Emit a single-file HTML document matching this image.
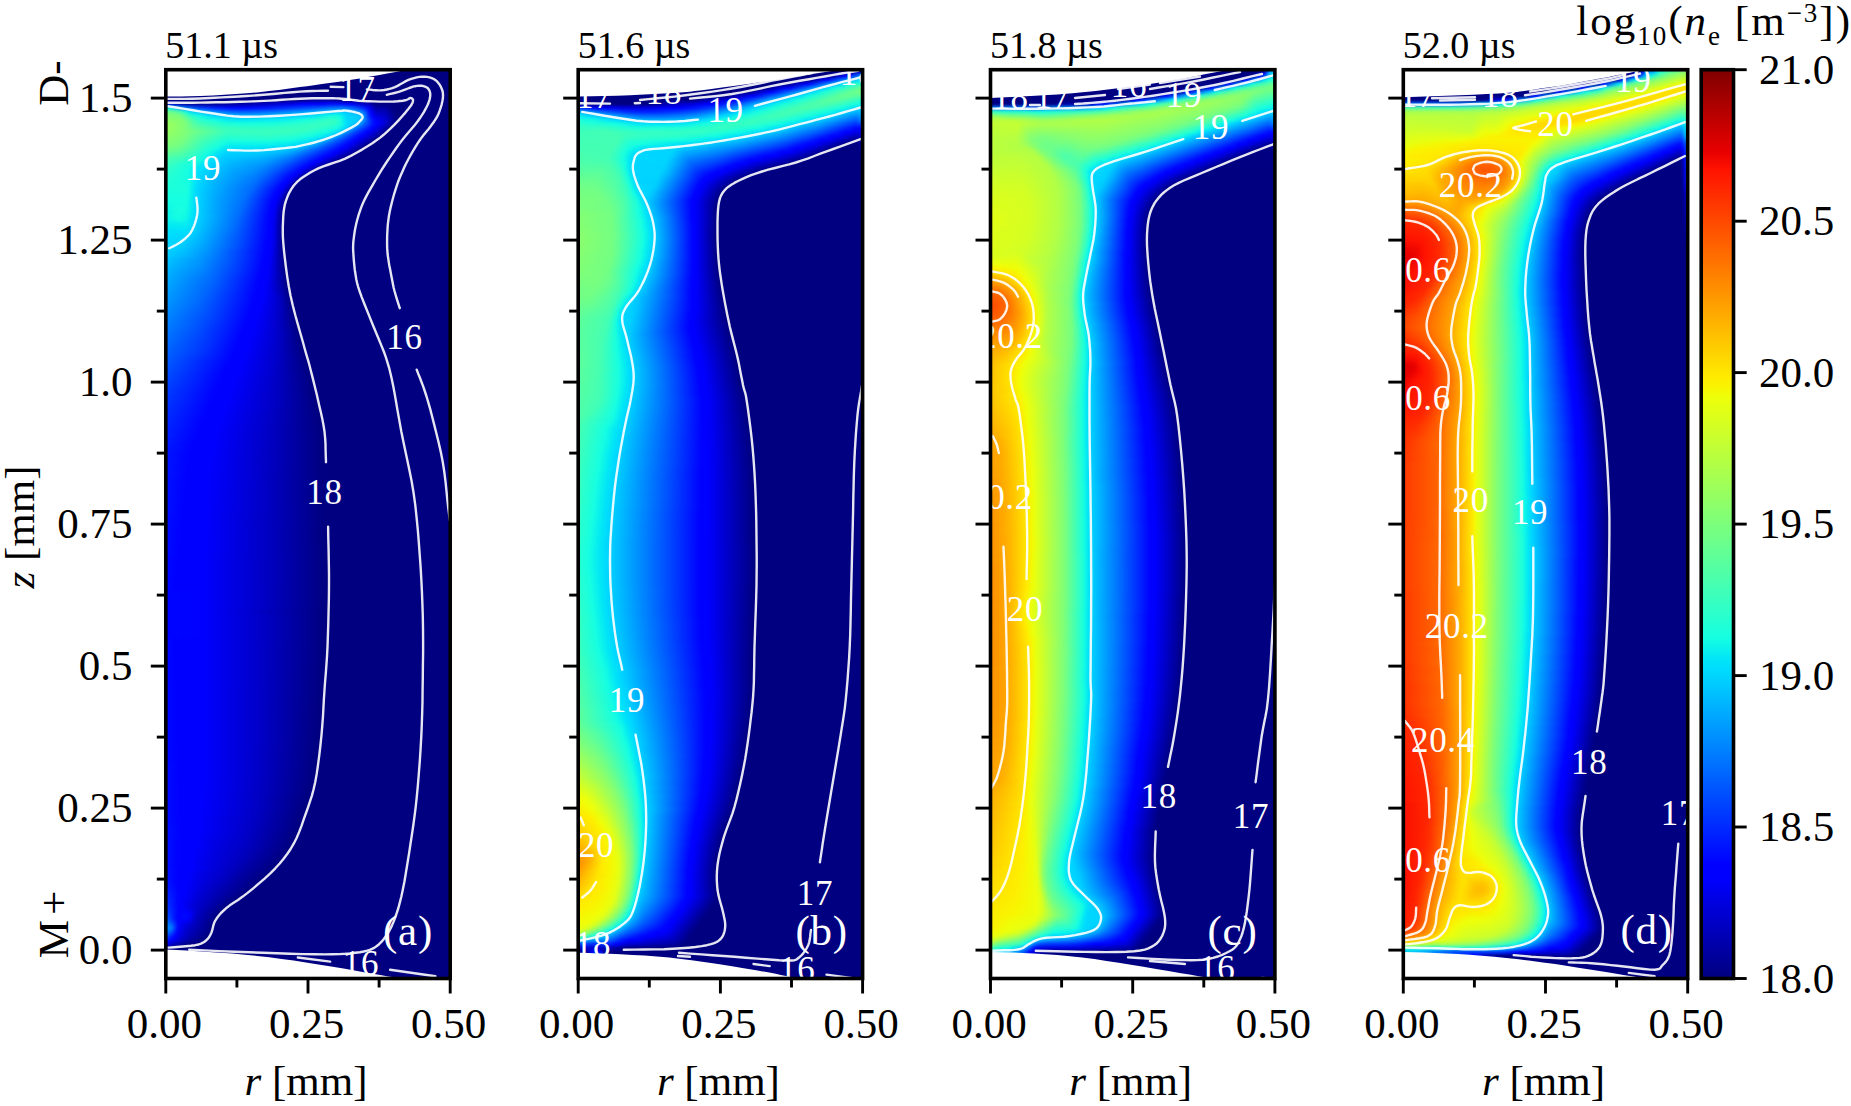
<!DOCTYPE html>
<html><head><meta charset="utf-8"><title>Electron density</title>
<style>
html,body{margin:0;padding:0;background:#fff}
body{width:1851px;height:1106px;position:relative;overflow:hidden;font-family:"Liberation Serif","DejaVu Serif",serif}
.p{position:absolute;top:69.7px;width:284.4px;height:908.8px;overflow:hidden;background:#000080}
.p i{display:block;height:4px;width:100%}
.f{filter:blur(1.5px);margin:0 0 0 -6px;width:296.4px}
svg{position:absolute;left:0;top:0}
text{font-family:"Liberation Serif","DejaVu Serif",serif}
.cb{position:absolute;left:1701.2px;top:69.7px;width:32.3px;height:908.8px;background:linear-gradient(180deg,#800000 0.0%,#e80000 9.0%,#ff1300 11.0%,#feed00 34.0%,#f8f500 35.0%,#eeff09 36.0%,#16ffe1 62.5%,#00e4f8 65.0%,#00dcfe 66.0%,#0000ff 87.5%,#0000ff 89.0%,#000080 100.0%)}
</style></head><body>

<div class="p" style="left:165.8px"><div class="f">
<i style="background:linear-gradient(90deg,#000080 6px,#000080 290px)"></i>
<i style="background:linear-gradient(90deg,#000080 6px,#000080 290px)"></i>
<i style="background:linear-gradient(90deg,#000080 6px,#000080 290px)"></i>
<i style="background:linear-gradient(90deg,#000080 6px,#000080 290px)"></i>
<i style="background:linear-gradient(90deg,#000080 6px,#000080 290px)"></i>
<i style="background:linear-gradient(90deg,#000080 6px,#000080 290px)"></i>
<i style="background:linear-gradient(90deg,#000080 6px,#000080 290px)"></i>
<i style="background:linear-gradient(90deg,#000080 6px,#000080 137px,#000092 147px,#00009f 162px,#00009b 174px,#000080 185px,#000080 290px)"></i>
<i style="background:linear-gradient(90deg,#0000e3 6px,#0000df 9px,#0000b2 20px,#00009f 29px,#000096 37px,#000096 59px,#0000a8 87px,#0000d1 117px,#00f 143px,#00f 162px,#000cff 172px,#000cff 182px,#00f 187px,#00f 191px,#0000d1 200px,#0000ad 210px,#000089 214px,#000080 216px,#000080 290px)"></i>
<i style="background:linear-gradient(90deg,#16ffe1 6px,#0ff8e7 9px,#00e4f8 12px,#00d4ff 14px,#008cff 23px,#0074ff 27px,#04f 39px,#001cff 55px,#0008ff 70px,#0004ff 81px,#0014ff 106px,#0058ff 157px,#0074ff 173px,#007cff 184px,#0058ff 194px,#0014ff 206px,#00f 208px,#00f 209px,#0000b6 214px,#0000a8 216px,#0000a4 225px,#000080 234px,#000080 290px)"></i>
<i style="background:linear-gradient(90deg,#70ff87 6px,#73ff83 9px,#66ff90 15px,#49ffad 20px,#19ffde 26px,#02e8f4 30px,#00dcfe 33px,#008cff 56px,#0068ff 71px,#0060ff 79px,#0060ff 89px,#0074ff 114px,#00d4ff 181px,#00b8ff 193px,#009cff 199px,#0084ff 202px,#0060ff 205px,#00f 210px,#00f 211px,#0000d6 214px,#0000bf 217px,#00b 225px,#000089 233px,#000080 236px,#000080 290px)"></i>
<i style="background:linear-gradient(90deg,#83ff73 6px,#7dff7a 19px,#77ff80 21px,#49ffad 27px,#2cffca 32px,#16ffe1 39px,#02e8f4 48px,#00dcfe 54px,#00b4ff 79px,#00b4ff 95px,#00dcfe 146px,#02e8f4 156px,#16ffe1 170px,#16ffe1 179px,#00e4f8 184px,#00d8ff 186px,#00c8ff 200px,#00b4ff 202px,#0094ff 204px,#0024ff 209px,#00f 212px,#00f 213px,#0000e3 216px,#0000d6 219px,#0000d6 222px,#0000c8 226px,#00008d 234px,#000080 237px,#000080 290px)"></i>
<i style="background:linear-gradient(90deg,#90ff66 6px,#83ff73 21px,#77ff80 25px,#40ffb7 34px,#26ffd1 42px,#16ffe1 54px,#09f0ee 65px,#02e8f4 76px,#09f0ee 124px,#16ffe1 143px,#33ffc4 169px,#33ffc4 175px,#19ffde 181px,#00e4f8 185px,#00d8ff 187px,#0cf 199px,#00b0ff 202px,#0048ff 208px,#0018ff 212px,#00f 215px,#0000da 225px,#000080 237px,#000080 290px)"></i>
<i style="background:linear-gradient(90deg,#9aff5d 6px,#83ff73 23px,#73ff83 28px,#5aff9d 32px,#43ffb4 39px,#1fffd7 65px,#19ffde 84px,#1cffdb 113px,#39ffbe 166px,#2cffca 176px,#19ffde 181px,#02e8f4 185px,#00dcfe 187px,#00c4ff 195px,#00acff 198px,#005cff 205px,#0014ff 213px,#00f 216px,#00f 218px,#0000d1 225px,#000080 234px,#000080 290px)"></i>
<i style="background:linear-gradient(90deg,#9aff5d 6px,#83ff73 23px,#60ff97 35px,#36ffc1 64px,#30ffc7 102px,#39ffbe 151px,#2cffca 164px,#16ffe1 177px,#00e0fb 185px,#00b0ff 191px,#0064ff 198px,#00f 212px,#00f 214px,#0000f1 216px,#0000a8 226px,#000080 230px,#000080 290px)"></i>
<i style="background:linear-gradient(90deg,#97ff60 6px,#83ff73 22px,#39ffbe 67px,#39ffbe 128px,#30ffc7 145px,#16ffe1 166px,#09f0ee 173px,#00d8ff 179px,#00b8ff 183px,#005cff 192px,#00f 206px,#0000fa 209px,#0000b2 220px,#000080 226px,#000080 290px)"></i>
<i style="background:linear-gradient(90deg,#90ff66 6px,#7dff7a 24px,#63ff94 34px,#2cffca 67px,#30ffc7 110px,#26ffd1 134px,#16ffe1 151px,#06ecf1 163px,#00d8ff 169px,#0cf 172px,#004cff 187px,#00f 200px,#0000f6 204px,#00009b 218px,#000080 221px,#000080 290px)"></i>
<i style="background:linear-gradient(90deg,#87ff70 6px,#7aff7d 23px,#49ffad 41px,#1cffdb 67px,#1fffd7 105px,#16ffe1 131px,#06ecf1 149px,#00d8ff 157px,#00c4ff 163px,#0064ff 176px,#00f 194px,#0000f6 198px,#000080 216px,#000080 290px)"></i>
<i style="background:linear-gradient(90deg,#80ff77 6px,#7aff7d 18px,#39ffbe 43px,#16ffe1 63px,#0cf4eb 68px,#0cf4eb 112px,#02e8f4 132px,#00d8ff 143px,#00d0ff 147px,#00acff 156px,#0060ff 168px,#00f 188px,#0000f6 192px,#000080 210px,#000080 290px)"></i>
<i style="background:linear-gradient(90deg,#77ff80 6px,#6dff8a 18px,#49ffad 34px,#29ffce 45px,#16ffe1 56px,#00e4f8 66px,#00e4f8 97px,#00d8ff 116px,#00d0ff 129px,#00c0ff 138px,#00f 181px,#00f 184px,#0000f6 186px,#000080 204px,#000080 290px)"></i>
<i style="background:linear-gradient(90deg,#6aff8d 6px,#5aff9d 20px,#16ffe1 49px,#00dcfe 63px,#00d0ff 72px,#0cf 105px,#00b8ff 124px,#00a0ff 134px,#00f 174px,#00f 177px,#000080 198px,#000080 290px)"></i>
<i style="background:linear-gradient(90deg,#53ffa4 6px,#49ffad 20px,#16ffe1 45px,#00e4f8 54px,#00dcfe 57px,#0cf 65px,#00c0ff 96px,#00acff 114px,#08f 130px,#00f 166px,#00f 170px,#0000b6 181px,#000080 191px,#000080 290px)"></i>
<i style="background:linear-gradient(90deg,#46ffb1 6px,#39ffbe 19px,#16ffe1 40px,#02e8f4 48px,#00dcfe 52px,#00c4ff 65px,#00a4ff 106px,#0070ff 128px,#00f 158px,#00f 161px,#0000f6 163px,#0000b6 172px,#000080 183px,#000080 290px)"></i>
<i style="background:linear-gradient(90deg,#3cffba 6px,#16ffe1 32px,#02e8f4 42px,#00dcfe 48px,#00b4ff 72px,#0098ff 103px,#006cff 121px,#00f 151px,#0000f6 155px,#0000a4 165px,#000080 172px,#000080 290px)"></i>
<i style="background:linear-gradient(90deg,#33ffc4 6px,#16ffe1 28px,#00e4f8 39px,#00dcfe 43px,#00b0ff 69px,#0090ff 99px,#005cff 119px,#00f 144px,#0000fa 147px,#000096 158px,#000080 162px,#000080 290px)"></i>
<i style="background:linear-gradient(90deg,#2cffca 6px,#16ffe1 28px,#00e4f8 37px,#00d8ff 42px,#00a0ff 75px,#0090ff 92px,#006cff 108px,#00f 138px,#0000fa 141px,#0000ad 148px,#000089 152px,#000080 154px,#000080 290px)"></i>
<i style="background:linear-gradient(90deg,#26ffd1 6px,#16ffe1 28px,#00e4f8 36px,#00d8ff 40px,#00a0ff 71px,#007cff 97px,#005cff 108px,#00f 132px,#0000fa 135px,#0000df 138px,#00009f 143px,#000080 147px,#000080 290px)"></i>
<i style="background:linear-gradient(90deg,#23ffd4 6px,#16ffe1 28px,#02e8f4 34px,#00d8ff 39px,#00b8ff 54px,#0074ff 96px,#0020ff 120px,#00f 127px,#00f 130px,#0000ed 132px,#0000a8 137px,#000080 141px,#000080 290px)"></i>
<i style="background:linear-gradient(90deg,#1fffd7 6px,#16ffe1 29px,#02e8f4 34px,#00d8ff 38px,#00b0ff 56px,#0070ff 94px,#002cff 113px,#00f 123px,#00f 126px,#0000ed 128px,#00008d 135px,#000080 137px,#000080 290px)"></i>
<i style="background:linear-gradient(90deg,#1cffdb 6px,#1cffdb 25px,#16ffe1 28px,#00e4f8 34px,#00d8ff 37px,#0098ff 67px,#006cff 92px,#00f 120px,#00f 123px,#0000f6 124px,#000080 133px,#000080 290px)"></i>
<i style="background:linear-gradient(90deg,#19ffde 6px,#1cffdb 24px,#16ffe1 28px,#02e8f4 33px,#00d8ff 36px,#00b4ff 51px,#0068ff 91px,#00f 117px,#0000fa 121px,#00b 126px,#00008d 129px,#000080 131px,#000080 290px)"></i>
<i style="background:linear-gradient(90deg,#16ffe1 6px,#16ffe1 28px,#02e8f4 33px,#00d8ff 36px,#00acff 54px,#0070ff 86px,#00f 115px,#00f 118px,#0000ed 120px,#00008d 127px,#000080 129px,#000080 290px)"></i>
<i style="background:linear-gradient(90deg,#16ffe1 6px,#16ffe1 27px,#02e8f4 32px,#00d8ff 36px,#00a4ff 57px,#0070ff 84px,#00f 113px,#00f 116px,#0000f1 118px,#000092 125px,#000080 127px,#000080 290px)"></i>
<i style="background:linear-gradient(90deg,#13fce4 6px,#16ffe1 27px,#02e8f4 32px,#00d8ff 36px,#00acff 53px,#0068ff 85px,#00f 112px,#00f 115px,#0000ed 117px,#00008d 124px,#000080 126px,#000080 290px)"></i>
<i style="background:linear-gradient(90deg,#0ff8e7 6px,#19ffde 19px,#16ffe1 26px,#02e8f4 32px,#00d8ff 36px,#00a4ff 56px,#006cff 82px,#00f 111px,#00f 114px,#0000ed 116px,#00009b 122px,#000080 125px,#000080 290px)"></i>
<i style="background:linear-gradient(90deg,#0cf4eb 6px,#19ffde 20px,#16ffe1 25px,#02e8f4 32px,#00d8ff 36px,#00acff 52px,#0070ff 79px,#00f 110px,#00f 113px,#0000f1 115px,#00009f 121px,#000080 124px,#000080 290px)"></i>
<i style="background:linear-gradient(90deg,#0cf4eb 6px,#16ffe1 17px,#0ff8e7 27px,#00e4f8 32px,#00d8ff 35px,#0068ff 80px,#00f 109px,#00f 113px,#0000ed 115px,#00008d 122px,#000080 124px,#000080 290px)"></i>
<i style="background:linear-gradient(90deg,#09f0ee 6px,#13fce4 20px,#0ff8e7 25px,#00e4f8 31px,#00d8ff 34px,#006cff 77px,#00f 109px,#0000fa 113px,#0000e8 115px,#000096 121px,#000080 124px,#000080 290px)"></i>
<i style="background:linear-gradient(90deg,#06ecf1 6px,#06ecf1 27px,#00d8ff 33px,#0068ff 77px,#00f 108px,#0000fa 113px,#000080 123px,#000080 290px)"></i>
<i style="background:linear-gradient(90deg,#00e4f8 6px,#02e8f4 25px,#00e0fb 29px,#006cff 74px,#00f 108px,#00f 112px,#0000e3 115px,#00009f 120px,#000080 123px,#000080 290px)"></i>
<i style="background:linear-gradient(90deg,#00e0fb 6px,#00dcfe 28px,#0068ff 74px,#00f 108px,#00f 112px,#0000d6 116px,#000092 121px,#000080 123px,#000080 290px)"></i>
<i style="background:linear-gradient(90deg,#00dcfe 6px,#00d8ff 25px,#00c8ff 34px,#0050ff 81px,#00f 107px,#00f 111px,#0000f6 113px,#000080 123px,#000080 290px)"></i>
<i style="background:linear-gradient(90deg,#00d8ff 6px,#00d4ff 23px,#00b0ff 42px,#04f 84px,#00f 107px,#0000fa 112px,#0000df 115px,#000080 123px,#000080 290px)"></i>
<i style="background:linear-gradient(90deg,#00d8ff 6px,#00d0ff 21px,#00a8ff 43px,#004cff 80px,#00f 106px,#0000fa 112px,#0000df 115px,#000096 121px,#000080 124px,#000080 290px)"></i>
<i style="background:linear-gradient(90deg,#00d4ff 6px,#00c8ff 22px,#00a0ff 44px,#0050ff 77px,#00f 106px,#00f 111px,#0000d1 116px,#00008d 122px,#000080 124px,#000080 290px)"></i>
<i style="background:linear-gradient(90deg,#00d0ff 6px,#00c4ff 20px,#0094ff 47px,#00f 105px,#00f 110px,#0000f6 112px,#000080 124px,#000080 290px)"></i>
<i style="background:linear-gradient(90deg,#0cf 6px,#00b0ff 29px,#08f 50px,#0030ff 87px,#00f 104px,#00f 110px,#000089 123px,#000080 125px,#000080 290px)"></i>
<i style="background:linear-gradient(90deg,#00c4ff 6px,#0094ff 41px,#0058ff 69px,#00f 104px,#00f 109px,#0000f6 111px,#000080 125px,#000080 290px)"></i>
<i style="background:linear-gradient(90deg,#00c0ff 6px,#0090ff 41px,#04f 76px,#00f 103px,#00f 109px,#000080 125px,#000080 290px)"></i>
<i style="background:linear-gradient(90deg,#00b8ff 6px,#008cff 40px,#004cff 71px,#00f 102px,#00f 108px,#0000f6 110px,#00009f 121px,#000080 126px,#000080 290px)"></i>
<i style="background:linear-gradient(90deg,#00b4ff 6px,#0080ff 44px,#0030ff 82px,#00f 101px,#00f 107px,#0000ed 111px,#000080 126px,#000080 290px)"></i>
<i style="background:linear-gradient(90deg,#00b0ff 6px,#0070ff 50px,#00f 100px,#00f 107px,#0000f6 109px,#000080 127px,#000080 290px)"></i>
<i style="background:linear-gradient(90deg,#00acff 6px,#0068ff 52px,#00f 99px,#00f 106px,#0000ed 110px,#000080 127px,#000080 290px)"></i>
<i style="background:linear-gradient(90deg,#00a8ff 6px,#0064ff 52px,#00f 98px,#0000fa 107px,#000080 128px,#000080 290px)"></i>
<i style="background:linear-gradient(90deg,#00a4ff 6px,#0060ff 52px,#00f 97px,#00f 105px,#0000da 113px,#000080 129px,#000080 290px)"></i>
<i style="background:linear-gradient(90deg,#00a0ff 6px,#006cff 43px,#00f 96px,#00f 104px,#0000ed 110px,#000080 130px,#000080 290px)"></i>
<i style="background:linear-gradient(90deg,#009cff 6px,#0068ff 43px,#00f 95px,#00f 103px,#0000e3 112px,#00b 121px,#000080 130px,#000080 290px)"></i>
<i style="background:linear-gradient(90deg,#0098ff 6px,#0064ff 43px,#00f 94px,#00f 102px,#0000d1 117px,#0000bf 121px,#000080 131px,#000080 290px)"></i>
<i style="background:linear-gradient(90deg,#0094ff 6px,#006cff 36px,#00f 93px,#00f 101px,#0000cd 118px,#000080 132px,#000080 290px)"></i>
<i style="background:linear-gradient(90deg,#0090ff 6px,#005cff 43px,#00f 91px,#00f 100px,#0000cd 118px,#000080 133px,#000080 290px)"></i>
<i style="background:linear-gradient(90deg,#008cff 6px,#0058ff 43px,#00f 90px,#00f 99px,#0000da 113px,#0000c4 120px,#000080 134px,#000080 290px)"></i>
<i style="background:linear-gradient(90deg,#08f 6px,#004cff 48px,#00f 89px,#00f 98px,#0000d1 116px,#000080 135px,#000080 290px)"></i>
<i style="background:linear-gradient(90deg,#0084ff 6px,#0048ff 48px,#00f 87px,#00f 96px,#0000c8 119px,#000080 136px,#000080 290px)"></i>
<i style="background:linear-gradient(90deg,#0080ff 6px,#0064ff 28px,#00f 86px,#00f 95px,#0000cd 117px,#000080 137px,#000080 290px)"></i>
<i style="background:linear-gradient(90deg,#007cff 6px,#004cff 41px,#00f 84px,#00f 94px,#0000cd 117px,#000080 138px,#000080 290px)"></i>
<i style="background:linear-gradient(90deg,#0078ff 6px,#0050ff 36px,#00f 82px,#00f 92px,#0000e8 104px,#0000c4 120px,#000080 139px,#000080 290px)"></i>
<i style="background:linear-gradient(90deg,#0074ff 6px,#0040ff 44px,#00f 81px,#00f 91px,#0000d6 112px,#00b 123px,#000080 140px,#000080 290px)"></i>
<i style="background:linear-gradient(90deg,#0070ff 6px,#0038ff 47px,#00f 79px,#00f 89px,#0000cd 116px,#000080 141px,#000080 290px)"></i>
<i style="background:linear-gradient(90deg,#006cff 6px,#0030ff 50px,#00f 77px,#00f 88px,#0000cd 116px,#000080 142px,#000080 290px)"></i>
<i style="background:linear-gradient(90deg,#0068ff 6px,#003cff 40px,#00f 76px,#00f 87px,#0000c8 118px,#000080 143px,#000080 290px)"></i>
<i style="background:linear-gradient(90deg,#0064ff 6px,#0034ff 43px,#00f 74px,#00f 85px,#0000cd 115px,#000080 144px,#000080 290px)"></i>
<i style="background:linear-gradient(90deg,#0060ff 6px,#002cff 46px,#00f 72px,#00f 84px,#0000df 104px,#00b 123px,#000080 145px,#000080 290px)"></i>
<i style="background:linear-gradient(90deg,#005cff 6px,#00f 71px,#00f 82px,#0000c8 117px,#000080 146px,#000080 290px)"></i>
<i style="background:linear-gradient(90deg,#0058ff 6px,#00f 69px,#00f 81px,#0000cd 114px,#000080 147px,#000080 290px)"></i>
<i style="background:linear-gradient(90deg,#0054ff 6px,#00f 67px,#00f 79px,#0000cd 113px,#000080 148px,#000080 290px)"></i>
<i style="background:linear-gradient(90deg,#0050ff 6px,#00f 64px,#00f 78px,#0000cd 113px,#000080 149px,#000080 290px)"></i>
<i style="background:linear-gradient(90deg,#004cff 6px,#00f 62px,#00f 76px,#0000c4 118px,#000080 150px,#000080 290px)"></i>
<i style="background:linear-gradient(90deg,#0048ff 6px,#00f 61px,#00f 74px,#0000c4 117px,#000080 151px,#000080 290px)"></i>
<i style="background:linear-gradient(90deg,#04f 6px,#00f 59px,#00f 73px,#0000c4 117px,#000080 152px,#000080 290px)"></i>
<i style="background:linear-gradient(90deg,#0040ff 6px,#00f 57px,#00f 71px,#0000c4 116px,#000080 153px,#000080 290px)"></i>
<i style="background:linear-gradient(90deg,#003cff 6px,#00f 55px,#00f 70px,#0000c4 116px,#000080 153px,#000080 290px)"></i>
<i style="background:linear-gradient(90deg,#0038ff 6px,#00f 53px,#00f 68px,#0000c4 116px,#000080 154px,#000080 290px)"></i>
<i style="background:linear-gradient(90deg,#0038ff 6px,#00f 52px,#00f 67px,#0000c4 115px,#000080 155px,#000080 290px)"></i>
<i style="background:linear-gradient(90deg,#0034ff 6px,#00f 50px,#00f 66px,#0000c4 115px,#000080 156px,#000080 290px)"></i>
<i style="background:linear-gradient(90deg,#0030ff 6px,#00f 48px,#00f 64px,#0000c4 114px,#000080 157px,#000080 290px)"></i>
<i style="background:linear-gradient(90deg,#0030ff 6px,#00f 47px,#00f 63px,#0000c4 113px,#000080 158px,#000080 290px)"></i>
<i style="background:linear-gradient(90deg,#002cff 6px,#00f 45px,#00f 61px,#0000bf 116px,#000080 158px,#000080 290px)"></i>
<i style="background:linear-gradient(90deg,#0028ff 6px,#00f 43px,#00f 60px,#0000c4 112px,#000080 159px,#000080 290px)"></i>
<i style="background:linear-gradient(90deg,#0028ff 6px,#00f 42px,#00f 59px,#0000c4 111px,#000080 160px,#000080 290px)"></i>
<i style="background:linear-gradient(90deg,#0024ff 6px,#00f 40px,#00f 58px,#0000cd 103px,#000080 160px,#000080 290px)"></i>
<i style="background:linear-gradient(90deg,#0020ff 6px,#00f 38px,#00f 56px,#0000c4 110px,#000080 161px,#000080 290px)"></i>
<i style="background:linear-gradient(90deg,#0020ff 6px,#00f 37px,#00f 55px,#0000c4 110px,#000080 161px,#000080 290px)"></i>
<i style="background:linear-gradient(90deg,#001cff 6px,#00f 35px,#00f 54px,#00b 117px,#000080 162px,#000080 290px)"></i>
<i style="background:linear-gradient(90deg,#0018ff 6px,#00f 33px,#00f 53px,#0000c4 109px,#000080 162px,#000080 290px)"></i>
<i style="background:linear-gradient(90deg,#0018ff 6px,#00f 32px,#00f 52px,#0000c4 109px,#000080 162px,#000080 290px)"></i>
<i style="background:linear-gradient(90deg,#0014ff 6px,#00f 30px,#00f 52px,#0000b2 124px,#000080 162px,#000080 290px)"></i>
<i style="background:linear-gradient(90deg,#0014ff 6px,#00f 29px,#00f 51px,#00b 116px,#000080 162px,#000080 290px)"></i>
<i style="background:linear-gradient(90deg,#0014ff 6px,#00f 28px,#00f 50px,#00b 116px,#000080 162px,#000080 290px)"></i>
<i style="background:linear-gradient(90deg,#0014ff 6px,#00f 28px,#00f 50px,#00b 116px,#000080 162px,#000080 290px)"></i>
<i style="background:linear-gradient(90deg,#0014ff 6px,#00f 27px,#00f 49px,#0000c4 108px,#000080 162px,#000080 290px)"></i>
<i style="background:linear-gradient(90deg,#0014ff 6px,#00f 27px,#00f 49px,#0000c4 108px,#000080 163px,#000080 290px)"></i>
<i style="background:linear-gradient(90deg,#0014ff 6px,#00f 26px,#00f 48px,#0000cd 99px,#000080 163px,#000080 290px)"></i>
<i style="background:linear-gradient(90deg,#0010ff 6px,#00f 26px,#00f 48px,#0000cd 99px,#000080 163px,#000080 290px)"></i>
<i style="background:linear-gradient(90deg,#0010ff 6px,#00f 26px,#00f 48px,#0000c4 107px,#000080 163px,#000080 290px)"></i>
<i style="background:linear-gradient(90deg,#0010ff 6px,#00f 25px,#00f 47px,#0000c4 107px,#000080 163px,#000080 290px)"></i>
<i style="background:linear-gradient(90deg,#0010ff 6px,#00f 25px,#00f 47px,#0000c4 107px,#000080 163px,#000080 290px)"></i>
<i style="background:linear-gradient(90deg,#0010ff 6px,#00f 24px,#00f 47px,#0000c4 107px,#000080 163px,#000080 290px)"></i>
<i style="background:linear-gradient(90deg,#0010ff 6px,#00f 24px,#00f 46px,#0000c4 107px,#000080 163px,#000080 290px)"></i>
<i style="background:linear-gradient(90deg,#0010ff 6px,#00f 23px,#00f 46px,#0000c4 107px,#000080 164px,#000080 290px)"></i>
<i style="background:linear-gradient(90deg,#0010ff 6px,#00f 23px,#00f 46px,#0000c4 107px,#000080 164px,#000080 290px)"></i>
<i style="background:linear-gradient(90deg,#0010ff 6px,#00f 23px,#00f 45px,#0000c4 107px,#000080 164px,#000080 290px)"></i>
<i style="background:linear-gradient(90deg,#000cff 6px,#00f 22px,#00f 45px,#00b 115px,#000080 164px,#000080 290px)"></i>
<i style="background:linear-gradient(90deg,#000cff 6px,#00f 22px,#00f 45px,#0000b2 123px,#000080 164px,#000080 290px)"></i>
<i style="background:linear-gradient(90deg,#000cff 6px,#00f 21px,#00f 45px,#0000b2 123px,#000080 164px,#000080 290px)"></i>
<i style="background:linear-gradient(90deg,#000cff 6px,#00f 21px,#00f 45px,#0000c4 106px,#000080 164px,#000080 290px)"></i>
<i style="background:linear-gradient(90deg,#000cff 6px,#00f 20px,#00f 44px,#0000c4 106px,#000080 164px,#000080 290px)"></i>
<i style="background:linear-gradient(90deg,#000cff 6px,#00f 20px,#00f 44px,#0000c4 106px,#000080 164px,#000080 290px)"></i>
<i style="background:linear-gradient(90deg,#000cff 6px,#00f 20px,#00f 44px,#0000c4 106px,#000080 164px,#000080 290px)"></i>
<i style="background:linear-gradient(90deg,#000cff 6px,#00f 19px,#00f 44px,#0000c4 106px,#000080 164px,#000080 290px)"></i>
<i style="background:linear-gradient(90deg,#000cff 6px,#00f 19px,#00f 44px,#0000c4 106px,#000080 165px,#000080 290px)"></i>
<i style="background:linear-gradient(90deg,#000cff 6px,#00f 18px,#00f 44px,#0000c4 106px,#000080 165px,#000080 290px)"></i>
<i style="background:linear-gradient(90deg,#0008ff 6px,#00f 18px,#00f 43px,#0000c4 106px,#000080 165px,#000080 290px)"></i>
<i style="background:linear-gradient(90deg,#0008ff 6px,#00f 17px,#00f 43px,#00b 114px,#000080 165px,#000080 290px)"></i>
<i style="background:linear-gradient(90deg,#0008ff 6px,#00f 17px,#00f 43px,#00b 114px,#000080 165px,#000080 290px)"></i>
<i style="background:linear-gradient(90deg,#0008ff 6px,#00f 16px,#00f 43px,#00b 114px,#000080 165px,#000080 290px)"></i>
<i style="background:linear-gradient(90deg,#0008ff 6px,#00f 16px,#00f 43px,#00b 114px,#000080 165px,#000080 290px)"></i>
<i style="background:linear-gradient(90deg,#0008ff 6px,#00f 16px,#00f 43px,#00b 114px,#000080 165px,#000080 290px)"></i>
<i style="background:linear-gradient(90deg,#0008ff 6px,#00f 15px,#00f 43px,#00b 114px,#000080 165px,#000080 290px)"></i>
<i style="background:linear-gradient(90deg,#0008ff 6px,#00f 15px,#00f 43px,#0000c4 105px,#000080 165px,#000080 290px)"></i>
<i style="background:linear-gradient(90deg,#0008ff 6px,#00f 14px,#00f 43px,#0000c4 105px,#000080 165px,#000080 290px)"></i>
<i style="background:linear-gradient(90deg,#0004ff 6px,#00f 43px,#0000c4 105px,#000080 165px,#000080 290px)"></i>
<i style="background:linear-gradient(90deg,#0004ff 6px,#00f 43px,#0000c4 105px,#000080 165px,#000080 290px)"></i>
<i style="background:linear-gradient(90deg,#0004ff 6px,#00f 43px,#0000c4 105px,#000080 165px,#000080 290px)"></i>
<i style="background:linear-gradient(90deg,#0004ff 6px,#00f 43px,#0000c4 105px,#000080 165px,#000080 290px)"></i>
<i style="background:linear-gradient(90deg,#0004ff 6px,#00f 43px,#0000c4 105px,#000080 165px,#000080 290px)"></i>
<i style="background:linear-gradient(90deg,#0004ff 6px,#00f 43px,#000080 165px,#000080 290px)"></i>
<i style="background:linear-gradient(90deg,#0004ff 6px,#00f 43px,#00b 113px,#000080 164px,#000080 290px)"></i>
<i style="background:linear-gradient(90deg,#0004ff 6px,#00f 43px,#00b 113px,#000080 164px,#000080 290px)"></i>
<i style="background:linear-gradient(90deg,#0004ff 6px,#00f 43px,#00b 113px,#000080 164px,#000080 290px)"></i>
<i style="background:linear-gradient(90deg,#0004ff 6px,#00f 43px,#00b 113px,#000080 164px,#000080 290px)"></i>
<i style="background:linear-gradient(90deg,#0004ff 6px,#00f 43px,#00b 113px,#000080 164px,#000080 290px)"></i>
<i style="background:linear-gradient(90deg,#0004ff 6px,#00f 43px,#00b 113px,#000080 164px,#000080 290px)"></i>
<i style="background:linear-gradient(90deg,#0008ff 6px,#00f 14px,#00f 43px,#00b 113px,#000080 164px,#000080 290px)"></i>
<i style="background:linear-gradient(90deg,#0008ff 6px,#00f 14px,#00f 43px,#0000c4 104px,#000080 164px,#000080 290px)"></i>
<i style="background:linear-gradient(90deg,#0008ff 6px,#00f 14px,#00f 43px,#0000c4 104px,#000080 163px,#000080 290px)"></i>
<i style="background:linear-gradient(90deg,#0008ff 6px,#00f 14px,#00f 43px,#0000c4 104px,#000080 163px,#000080 290px)"></i>
<i style="background:linear-gradient(90deg,#0008ff 6px,#00f 15px,#00f 43px,#0000c4 104px,#000080 163px,#000080 290px)"></i>
<i style="background:linear-gradient(90deg,#0008ff 6px,#00f 15px,#00f 43px,#0000c4 104px,#000080 163px,#000080 290px)"></i>
<i style="background:linear-gradient(90deg,#0008ff 6px,#00f 15px,#00f 43px,#0000c4 104px,#000080 163px,#000080 290px)"></i>
<i style="background:linear-gradient(90deg,#0008ff 6px,#00f 15px,#00f 43px,#0000c4 104px,#000080 162px,#000080 290px)"></i>
<i style="background:linear-gradient(90deg,#0008ff 6px,#00f 15px,#00f 43px,#0000c4 104px,#000080 162px,#000080 290px)"></i>
<i style="background:linear-gradient(90deg,#0008ff 6px,#00f 15px,#00f 43px,#0000c4 104px,#000080 162px,#000080 290px)"></i>
<i style="background:linear-gradient(90deg,#0008ff 6px,#00f 15px,#00f 43px,#0000c4 104px,#000080 161px,#000080 290px)"></i>
<i style="background:linear-gradient(90deg,#0008ff 6px,#00f 16px,#00f 43px,#0000c4 104px,#000080 161px,#000080 290px)"></i>
<i style="background:linear-gradient(90deg,#0008ff 6px,#00f 16px,#00f 43px,#0000c4 104px,#000080 161px,#000080 290px)"></i>
<i style="background:linear-gradient(90deg,#0008ff 6px,#00f 16px,#00f 43px,#00b 112px,#000080 161px,#000080 290px)"></i>
<i style="background:linear-gradient(90deg,#0008ff 6px,#00f 16px,#00f 43px,#0000c4 103px,#000080 160px,#000080 290px)"></i>
<i style="background:linear-gradient(90deg,#0008ff 6px,#00f 16px,#00f 43px,#0000c4 103px,#000080 160px,#000080 290px)"></i>
<i style="background:linear-gradient(90deg,#0008ff 6px,#00f 16px,#00f 43px,#0000c4 103px,#000080 160px,#000080 290px)"></i>
<i style="background:linear-gradient(90deg,#0008ff 6px,#00f 16px,#00f 43px,#0000c4 103px,#000080 160px,#000080 290px)"></i>
<i style="background:linear-gradient(90deg,#0008ff 6px,#00f 17px,#00f 43px,#0000c4 103px,#000080 159px,#000080 290px)"></i>
<i style="background:linear-gradient(90deg,#0008ff 6px,#00f 17px,#00f 43px,#0000c4 103px,#000080 159px,#000080 290px)"></i>
<i style="background:linear-gradient(90deg,#0008ff 6px,#00f 17px,#00f 43px,#0000c4 103px,#000080 159px,#000080 290px)"></i>
<i style="background:linear-gradient(90deg,#0008ff 6px,#00f 17px,#00f 43px,#0000c4 103px,#000080 159px,#000080 290px)"></i>
<i style="background:linear-gradient(90deg,#0008ff 6px,#00f 17px,#00f 43px,#0000c4 103px,#000080 158px,#000080 290px)"></i>
<i style="background:linear-gradient(90deg,#0008ff 6px,#00f 17px,#00f 43px,#0000c4 103px,#000080 158px,#000080 290px)"></i>
<i style="background:linear-gradient(90deg,#0008ff 6px,#00f 17px,#00f 43px,#0000c4 103px,#000080 158px,#000080 290px)"></i>
<i style="background:linear-gradient(90deg,#0008ff 6px,#00f 17px,#00f 43px,#0000c4 103px,#000080 157px,#000080 290px)"></i>
<i style="background:linear-gradient(90deg,#0008ff 6px,#00f 18px,#00f 43px,#0000c4 103px,#000080 157px,#000080 290px)"></i>
<i style="background:linear-gradient(90deg,#0008ff 6px,#00f 18px,#00f 43px,#0000c4 103px,#000080 157px,#000080 290px)"></i>
<i style="background:linear-gradient(90deg,#0008ff 6px,#00f 18px,#00f 43px,#0000cd 94px,#000080 156px,#000080 290px)"></i>
<i style="background:linear-gradient(90deg,#0008ff 6px,#00f 18px,#00f 43px,#0000c4 102px,#000080 156px,#000080 290px)"></i>
<i style="background:linear-gradient(90deg,#0008ff 6px,#00f 18px,#00f 43px,#00b 110px,#000080 155px,#000080 290px)"></i>
<i style="background:linear-gradient(90deg,#000cff 6px,#00f 18px,#00f 43px,#0000c4 102px,#000080 155px,#000080 290px)"></i>
<i style="background:linear-gradient(90deg,#000cff 6px,#00f 18px,#00f 43px,#0000c4 102px,#000080 154px,#000080 290px)"></i>
<i style="background:linear-gradient(90deg,#000cff 6px,#00f 18px,#00f 43px,#0000c4 102px,#000080 153px,#000080 290px)"></i>
<i style="background:linear-gradient(90deg,#000cff 6px,#00f 18px,#00f 43px,#00b 109px,#000080 153px,#000080 290px)"></i>
<i style="background:linear-gradient(90deg,#000cff 6px,#00f 19px,#00f 43px,#0000c4 101px,#000080 152px,#000080 290px)"></i>
<i style="background:linear-gradient(90deg,#000cff 6px,#00f 19px,#00f 43px,#0000c4 101px,#000080 151px,#000080 290px)"></i>
<i style="background:linear-gradient(90deg,#000cff 6px,#00f 19px,#00f 43px,#0000c4 100px,#000080 151px,#000080 290px)"></i>
<i style="background:linear-gradient(90deg,#000cff 6px,#00f 19px,#00f 42px,#0000c4 100px,#000080 150px,#000080 290px)"></i>
<i style="background:linear-gradient(90deg,#000cff 6px,#00f 19px,#00f 42px,#0000c4 99px,#000080 148px,#000080 290px)"></i>
<i style="background:linear-gradient(90deg,#000cff 6px,#00f 19px,#00f 42px,#0000c4 98px,#000080 147px,#000080 290px)"></i>
<i style="background:linear-gradient(90deg,#000cff 6px,#00f 19px,#00f 41px,#0000c4 98px,#000080 146px,#000080 290px)"></i>
<i style="background:linear-gradient(90deg,#000cff 6px,#00f 19px,#00f 41px,#0000c4 97px,#000080 145px,#000080 290px)"></i>
<i style="background:linear-gradient(90deg,#000cff 6px,#00f 19px,#00f 41px,#0000c4 96px,#000080 143px,#000080 290px)"></i>
<i style="background:linear-gradient(90deg,#000cff 6px,#00f 19px,#00f 40px,#0000c4 95px,#000080 142px,#000080 290px)"></i>
<i style="background:linear-gradient(90deg,#000cff 6px,#00f 20px,#00f 40px,#0000e3 61px,#0000c4 94px,#000080 140px,#000080 290px)"></i>
<i style="background:linear-gradient(90deg,#000cff 6px,#00f 20px,#00f 39px,#0000c4 93px,#000080 139px,#000080 290px)"></i>
<i style="background:linear-gradient(90deg,#0010ff 6px,#00f 20px,#00f 39px,#0000c4 92px,#000080 138px,#000080 290px)"></i>
<i style="background:linear-gradient(90deg,#0010ff 6px,#00f 20px,#00f 38px,#0000c8 87px,#000080 136px,#000080 290px)"></i>
<i style="background:linear-gradient(90deg,#0010ff 6px,#00f 20px,#00f 37px,#0000c4 89px,#000080 134px,#000080 290px)"></i>
<i style="background:linear-gradient(90deg,#0010ff 6px,#00f 20px,#00f 37px,#0000e3 56px,#0000c8 84px,#000080 133px,#000080 290px)"></i>
<i style="background:linear-gradient(90deg,#0010ff 6px,#00f 19px,#00f 36px,#0000e3 55px,#0000c4 86px,#000080 130px,#000080 290px)"></i>
<i style="background:linear-gradient(90deg,#0010ff 6px,#00f 19px,#00f 35px,#0000da 61px,#0000c4 84px,#000080 128px,#000080 290px)"></i>
<i style="background:linear-gradient(90deg,#0010ff 6px,#00f 19px,#00f 34px,#0000da 59px,#0000c4 81px,#000080 125px,#000080 290px)"></i>
<i style="background:linear-gradient(90deg,#0010ff 6px,#00f 19px,#00f 33px,#0000d6 61px,#0000c4 79px,#000080 123px,#000080 290px)"></i>
<i style="background:linear-gradient(90deg,#0010ff 6px,#00f 19px,#00f 33px,#0000f1 39px,#0000c4 76px,#000080 120px,#000080 290px)"></i>
<i style="background:linear-gradient(90deg,#0010ff 6px,#00f 18px,#00f 32px,#0000e3 47px,#0000c4 74px,#0000a8 88px,#000080 116px,#000080 290px)"></i>
<i style="background:linear-gradient(90deg,#0010ff 6px,#00f 18px,#00f 31px,#000080 113px,#000080 290px)"></i>
<i style="background:linear-gradient(90deg,#0014ff 6px,#00f 18px,#00f 30px,#0000e3 44px,#0000c4 68px,#00009f 87px,#000080 109px,#000080 290px)"></i>
<i style="background:linear-gradient(90deg,#0014ff 6px,#00f 17px,#00f 29px,#0000e8 39px,#0000c4 65px,#0000a8 78px,#000080 104px,#000080 290px)"></i>
<i style="background:linear-gradient(90deg,#0014ff 6px,#00f 17px,#00f 28px,#0000e3 40px,#0000c4 62px,#00009b 82px,#000080 100px,#000080 290px)"></i>
<i style="background:linear-gradient(90deg,#0018ff 6px,#00f 17px,#00f 27px,#0000e8 36px,#000080 95px,#000080 290px)"></i>
<i style="background:linear-gradient(90deg,#001cff 6px,#00f 18px,#00f 26px,#0000d1 46px,#000080 91px,#000080 290px)"></i>
<i style="background:linear-gradient(90deg,#0024ff 6px,#00f 19px,#00f 25px,#0000da 39px,#000080 86px,#000080 290px)"></i>
<i style="background:linear-gradient(90deg,#0028ff 6px,#00f 19px,#00f 24px,#0000da 37px,#000080 81px,#000080 290px)"></i>
<i style="background:linear-gradient(90deg,#002cff 6px,#0024ff 10px,#00f 18px,#00f 23px,#0000d1 39px,#000080 75px,#000080 290px)"></i>
<i style="background:linear-gradient(90deg,#0034ff 6px,#00f 18px,#00f 22px,#0000e3 30px,#000080 70px,#000080 290px)"></i>
<i style="background:linear-gradient(90deg,#0038ff 6px,#0030ff 9px,#00f 18px,#00f 24px,#0000df 31px,#000080 65px,#000080 290px)"></i>
<i style="background:linear-gradient(90deg,#0040ff 6px,#003cff 8px,#00f 18px,#00f 29px,#0000da 34px,#0000b6 42px,#000080 61px,#000080 290px)"></i>
<i style="background:linear-gradient(90deg,#0050ff 6px,#0048ff 8px,#0008ff 16px,#00f 18px,#00f 21px,#000cff 24px,#00f 30px,#0000d1 35px,#0000bf 38px,#000080 57px,#000080 290px)"></i>
<i style="background:linear-gradient(90deg,#0064ff 6px,#0048ff 10px,#000cff 16px,#00f 18px,#00f 27px,#0000f6 29px,#0000bf 36px,#000080 55px,#000080 290px)"></i>
<i style="background:linear-gradient(90deg,#0084ff 6px,#0064ff 11px,#0040ff 14px,#00f 18px,#0000d6 30px,#0000b6 36px,#000080 53px,#000080 290px)"></i>
<i style="background:linear-gradient(90deg,#0094ff 6px,#0090ff 9px,#0078ff 12px,#0068ff 13px,#0020ff 16px,#00f 18px,#0000c4 30px,#000092 47px,#000080 51px,#000080 290px)"></i>
<i style="background:linear-gradient(90deg,#0078ff 6px,#005cff 11px,#0040ff 13px,#0008ff 16px,#00f 17px,#0000e3 21px,#0000bf 29px,#000080 50px,#000080 290px)"></i>
<i style="background:linear-gradient(90deg,#004cff 6px,#04f 8px,#0004ff 14px,#00f 15px,#00f 16px,#0000ed 18px,#0000b2 30px,#000080 47px,#000080 290px)"></i>
<i style="background:linear-gradient(90deg,#0028ff 6px,#00f 11px,#00f 13px,#0000d6 19px,#00009f 31px,#000080 43px,#000080 290px)"></i>
<i style="background:linear-gradient(90deg,#0000f1 6px,#0000bf 13px,#000080 29px,#000080 290px)"></i>
<i style="background:linear-gradient(90deg,#00009b 6px,#000080 13px,#000080 290px)"></i>
<i style="background:linear-gradient(90deg,#000080 6px,#000080 290px)"></i>
<i style="background:linear-gradient(90deg,#000080 6px,#000080 290px)"></i>
<i style="background:linear-gradient(90deg,#000080 6px,#000080 290px)"></i>
<i style="background:linear-gradient(90deg,#000080 6px,#000080 290px)"></i>
<i style="background:linear-gradient(90deg,#000080 6px,#000080 290px)"></i>
<i style="background:linear-gradient(90deg,#000080 6px,#000080 290px)"></i>
<i style="background:linear-gradient(90deg,#000080 6px,#000080 290px)"></i>
<i style="background:linear-gradient(90deg,#000080 6px,#000080 290px)"></i>
</div></div>
<div class="p" style="left:578.2px"><div class="f">
<i style="background:linear-gradient(90deg,#000080 6px,#000080 271px,#00009f 279px,#0000b6 282px,#0000df 290px)"></i>
<i style="background:linear-gradient(90deg,#000080 6px,#000080 257px,#000089 259px,#0000fa 272px,#00f 274px,#0038ff 281px,#0098ff 289px,#009cff 290px)"></i>
<i style="background:linear-gradient(90deg,#000080 6px,#000080 237px,#0000f1 251px,#00f 253px,#00f 255px,#00c0ff 280px,#00e0fb 286px,#00dcfe 290px)"></i>
<i style="background:linear-gradient(90deg,#000080 6px,#000080 216px,#0000fa 233px,#00f 236px,#0024ff 242px,#00a8ff 260px,#00dcfe 269px,#02e8f4 272px,#16ffe1 277px,#36ffc1 290px)"></i>
<i style="background:linear-gradient(90deg,#000080 6px,#000080 196px,#0000c4 205px,#0000f6 213px,#00f 215px,#00f 218px,#0040ff 229px,#00acff 245px,#00d4ff 253px,#02e8f4 257px,#13fce4 262px,#49ffad 281px,#70ff87 290px)"></i>
<i style="background:linear-gradient(90deg,#000080 6px,#000080 177px,#0000f1 194px,#00f 197px,#00f 200px,#00acff 230px,#00d8ff 239px,#00e4f8 242px,#16ffe1 250px,#60ff97 276px,#77ff80 290px)"></i>
<i style="background:linear-gradient(90deg,#000080 6px,#000080 156px,#00f 179px,#00f 182px,#0020ff 189px,#00b4ff 216px,#00d8ff 225px,#00e4f8 229px,#13fce4 236px,#63ff94 268px,#66ff90 275px,#5aff9d 284px,#60ff97 290px)"></i>
<i style="background:linear-gradient(90deg,#000080 6px,#000080 122px,#0000a4 132px,#0000d1 149px,#00f 161px,#00f 165px,#0030ff 176px,#00acff 199px,#00dcfe 212px,#02e8f4 216px,#16ffe1 224px,#5dff9a 257px,#5aff9d 267px,#2cffca 290px)"></i>
<i style="background:linear-gradient(90deg,#000080 6px,#000080 79px,#00009b 87px,#0000c4 104px,#0000da 120px,#00f 135px,#00f 143px,#0024ff 155px,#0054ff 167px,#00a4ff 182px,#00d8ff 196px,#02e8f4 202px,#13fce4 209px,#49ffad 237px,#53ffa4 251px,#3cffba 267px,#16ffe1 286px,#09f0ee 290px)"></i>
<i style="background:linear-gradient(90deg,#0034ff 6px,#00f 25px,#00f 33px,#0000e3 53px,#0000e3 73px,#00f 93px,#00f 109px,#0014ff 123px,#003cff 140px,#0070ff 156px,#00b4ff 171px,#00d8ff 182px,#02e8f4 188px,#16ffe1 198px,#3cffba 218px,#4dffaa 232px,#40ffb7 247px,#16ffe1 271px,#00e4f8 281px,#00d8ff 285px,#00dcfe 290px)"></i>
<i style="background:linear-gradient(90deg,#00b8ff 6px,#00b4ff 9px,#0060ff 32px,#0030ff 54px,#0024ff 64px,#0024ff 81px,#0038ff 104px,#005cff 127px,#08f 143px,#00d8ff 167px,#00e4f8 172px,#16ffe1 185px,#40ffb7 209px,#46ffb1 221px,#16ffe1 255px,#02e8f4 265px,#00dcfe 270px,#00b0ff 285px,#00b4ff 287px,#00c8ff 290px)"></i>
<i style="background:linear-gradient(90deg,#0cf4eb 6px,#00e4f8 13px,#00d8ff 20px,#00c8ff 29px,#0084ff 54px,#006cff 69px,#006cff 90px,#0080ff 112px,#0098ff 126px,#00dcfe 152px,#16ffe1 169px,#3cffba 197px,#40ffb7 209px,#13fce4 241px,#00e4f8 251px,#00dcfe 255px,#08f 284px,#08f 286px,#00b0ff 290px)"></i>
<i style="background:linear-gradient(90deg,#1fffd7 6px,#13fce4 14px,#13fce4 20px,#00dcfe 44px,#00b8ff 65px,#00acff 79px,#00b4ff 105px,#00dcfe 132px,#16ffe1 151px,#39ffbe 182px,#36ffc1 200px,#16ffe1 223px,#02e8f4 234px,#00d8ff 241px,#00acff 259px,#005cff 284px,#0060ff 286px,#0098ff 290px)"></i>
<i style="background:linear-gradient(90deg,#2cffca 6px,#16ffe1 44px,#00e4f8 70px,#02e8f4 109px,#16ffe1 131px,#36ffc1 159px,#36ffc1 178px,#16ffe1 206px,#02e8f4 218px,#00d8ff 226px,#0098ff 252px,#0030ff 284px,#0048ff 290px)"></i>
<i style="background:linear-gradient(90deg,#36ffc1 6px,#36ffc1 31px,#1cffdb 65px,#1fffd7 105px,#36ffc1 151px,#16ffe1 188px,#02e8f4 202px,#00d8ff 210px,#0084ff 245px,#0008ff 283px,#00f 290px)"></i>
<i style="background:linear-gradient(90deg,#3cffba 6px,#43ffb4 34px,#33ffc4 66px,#33ffc4 131px,#16ffe1 166px,#02e8f4 182px,#00dcfe 190px,#00b4ff 212px,#0054ff 248px,#00f 273px,#00f 278px,#0000e8 284px,#0000e8 290px)"></i>
<i style="background:linear-gradient(90deg,#40ffb7 6px,#43ffb4 48px,#39ffbe 52px,#2cffca 107px,#13fce4 146px,#02e8f4 160px,#00d8ff 172px,#00a4ff 203px,#0050ff 236px,#00f 261px,#00f 266px,#0000f6 269px,#00b 283px,#00b 285px,#0000d6 290px)"></i>
<i style="background:linear-gradient(90deg,#40ffb7 6px,#43ffb4 46px,#29ffce 57px,#16ffe1 110px,#0cf4eb 127px,#02e8f4 136px,#00d8ff 150px,#00c8ff 164px,#0094ff 193px,#0064ff 215px,#00f 249px,#0000fa 256px,#00008d 283px,#000096 286px,#0000c4 290px)"></i>
<i style="background:linear-gradient(90deg,#43ffb4 6px,#43ffb4 44px,#1fffd7 56px,#16ffe1 69px,#02e8f4 102px,#00d0ff 135px,#00a4ff 166px,#0050ff 208px,#0004ff 235px,#00f 242px,#0000ad 264px,#000080 273px,#000080 286px,#0000ad 289px,#0000b2 290px)"></i>
<i style="background:linear-gradient(90deg,#43ffb4 6px,#43ffb4 42px,#16ffe1 57px,#00e4f8 71px,#00d8ff 102px,#00c8ff 111px,#00bcff 128px,#08f 163px,#0030ff 206px,#00f 224px,#00f 230px,#0000bf 248px,#000080 262px,#000080 287px,#0000a4 290px)"></i>
<i style="background:linear-gradient(90deg,#46ffb1 6px,#43ffb4 40px,#16ffe1 54px,#00e4f8 62px,#00d4ff 72px,#00d4ff 100px,#00b0ff 112px,#0084ff 148px,#00f 210px,#00f 217px,#0000cd 233px,#000080 253px,#000080 288px,#000092 290px)"></i>
<i style="background:linear-gradient(90deg,#49ffad 6px,#43ffb4 38px,#19ffde 52px,#02e8f4 58px,#00d8ff 62px,#00d4ff 97px,#0cf 101px,#009cff 112px,#0070ff 143px,#00f 193px,#00f 202px,#0000bf 225px,#000080 243px,#000084 290px)"></i>
<i style="background:linear-gradient(90deg,#49ffad 6px,#46ffb1 36px,#3cffba 41px,#16ffe1 52px,#02e8f4 57px,#00d8ff 61px,#00d4ff 95px,#007cff 117px,#004cff 147px,#00f 178px,#00f 185px,#0000c4 209px,#000080 232px,#000080 290px)"></i>
<i style="background:linear-gradient(90deg,#50ffa7 6px,#49ffad 37px,#40ffb7 42px,#16ffe1 53px,#02e8f4 57px,#00dcfe 60px,#00d4ff 62px,#00d4ff 93px,#00b4ff 102px,#0068ff 118px,#0030ff 147px,#00f 165px,#00f 172px,#0000bf 193px,#000080 219px,#000080 290px)"></i>
<i style="background:linear-gradient(90deg,#53ffa4 6px,#53ffa4 31px,#49ffad 40px,#36ffc1 47px,#19ffde 53px,#02e8f4 57px,#00d8ff 60px,#00d0ff 93px,#0048ff 123px,#0030ff 136px,#00f 154px,#0000fa 162px,#00009f 190px,#000080 203px,#000080 290px)"></i>
<i style="background:linear-gradient(90deg,#5aff9d 6px,#5aff9d 29px,#49ffad 43px,#36ffc1 49px,#19ffde 54px,#02e8f4 58px,#00dcfe 60px,#00d4ff 62px,#00d4ff 88px,#00c0ff 95px,#0054ff 117px,#0028ff 128px,#00f 144px,#00f 151px,#0000a8 175px,#000080 190px,#000080 290px)"></i>
<i style="background:linear-gradient(90deg,#60ff97 6px,#60ff97 26px,#49ffad 45px,#33ffc4 51px,#19ffde 55px,#02e8f4 59px,#00dcfe 61px,#00d4ff 63px,#00d4ff 86px,#00acff 97px,#0024ff 125px,#00f 136px,#0000fa 144px,#0000a8 165px,#000080 179px,#000080 290px)"></i>
<i style="background:linear-gradient(90deg,#66ff90 6px,#66ff90 23px,#4dffaa 45px,#43ffb4 49px,#16ffe1 57px,#02e8f4 60px,#00dcfe 62px,#00d4ff 65px,#00d0ff 86px,#00f 131px,#00f 136px,#0000a4 158px,#000080 169px,#000080 290px)"></i>
<i style="background:linear-gradient(90deg,#6dff8a 6px,#6aff8d 26px,#56ffa0 41px,#40ffb7 51px,#16ffe1 58px,#00e4f8 62px,#00d4ff 66px,#00d0ff 84px,#00f 128px,#00f 132px,#0000e8 136px,#000080 161px,#000080 290px)"></i>
<i style="background:linear-gradient(90deg,#70ff87 6px,#70ff87 23px,#56ffa0 43px,#3cffba 53px,#19ffde 59px,#02e8f4 63px,#00d8ff 66px,#00d4ff 79px,#0cf 83px,#00f 126px,#00f 129px,#00009f 148px,#000080 156px,#000080 290px)"></i>
<i style="background:linear-gradient(90deg,#73ff83 6px,#73ff83 25px,#5dff9a 41px,#3cffba 54px,#16ffe1 61px,#02e8f4 65px,#00d8ff 68px,#00d0ff 79px,#00f 124px,#00f 127px,#0000f6 129px,#00008d 148px,#000080 152px,#000080 290px)"></i>
<i style="background:linear-gradient(90deg,#77ff80 6px,#73ff83 29px,#6aff8d 36px,#49ffad 52px,#16ffe1 63px,#02e8f4 67px,#00d8ff 70px,#00d0ff 77px,#00b4ff 84px,#00f 122px,#00f 125px,#0000f6 127px,#00009b 143px,#000080 149px,#000080 290px)"></i>
<i style="background:linear-gradient(90deg,#7aff7d 6px,#77ff80 27px,#66ff90 40px,#4dffaa 52px,#16ffe1 65px,#02e8f4 69px,#00d8ff 72px,#00b4ff 82px,#00f 120px,#00f 123px,#0000ed 127px,#000080 147px,#000080 290px)"></i>
<i style="background:linear-gradient(90deg,#7aff7d 6px,#70ff87 37px,#56ffa0 49px,#19ffde 66px,#00e4f8 71px,#00d4ff 74px,#00f 120px,#00f 123px,#000080 146px,#000080 290px)"></i>
<i style="background:linear-gradient(90deg,#7dff7a 6px,#70ff87 39px,#56ffa0 50px,#16ffe1 67px,#02e8f4 72px,#00d8ff 75px,#00f 120px,#0000fa 124px,#000080 145px,#000080 290px)"></i>
<i style="background:linear-gradient(90deg,#80ff77 6px,#73ff83 38px,#5aff9d 49px,#16ffe1 67px,#02e8f4 73px,#00d8ff 76px,#00f 120px,#00f 123px,#0000f6 125px,#000080 145px,#000080 290px)"></i>
<i style="background:linear-gradient(90deg,#83ff73 6px,#77ff80 36px,#6dff8a 43px,#16ffe1 68px,#00e4f8 74px,#00d8ff 77px,#08f 94px,#00f 120px,#00f 123px,#0000f6 125px,#000080 145px,#000080 290px)"></i>
<i style="background:linear-gradient(90deg,#83ff73 6px,#73ff83 40px,#16ffe1 69px,#02e8f4 75px,#00d8ff 78px,#00c4ff 83px,#00f 120px,#00f 123px,#0000f1 126px,#000080 145px,#000080 290px)"></i>
<i style="background:linear-gradient(90deg,#83ff73 6px,#73ff83 41px,#16ffe1 70px,#02e8f4 75px,#00d8ff 79px,#00f 121px,#00f 123px,#0000f1 126px,#000080 145px,#000080 290px)"></i>
<i style="background:linear-gradient(90deg,#87ff70 6px,#73ff83 41px,#16ffe1 70px,#02e8f4 76px,#00d8ff 80px,#00f 121px,#00f 124px,#00009f 139px,#000080 145px,#000080 290px)"></i>
<i style="background:linear-gradient(90deg,#87ff70 6px,#73ff83 41px,#16ffe1 71px,#02e8f4 77px,#00d4ff 81px,#00f 121px,#00f 124px,#00009f 139px,#000080 145px,#000080 290px)"></i>
<i style="background:linear-gradient(90deg,#8aff6d 6px,#73ff83 42px,#16ffe1 71px,#02e8f4 77px,#00d8ff 81px,#00f 121px,#00f 124px,#00009f 139px,#000080 145px,#000080 290px)"></i>
<i style="background:linear-gradient(90deg,#8aff6d 6px,#73ff83 41px,#16ffe1 71px,#02e8f4 77px,#00d8ff 81px,#00f 121px,#00f 124px,#00009f 139px,#000080 145px,#000080 290px)"></i>
<i style="background:linear-gradient(90deg,#8aff6d 6px,#73ff83 41px,#16ffe1 71px,#02e8f4 76px,#00d8ff 80px,#00f 121px,#00f 124px,#000080 145px,#000080 290px)"></i>
<i style="background:linear-gradient(90deg,#87ff70 6px,#73ff83 41px,#16ffe1 70px,#02e8f4 76px,#00d8ff 80px,#00f 121px,#00f 124px,#000080 145px,#000080 290px)"></i>
<i style="background:linear-gradient(90deg,#87ff70 6px,#73ff83 41px,#16ffe1 69px,#02e8f4 75px,#00d8ff 79px,#00f 121px,#00f 124px,#000080 145px,#000080 290px)"></i>
<i style="background:linear-gradient(90deg,#83ff73 6px,#73ff83 40px,#16ffe1 69px,#02e8f4 75px,#00d8ff 78px,#00c4ff 83px,#00f 121px,#00f 124px,#000080 145px,#000080 290px)"></i>
<i style="background:linear-gradient(90deg,#83ff73 6px,#73ff83 39px,#16ffe1 68px,#02e8f4 74px,#00d4ff 78px,#00f 121px,#00f 124px,#000080 146px,#000080 290px)"></i>
<i style="background:linear-gradient(90deg,#83ff73 6px,#70ff87 40px,#16ffe1 67px,#02e8f4 73px,#00d8ff 76px,#00f 121px,#00f 124px,#000080 146px,#000080 290px)"></i>
<i style="background:linear-gradient(90deg,#80ff77 6px,#73ff83 37px,#16ffe1 65px,#02e8f4 71px,#00d8ff 75px,#00f 121px,#00f 124px,#000096 142px,#000080 147px,#000080 290px)"></i>
<i style="background:linear-gradient(90deg,#80ff77 6px,#73ff83 36px,#16ffe1 64px,#02e8f4 70px,#00d8ff 74px,#00f 121px,#00f 124px,#000080 147px,#000080 290px)"></i>
<i style="background:linear-gradient(90deg,#7dff7a 6px,#77ff80 30px,#6dff8a 38px,#16ffe1 63px,#02e8f4 68px,#00d8ff 72px,#0064ff 99px,#00f 120px,#00f 124px,#000080 147px,#000080 290px)"></i>
<i style="background:linear-gradient(90deg,#7aff7d 6px,#77ff80 27px,#6aff8d 38px,#56ffa0 45px,#16ffe1 62px,#02e8f4 67px,#00d8ff 71px,#00f 120px,#00f 124px,#000080 148px,#000080 290px)"></i>
<i style="background:linear-gradient(90deg,#77ff80 6px,#77ff80 23px,#6dff8a 34px,#56ffa0 44px,#19ffde 61px,#02e8f4 66px,#00d8ff 69px,#00f 120px,#00f 124px,#000080 149px,#000080 290px)"></i>
<i style="background:linear-gradient(90deg,#73ff83 6px,#73ff83 26px,#6aff8d 33px,#49ffad 48px,#16ffe1 60px,#02e8f4 64px,#00d8ff 67px,#00f 120px,#00f 124px,#000080 149px,#000080 290px)"></i>
<i style="background:linear-gradient(90deg,#73ff83 6px,#73ff83 22px,#63ff94 34px,#49ffad 46px,#16ffe1 58px,#02e8f4 62px,#00d8ff 65px,#00f 120px,#00f 124px,#000080 150px,#000080 290px)"></i>
<i style="background:linear-gradient(90deg,#70ff87 6px,#73ff83 16px,#5dff9a 35px,#3cffba 48px,#16ffe1 55px,#02e8f4 59px,#00d8ff 62px,#0060ff 96px,#00f 120px,#00f 124px,#000080 151px,#000080 290px)"></i>
<i style="background:linear-gradient(90deg,#70ff87 6px,#6dff8a 19px,#50ffa7 40px,#3cffba 46px,#19ffde 52px,#02e8f4 56px,#00d8ff 60px,#0084ff 85px,#00f 120px,#00f 124px,#000080 151px,#000080 290px)"></i>
<i style="background:linear-gradient(90deg,#6dff8a 6px,#66ff90 20px,#50ffa7 38px,#43ffb4 43px,#16ffe1 50px,#02e8f4 53px,#00d8ff 57px,#00c4ff 66px,#00f 120px,#00f 124px,#000080 152px,#000080 290px)"></i>
<i style="background:linear-gradient(90deg,#66ff90 6px,#63ff94 17px,#50ffa7 36px,#40ffb7 42px,#16ffe1 48px,#02e8f4 51px,#00d8ff 54px,#00c8ff 64px,#00f 120px,#00f 124px,#000080 153px,#000080 290px)"></i>
<i style="background:linear-gradient(90deg,#63ff94 6px,#4dffaa 36px,#3cffba 41px,#19ffde 46px,#02e8f4 49px,#00d8ff 52px,#0cf 62px,#00f 119px,#00f 124px,#000080 153px,#000080 290px)"></i>
<i style="background:linear-gradient(90deg,#60ff97 6px,#49ffad 35px,#40ffb7 39px,#19ffde 45px,#02e8f4 48px,#00d8ff 51px,#0cf 61px,#00f 118px,#00f 123px,#000080 154px,#000080 290px)"></i>
<i style="background:linear-gradient(90deg,#5dff9a 6px,#43ffb4 37px,#19ffde 44px,#00e4f8 48px,#00d8ff 50px,#00d0ff 59px,#00f 118px,#00f 122px,#000080 155px,#000080 290px)"></i>
<i style="background:linear-gradient(90deg,#5dff9a 6px,#49ffad 32px,#39ffbe 38px,#16ffe1 44px,#00e4f8 48px,#00d8ff 50px,#00d4ff 56px,#00c4ff 62px,#00f 117px,#00f 122px,#000080 156px,#000080 290px)"></i>
<i style="background:linear-gradient(90deg,#5aff9d 6px,#46ffb1 33px,#36ffc1 38px,#16ffe1 44px,#02e8f4 48px,#00d8ff 51px,#00c8ff 60px,#00f 117px,#00f 122px,#0000f6 125px,#000080 157px,#000080 290px)"></i>
<i style="background:linear-gradient(90deg,#5aff9d 6px,#46ffb1 32px,#40ffb7 35px,#16ffe1 44px,#00e4f8 49px,#00d8ff 52px,#0cf 58px,#0064ff 87px,#00f 118px,#00f 123px,#0000f6 126px,#000080 158px,#000080 290px)"></i>
<i style="background:linear-gradient(90deg,#5aff9d 6px,#43ffb4 33px,#19ffde 44px,#02e8f4 49px,#00d8ff 53px,#00f 119px,#00f 124px,#000080 159px,#000080 290px)"></i>
<i style="background:linear-gradient(90deg,#5aff9d 6px,#49ffad 28px,#40ffb7 33px,#16ffe1 45px,#02e8f4 50px,#00d8ff 54px,#00f 120px,#00f 125px,#000080 160px,#000080 290px)"></i>
<i style="background:linear-gradient(90deg,#5aff9d 6px,#46ffb1 30px,#16ffe1 45px,#02e8f4 50px,#00d8ff 54px,#00f 121px,#00f 126px,#000080 161px,#000080 290px)"></i>
<i style="background:linear-gradient(90deg,#5aff9d 6px,#49ffad 27px,#43ffb4 31px,#16ffe1 45px,#02e8f4 51px,#00d8ff 55px,#00f 122px,#00f 127px,#000080 162px,#000080 290px)"></i>
<i style="background:linear-gradient(90deg,#5dff9a 6px,#43ffb4 31px,#16ffe1 45px,#02e8f4 52px,#00d8ff 56px,#00f 123px,#00f 128px,#000080 163px,#000080 290px)"></i>
<i style="background:linear-gradient(90deg,#5dff9a 6px,#46ffb1 29px,#16ffe1 46px,#02e8f4 52px,#00d8ff 57px,#00f 123px,#00f 129px,#000080 164px,#000080 290px)"></i>
<i style="background:linear-gradient(90deg,#5dff9a 6px,#43ffb4 30px,#16ffe1 46px,#00e4f8 54px,#00d8ff 58px,#00f 124px,#00f 130px,#000080 165px,#000080 290px)"></i>
<i style="background:linear-gradient(90deg,#5dff9a 6px,#49ffad 26px,#16ffe1 47px,#02e8f4 53px,#00d8ff 58px,#00f 125px,#0000fa 132px,#000080 165px,#000080 290px)"></i>
<i style="background:linear-gradient(90deg,#5aff9d 6px,#43ffb4 30px,#16ffe1 47px,#00e4f8 55px,#00d8ff 59px,#00f 126px,#00f 131px,#0000f6 134px,#000080 166px,#000080 290px)"></i>
<i style="background:linear-gradient(90deg,#5aff9d 6px,#46ffb1 28px,#16ffe1 47px,#00e4f8 55px,#00d8ff 59px,#00f 126px,#00f 132px,#000080 167px,#000080 290px)"></i>
<i style="background:linear-gradient(90deg,#5aff9d 6px,#49ffad 25px,#16ffe1 47px,#02e8f4 54px,#00d8ff 59px,#00f 127px,#0000fa 134px,#000080 168px,#000080 290px)"></i>
<i style="background:linear-gradient(90deg,#5aff9d 6px,#43ffb4 29px,#16ffe1 47px,#00e4f8 55px,#00d8ff 59px,#00f 127px,#00f 133px,#000080 168px,#000080 290px)"></i>
<i style="background:linear-gradient(90deg,#56ffa0 6px,#43ffb4 29px,#16ffe1 47px,#00e4f8 55px,#00d8ff 59px,#00f 128px,#0000fa 135px,#000080 169px,#000080 290px)"></i>
<i style="background:linear-gradient(90deg,#56ffa0 6px,#46ffb1 27px,#16ffe1 46px,#02e8f4 53px,#00d8ff 58px,#00f 128px,#00f 134px,#000080 170px,#000080 290px)"></i>
<i style="background:linear-gradient(90deg,#56ffa0 6px,#40ffb7 30px,#16ffe1 46px,#00e4f8 54px,#00d8ff 58px,#00f 128px,#00f 134px,#000080 171px,#000080 290px)"></i>
<i style="background:linear-gradient(90deg,#53ffa4 6px,#43ffb4 28px,#16ffe1 45px,#00e4f8 53px,#00d8ff 57px,#00f 129px,#00f 135px,#000080 172px,#000080 290px)"></i>
<i style="background:linear-gradient(90deg,#53ffa4 6px,#40ffb7 29px,#16ffe1 45px,#06ecf1 50px,#00d8ff 56px,#00f 130px,#0000fa 137px,#000080 173px,#000080 290px)"></i>
<i style="background:linear-gradient(90deg,#53ffa4 6px,#3cffba 29px,#16ffe1 44px,#00e4f8 52px,#00d8ff 56px,#00f 130px,#00f 136px,#000080 174px,#000080 290px)"></i>
<i style="background:linear-gradient(90deg,#50ffa7 6px,#43ffb4 23px,#16ffe1 43px,#00e4f8 51px,#00d8ff 55px,#00f 130px,#00f 136px,#000080 174px,#000080 290px)"></i>
<i style="background:linear-gradient(90deg,#50ffa7 6px,#43ffb4 20px,#16ffe1 42px,#00e4f8 50px,#00d8ff 54px,#00f 130px,#00f 136px,#000080 175px,#000080 290px)"></i>
<i style="background:linear-gradient(90deg,#4dffaa 6px,#49ffad 13px,#16ffe1 41px,#00e4f8 49px,#00d8ff 53px,#00f 130px,#0000fa 138px,#000080 175px,#000080 290px)"></i>
<i style="background:linear-gradient(90deg,#4dffaa 6px,#13fce4 41px,#00e4f8 48px,#00d8ff 52px,#00f 130px,#0000fa 138px,#000080 176px,#000080 290px)"></i>
<i style="background:linear-gradient(90deg,#49ffad 6px,#16ffe1 36px,#0ff8e7 40px,#00e4f8 47px,#00d8ff 51px,#00f 130px,#0000fa 138px,#000080 176px,#000080 290px)"></i>
<i style="background:linear-gradient(90deg,#46ffb1 6px,#16ffe1 34px,#02e8f4 43px,#00d8ff 50px,#00f 130px,#0000fa 138px,#000080 177px,#000080 290px)"></i>
<i style="background:linear-gradient(90deg,#46ffb1 6px,#16ffe1 33px,#02e8f4 42px,#00d8ff 49px,#00f 130px,#0000fa 138px,#000080 177px,#000080 290px)"></i>
<i style="background:linear-gradient(90deg,#43ffb4 6px,#13fce4 34px,#02e8f4 41px,#00d8ff 48px,#00f 130px,#0000fa 138px,#000080 178px,#000080 290px)"></i>
<i style="background:linear-gradient(90deg,#43ffb4 6px,#16ffe1 31px,#0ff8e7 35px,#00e4f8 42px,#00d8ff 47px,#00f 130px,#0000fa 138px,#000080 178px,#000080 290px)"></i>
<i style="background:linear-gradient(90deg,#43ffb4 6px,#16ffe1 30px,#0ff8e7 34px,#02e8f4 40px,#00d8ff 47px,#00f 130px,#00f 136px,#0000ed 143px,#000080 178px,#000080 290px)"></i>
<i style="background:linear-gradient(90deg,#40ffb7 6px,#16ffe1 30px,#02e8f4 39px,#00d8ff 46px,#00f 130px,#00f 136px,#0000f6 140px,#000080 179px,#000080 290px)"></i>
<i style="background:linear-gradient(90deg,#40ffb7 6px,#16ffe1 29px,#02e8f4 38px,#00dcfe 43px,#00f 130px,#00f 136px,#0000f6 140px,#000080 179px,#000080 290px)"></i>
<i style="background:linear-gradient(90deg,#40ffb7 6px,#16ffe1 28px,#00e4f8 39px,#00d8ff 44px,#00f 130px,#00f 137px,#000080 179px,#000080 290px)"></i>
<i style="background:linear-gradient(90deg,#3cffba 6px,#16ffe1 28px,#02e8f4 37px,#00dcfe 42px,#00f 130px,#00f 136px,#0000f6 140px,#000080 180px,#000080 290px)"></i>
<i style="background:linear-gradient(90deg,#3cffba 6px,#16ffe1 27px,#02e8f4 36px,#00d8ff 43px,#00f 130px,#00f 136px,#0000f6 140px,#000080 180px,#000080 290px)"></i>
<i style="background:linear-gradient(90deg,#39ffbe 6px,#16ffe1 27px,#02e8f4 36px,#00dcfe 41px,#00f 129px,#00f 136px,#0000f6 140px,#000080 180px,#000080 290px)"></i>
<i style="background:linear-gradient(90deg,#39ffbe 6px,#16ffe1 26px,#02e8f4 35px,#00dcfe 40px,#00f 129px,#00f 136px,#0000f6 140px,#000080 181px,#000080 290px)"></i>
<i style="background:linear-gradient(90deg,#39ffbe 6px,#16ffe1 25px,#00e4f8 36px,#00d8ff 41px,#00f 129px,#00f 136px,#0000f6 140px,#000080 181px,#000080 290px)"></i>
<i style="background:linear-gradient(90deg,#36ffc1 6px,#16ffe1 25px,#02e8f4 34px,#00dcfe 39px,#00f 129px,#00f 136px,#0000f6 140px,#000080 181px,#000080 290px)"></i>
<i style="background:linear-gradient(90deg,#36ffc1 6px,#16ffe1 24px,#00e4f8 35px,#00d8ff 40px,#00f 129px,#00f 136px,#000080 181px,#000080 290px)"></i>
<i style="background:linear-gradient(90deg,#36ffc1 6px,#16ffe1 24px,#02e8f4 33px,#00dcfe 38px,#00f 129px,#00f 136px,#000080 181px,#000080 290px)"></i>
<i style="background:linear-gradient(90deg,#33ffc4 6px,#16ffe1 23px,#00e4f8 34px,#00d8ff 39px,#00f 129px,#00f 136px,#000080 182px,#000080 290px)"></i>
<i style="background:linear-gradient(90deg,#33ffc4 6px,#16ffe1 23px,#02e8f4 32px,#00d8ff 39px,#00f 129px,#00f 136px,#000080 182px,#000080 290px)"></i>
<i style="background:linear-gradient(90deg,#33ffc4 6px,#16ffe1 22px,#02e8f4 32px,#00d8ff 39px,#00f 129px,#00f 136px,#000080 182px,#000080 290px)"></i>
<i style="background:linear-gradient(90deg,#33ffc4 6px,#16ffe1 22px,#02e8f4 31px,#00d8ff 38px,#00f 129px,#00f 136px,#000080 182px,#000080 290px)"></i>
<i style="background:linear-gradient(90deg,#30ffc7 6px,#16ffe1 22px,#02e8f4 31px,#00d8ff 38px,#00f 129px,#00f 136px,#000080 182px,#000080 290px)"></i>
<i style="background:linear-gradient(90deg,#30ffc7 6px,#16ffe1 21px,#00e4f8 32px,#00d8ff 37px,#00f 128px,#00f 136px,#000080 182px,#000080 290px)"></i>
<i style="background:linear-gradient(90deg,#30ffc7 6px,#16ffe1 21px,#02e8f4 30px,#00d8ff 37px,#00f 128px,#00f 136px,#000080 182px,#000080 290px)"></i>
<i style="background:linear-gradient(90deg,#2cffca 6px,#16ffe1 20px,#02e8f4 30px,#00d8ff 37px,#00f 128px,#00f 136px,#000080 182px,#000080 290px)"></i>
<i style="background:linear-gradient(90deg,#2cffca 6px,#16ffe1 20px,#00e4f8 31px,#00d8ff 36px,#00f 128px,#00f 136px,#000080 182px,#000080 290px)"></i>
<i style="background:linear-gradient(90deg,#2cffca 6px,#16ffe1 19px,#02e8f4 29px,#00d8ff 36px,#00f 128px,#00f 136px,#000080 182px,#000080 290px)"></i>
<i style="background:linear-gradient(90deg,#2cffca 6px,#16ffe1 19px,#02e8f4 29px,#00d8ff 36px,#00f 128px,#00f 136px,#000080 182px,#000080 290px)"></i>
<i style="background:linear-gradient(90deg,#29ffce 6px,#16ffe1 19px,#02e8f4 28px,#00d8ff 36px,#00f 128px,#00f 135px,#0000f6 139px,#000080 182px,#000080 290px)"></i>
<i style="background:linear-gradient(90deg,#29ffce 6px,#16ffe1 18px,#02e8f4 28px,#00d8ff 35px,#00f 128px,#00f 135px,#0000f6 139px,#000080 182px,#000080 290px)"></i>
<i style="background:linear-gradient(90deg,#29ffce 6px,#16ffe1 18px,#02e8f4 28px,#00d8ff 35px,#00f 128px,#00f 135px,#0000f6 139px,#000080 183px,#000080 290px)"></i>
<i style="background:linear-gradient(90deg,#26ffd1 6px,#16ffe1 17px,#00e4f8 29px,#00d8ff 35px,#00f 128px,#00f 135px,#0000f6 139px,#000080 183px,#000080 290px)"></i>
<i style="background:linear-gradient(90deg,#26ffd1 6px,#16ffe1 17px,#02e8f4 27px,#00d8ff 35px,#00f 128px,#00f 135px,#0000f6 139px,#000080 183px,#000080 290px)"></i>
<i style="background:linear-gradient(90deg,#26ffd1 6px,#16ffe1 17px,#02e8f4 27px,#00d8ff 35px,#00f 128px,#00f 135px,#0000f6 139px,#000080 183px,#000080 290px)"></i>
<i style="background:linear-gradient(90deg,#26ffd1 6px,#16ffe1 16px,#02e8f4 27px,#00d8ff 35px,#00f 128px,#00f 135px,#0000f6 139px,#000080 183px,#000080 290px)"></i>
<i style="background:linear-gradient(90deg,#26ffd1 6px,#16ffe1 17px,#02e8f4 27px,#00d8ff 35px,#00f 128px,#00f 135px,#0000f6 139px,#000080 183px,#000080 290px)"></i>
<i style="background:linear-gradient(90deg,#26ffd1 6px,#16ffe1 17px,#02e8f4 27px,#00d8ff 35px,#00f 128px,#00f 135px,#0000f6 139px,#000080 183px,#000080 290px)"></i>
<i style="background:linear-gradient(90deg,#26ffd1 6px,#16ffe1 17px,#00e4f8 29px,#00d8ff 35px,#00f 128px,#00f 135px,#0000f6 139px,#000080 183px,#000080 290px)"></i>
<i style="background:linear-gradient(90deg,#29ffce 6px,#16ffe1 18px,#02e8f4 28px,#00d8ff 35px,#00f 128px,#00f 135px,#0000f6 139px,#000080 183px,#000080 290px)"></i>
<i style="background:linear-gradient(90deg,#29ffce 6px,#16ffe1 18px,#02e8f4 28px,#00d8ff 35px,#00f 128px,#00f 135px,#0000f6 139px,#000080 183px,#000080 290px)"></i>
<i style="background:linear-gradient(90deg,#29ffce 6px,#16ffe1 19px,#02e8f4 28px,#00d8ff 35px,#00f 128px,#00f 135px,#0000f6 139px,#000080 183px,#000080 290px)"></i>
<i style="background:linear-gradient(90deg,#29ffce 6px,#16ffe1 19px,#00e4f8 30px,#00d8ff 36px,#00f 128px,#00f 135px,#0000f6 139px,#000080 182px,#000080 290px)"></i>
<i style="background:linear-gradient(90deg,#2cffca 6px,#16ffe1 19px,#02e8f4 29px,#00d8ff 36px,#00f 128px,#00f 135px,#0000f6 139px,#000080 182px,#000080 290px)"></i>
<i style="background:linear-gradient(90deg,#2cffca 6px,#16ffe1 20px,#02e8f4 29px,#00d8ff 36px,#00f 128px,#00f 135px,#0000f6 139px,#000080 182px,#000080 290px)"></i>
<i style="background:linear-gradient(90deg,#2cffca 6px,#16ffe1 20px,#00e4f8 31px,#00d8ff 36px,#00f 128px,#00f 136px,#000080 182px,#000080 290px)"></i>
<i style="background:linear-gradient(90deg,#30ffc7 6px,#16ffe1 20px,#02e8f4 30px,#00d8ff 37px,#00f 128px,#00f 136px,#000080 182px,#000080 290px)"></i>
<i style="background:linear-gradient(90deg,#30ffc7 6px,#16ffe1 21px,#02e8f4 30px,#00d8ff 37px,#00f 128px,#00f 136px,#000080 182px,#000080 290px)"></i>
<i style="background:linear-gradient(90deg,#30ffc7 6px,#16ffe1 21px,#00e4f8 32px,#00d8ff 37px,#00f 128px,#00f 136px,#000080 182px,#000080 290px)"></i>
<i style="background:linear-gradient(90deg,#33ffc4 6px,#16ffe1 22px,#02e8f4 31px,#00d8ff 38px,#00f 128px,#00f 136px,#000080 182px,#000080 290px)"></i>
<i style="background:linear-gradient(90deg,#33ffc4 6px,#16ffe1 22px,#00e4f8 33px,#00d8ff 38px,#00f 129px,#00f 136px,#000080 181px,#000080 290px)"></i>
<i style="background:linear-gradient(90deg,#33ffc4 6px,#16ffe1 23px,#02e8f4 32px,#00d8ff 39px,#00f 129px,#00f 136px,#000080 181px,#000080 290px)"></i>
<i style="background:linear-gradient(90deg,#33ffc4 6px,#16ffe1 23px,#00e4f8 34px,#00d8ff 39px,#00f 129px,#00f 136px,#000080 181px,#000080 290px)"></i>
<i style="background:linear-gradient(90deg,#36ffc1 6px,#16ffe1 24px,#02e8f4 33px,#00dcfe 38px,#00f 129px,#00f 136px,#000080 181px,#000080 290px)"></i>
<i style="background:linear-gradient(90deg,#36ffc1 6px,#16ffe1 24px,#00e4f8 35px,#00d8ff 40px,#00f 129px,#00f 136px,#0000f6 140px,#000080 181px,#000080 290px)"></i>
<i style="background:linear-gradient(90deg,#36ffc1 6px,#16ffe1 25px,#02e8f4 34px,#00dcfe 39px,#00f 129px,#00f 136px,#0000f6 140px,#000080 181px,#000080 290px)"></i>
<i style="background:linear-gradient(90deg,#39ffbe 6px,#16ffe1 25px,#02e8f4 35px,#00dcfe 40px,#00f 130px,#00f 137px,#000080 181px,#000080 290px)"></i>
<i style="background:linear-gradient(90deg,#39ffbe 6px,#16ffe1 26px,#00e4f8 37px,#00d8ff 42px,#00f 130px,#00f 137px,#000080 181px,#000080 290px)"></i>
<i style="background:linear-gradient(90deg,#39ffbe 6px,#16ffe1 27px,#02e8f4 36px,#00dcfe 41px,#00f 130px,#00f 137px,#000080 181px,#000080 290px)"></i>
<i style="background:linear-gradient(90deg,#3cffba 6px,#16ffe1 28px,#02e8f4 37px,#00dcfe 42px,#00f 131px,#00f 137px,#0000f6 141px,#000080 180px,#000080 290px)"></i>
<i style="background:linear-gradient(90deg,#40ffb7 6px,#16ffe1 29px,#02e8f4 38px,#00dcfe 43px,#00f 131px,#00f 138px,#000080 180px,#000080 290px)"></i>
<i style="background:linear-gradient(90deg,#40ffb7 6px,#13fce4 32px,#02e8f4 39px,#00d8ff 46px,#00f 131px,#00f 138px,#000080 180px,#000080 290px)"></i>
<i style="background:linear-gradient(90deg,#43ffb4 6px,#13fce4 33px,#02e8f4 40px,#00d8ff 47px,#00f 131px,#0000fa 140px,#000080 180px,#000080 290px)"></i>
<i style="background:linear-gradient(90deg,#46ffb1 6px,#13fce4 34px,#02e8f4 41px,#00d8ff 48px,#00f 132px,#0000fa 140px,#000080 180px,#000080 290px)"></i>
<i style="background:linear-gradient(90deg,#46ffb1 6px,#16ffe1 33px,#02e8f4 42px,#00d8ff 48px,#00f 132px,#00f 138px,#0000ed 145px,#000080 180px,#000080 290px)"></i>
<i style="background:linear-gradient(90deg,#49ffad 6px,#16ffe1 34px,#00e4f8 44px,#00d8ff 49px,#00f 132px,#00f 139px,#000080 180px,#000080 290px)"></i>
<i style="background:linear-gradient(90deg,#4dffaa 6px,#16ffe1 35px,#00e4f8 45px,#00d8ff 50px,#00f 132px,#00f 139px,#000080 180px,#000080 290px)"></i>
<i style="background:linear-gradient(90deg,#50ffa7 6px,#16ffe1 35px,#0ff8e7 39px,#02e8f4 44px,#00d8ff 51px,#00f 132px,#00f 139px,#000080 180px,#000080 290px)"></i>
<i style="background:linear-gradient(90deg,#50ffa7 6px,#13fce4 38px,#02e8f4 45px,#00d8ff 52px,#00f 133px,#0000fa 141px,#000080 180px,#000080 290px)"></i>
<i style="background:linear-gradient(90deg,#53ffa4 6px,#13fce4 39px,#02e8f4 46px,#00d8ff 52px,#00f 133px,#0000fa 141px,#000080 179px,#000080 290px)"></i>
<i style="background:linear-gradient(90deg,#56ffa0 6px,#13fce4 40px,#00e4f8 48px,#00d8ff 53px,#00f 133px,#0000fa 141px,#000080 179px,#000080 290px)"></i>
<i style="background:linear-gradient(90deg,#56ffa0 6px,#13fce4 41px,#00e4f8 49px,#00d8ff 54px,#00f 133px,#0000fa 141px,#000080 179px,#000080 290px)"></i>
<i style="background:linear-gradient(90deg,#5aff9d 6px,#16ffe1 40px,#00e4f8 50px,#00d8ff 55px,#00f 133px,#0000fa 141px,#000080 178px,#000080 290px)"></i>
<i style="background:linear-gradient(90deg,#5dff9a 6px,#16ffe1 41px,#00e4f8 51px,#00d8ff 56px,#00f 133px,#0000fa 141px,#000080 178px,#000080 290px)"></i>
<i style="background:linear-gradient(90deg,#5dff9a 6px,#16ffe1 42px,#00e4f8 52px,#00d8ff 57px,#00f 133px,#00f 139px,#000080 178px,#000080 290px)"></i>
<i style="background:linear-gradient(90deg,#60ff97 6px,#13fce4 45px,#00e4f8 53px,#00d8ff 58px,#00f 133px,#00f 139px,#000080 177px,#000080 290px)"></i>
<i style="background:linear-gradient(90deg,#63ff94 6px,#16ffe1 46px,#00e4f8 55px,#00d8ff 59px,#00f 133px,#00f 139px,#000080 177px,#000080 290px)"></i>
<i style="background:linear-gradient(90deg,#6aff8d 6px,#13fce4 50px,#02e8f4 55px,#00d8ff 60px,#00f 133px,#00f 139px,#000080 176px,#000080 290px)"></i>
<i style="background:linear-gradient(90deg,#70ff87 6px,#4dffaa 26px,#16ffe1 50px,#02e8f4 56px,#00d8ff 61px,#00f 133px,#00f 139px,#000080 176px,#000080 290px)"></i>
<i style="background:linear-gradient(90deg,#77ff80 6px,#5aff9d 23px,#16ffe1 51px,#06ecf1 56px,#00d8ff 62px,#00f 133px,#00f 139px,#000080 175px,#000080 290px)"></i>
<i style="background:linear-gradient(90deg,#7dff7a 6px,#4dffaa 32px,#16ffe1 52px,#02e8f4 59px,#00d8ff 63px,#00f 133px,#00f 139px,#000080 175px,#000080 290px)"></i>
<i style="background:linear-gradient(90deg,#83ff73 6px,#5dff9a 28px,#16ffe1 54px,#02e8f4 60px,#00d8ff 64px,#00f 133px,#0000fa 140px,#000080 174px,#000080 290px)"></i>
<i style="background:linear-gradient(90deg,#8aff6d 6px,#6dff8a 24px,#16ffe1 55px,#02e8f4 61px,#00d8ff 64px,#00f 133px,#00f 138px,#0000f6 141px,#000080 173px,#000080 290px)"></i>
<i style="background:linear-gradient(90deg,#94ff63 6px,#63ff94 31px,#16ffe1 56px,#02e8f4 62px,#00d8ff 65px,#00f 133px,#00f 138px,#0000f6 141px,#000080 173px,#000080 290px)"></i>
<i style="background:linear-gradient(90deg,#9aff5d 6px,#7aff7d 25px,#49ffad 42px,#16ffe1 57px,#02e8f4 63px,#00d8ff 66px,#00f 133px,#00f 138px,#000080 172px,#000080 290px)"></i>
<i style="background:linear-gradient(90deg,#a4ff53 6px,#7aff7d 28px,#49ffad 44px,#16ffe1 58px,#00e4f8 64px,#00d8ff 67px,#00f 132px,#00f 138px,#000080 172px,#000080 290px)"></i>
<i style="background:linear-gradient(90deg,#aaff4d 6px,#73ff83 33px,#19ffde 59px,#02e8f4 64px,#00d8ff 68px,#00f 132px,#00f 137px,#0000f6 140px,#000080 171px,#000080 290px)"></i>
<i style="background:linear-gradient(90deg,#b4ff43 6px,#7dff7a 32px,#19ffde 60px,#02e8f4 65px,#00d4ff 69px,#00f 132px,#00f 137px,#000080 170px,#000080 290px)"></i>
<i style="background:linear-gradient(90deg,#baff3c 6px,#b1ff46 13px,#87ff70 31px,#5dff9a 44px,#19ffde 61px,#02e8f4 66px,#00d8ff 69px,#00f 132px,#0000fa 138px,#000080 169px,#000080 290px)"></i>
<i style="background:linear-gradient(90deg,#c4ff33 6px,#83ff73 35px,#19ffde 62px,#02e8f4 67px,#00d8ff 70px,#00f 131px,#00f 136px,#000080 169px,#000080 290px)"></i>
<i style="background:linear-gradient(90deg,#ceff29 6px,#90ff66 33px,#73ff83 42px,#19ffde 63px,#00e4f8 68px,#00d8ff 70px,#00f 131px,#00f 136px,#000080 168px,#000080 290px)"></i>
<i style="background:linear-gradient(90deg,#d7ff1f 6px,#b7ff40 22px,#77ff80 43px,#16ffe1 64px,#02e8f4 68px,#00d8ff 71px,#00c8ff 74px,#00f 130px,#00f 135px,#000080 167px,#000080 290px)"></i>
<i style="background:linear-gradient(90deg,#e1ff16 6px,#beff39 23px,#87ff70 41px,#16ffe1 65px,#00e4f8 69px,#00d8ff 71px,#00f 130px,#00f 135px,#000080 166px,#000080 290px)"></i>
<i style="background:linear-gradient(90deg,#e7ff0f 6px,#d1ff26 19px,#87ff70 43px,#5aff9d 53px,#19ffde 65px,#02e8f4 69px,#00d8ff 72px,#00b4ff 80px,#00f 130px,#00f 134px,#000080 165px,#000080 290px)"></i>
<i style="background:linear-gradient(90deg,#eeff09 6px,#ebff0c 11px,#d7ff1f 20px,#8aff6d 44px,#19ffde 66px,#00e4f8 70px,#00d8ff 72px,#00f 129px,#0000fa 135px,#000080 164px,#000080 290px)"></i>
<i style="background:linear-gradient(90deg,#f1fc06 6px,#eeff09 13px,#deff19 21px,#90ff66 44px,#6dff8a 52px,#16ffe1 67px,#02e8f4 70px,#00d4ff 73px,#00f 128px,#00f 133px,#000080 163px,#000080 290px)"></i>
<i style="background:linear-gradient(90deg,#f8f500 6px,#eeff09 17px,#e1ff16 23px,#94ff63 45px,#73ff83 52px,#19ffde 67px,#00e4f8 71px,#00d8ff 73px,#0058ff 104px,#00f 128px,#00f 132px,#000080 162px,#000080 290px)"></i>
<i style="background:linear-gradient(90deg,#fbf100 6px,#ebff0c 22px,#beff39 36px,#7aff7d 52px,#16ffe1 68px,#02e8f4 71px,#00d8ff 73px,#00f 127px,#00f 131px,#000080 161px,#000080 290px)"></i>
<i style="background:linear-gradient(90deg,#ffea00 6px,#f1fc06 22px,#baff3c 39px,#80ff77 52px,#16ffe1 68px,#02e8f4 71px,#00d8ff 73px,#00f 126px,#00f 130px,#000080 160px,#000080 290px)"></i>
<i style="background:linear-gradient(90deg,#ffe600 6px,#feed00 16px,#f4f802 23px,#dbff1c 33px,#87ff70 52px,#19ffde 68px,#02e8f4 71px,#00d4ff 74px,#0094ff 88px,#00f 125px,#00f 129px,#000080 158px,#000080 290px)"></i>
<i style="background:linear-gradient(90deg,#ffe200 6px,#feed00 20px,#f4f802 26px,#eeff09 28px,#d7ff1f 36px,#87ff70 53px,#1cffdb 68px,#00e4f8 72px,#00d4ff 74px,#00a4ff 84px,#00f 124px,#00f 128px,#000080 157px,#000080 290px)"></i>
<i style="background:linear-gradient(90deg,#ffdb00 6px,#feed00 23px,#f1fc06 29px,#e7ff0f 34px,#8dff6a 53px,#56ffa0 61px,#16ffe1 69px,#00e4f8 72px,#00d4ff 74px,#00a8ff 83px,#00f 123px,#00f 127px,#000080 155px,#000080 290px)"></i>
<i style="background:linear-gradient(90deg,#ffd300 6px,#feed00 25px,#eeff09 33px,#e1ff16 38px,#7aff7d 57px,#16ffe1 69px,#00e4f8 72px,#00d4ff 74px,#00b0ff 81px,#00f 122px,#00f 126px,#000080 154px,#000080 290px)"></i>
<i style="background:linear-gradient(90deg,#fc0 6px,#feed00 27px,#f8f500 31px,#e7ff0f 38px,#d1ff26 43px,#77ff80 58px,#19ffde 69px,#00e4f8 72px,#00d4ff 74px,#0090ff 88px,#00f 122px,#00f 125px,#000080 153px,#000080 290px)"></i>
<i style="background:linear-gradient(90deg,#ffc400 6px,#feed00 29px,#f4f802 34px,#deff19 42px,#7dff7a 58px,#19ffde 69px,#06ecf1 71px,#00d8ff 73px,#00c0ff 77px,#00f 121px,#00f 125px,#000080 151px,#000080 290px)"></i>
<i style="background:linear-gradient(90deg,#ffbd00 6px,#feed00 30px,#f8f500 34px,#e7ff0f 41px,#dbff1c 44px,#90ff66 56px,#7aff7d 59px,#19ffde 69px,#06ecf1 71px,#00d8ff 73px,#00a8ff 82px,#00f 120px,#00f 124px,#000080 150px,#000080 290px)"></i>
<i style="background:linear-gradient(90deg,#ffb600 6px,#feed00 31px,#f4f802 37px,#e1ff16 44px,#87ff70 58px,#19ffde 69px,#06ecf1 71px,#00d8ff 73px,#00b0ff 80px,#00f 120px,#00f 123px,#000080 149px,#000080 290px)"></i>
<i style="background:linear-gradient(90deg,#ffae00 6px,#ffb900 13px,#ffea00 29px,#feed00 32px,#f4f802 38px,#e1ff16 45px,#7aff7d 60px,#16ffe1 69px,#02e8f4 71px,#00d4ff 73px,#00bcff 77px,#00f 119px,#00f 122px,#000080 148px,#000080 290px)"></i>
<i style="background:linear-gradient(90deg,#ffa300 6px,#ffbd00 19px,#feed00 32px,#f4f802 39px,#e1ff16 46px,#8dff6a 58px,#5dff9a 63px,#16ffe1 69px,#00e4f8 71px,#00d4ff 73px,#00c4ff 75px,#00f 118px,#00f 122px,#000080 147px,#000080 290px)"></i>
<i style="background:linear-gradient(90deg,#ff9c00 6px,#ffae00 17px,#ffea00 30px,#f8f500 37px,#e7ff0f 45px,#c4ff33 51px,#87ff70 59px,#6aff8d 62px,#1fffd7 68px,#13fce4 69px,#06ecf1 70px,#00d8ff 72px,#00b4ff 78px,#00f 118px,#00f 121px,#0000ed 125px,#000080 146px,#000080 290px)"></i>
<i style="background:linear-gradient(90deg,#ff9400 6px,#ffa300 15px,#ffea00 30px,#f8f500 37px,#ebff0c 45px,#ceff29 50px,#90ff66 58px,#6aff8d 62px,#1cffdb 68px,#02e8f4 70px,#00d4ff 72px,#00c0ff 75px,#00f 117px,#00f 121px,#000080 145px,#000080 290px)"></i>
<i style="background:linear-gradient(90deg,#ff9100 6px,#ff9f00 12px,#ffea00 30px,#f4f802 40px,#e7ff0f 46px,#90ff66 58px,#73ff83 61px,#16ffe1 68px,#00e4f8 70px,#00d8ff 71px,#00b4ff 77px,#00f 117px,#00f 120px,#0000ed 124px,#000080 145px,#000080 290px)"></i>
<i style="background:linear-gradient(90deg,#ff9800 6px,#ff9f00 10px,#ffea00 29px,#f8f500 37px,#e7ff0f 46px,#deff19 48px,#87ff70 59px,#1fffd7 67px,#06ecf1 69px,#00d4ff 71px,#00c0ff 74px,#00f 116px,#00f 120px,#000080 144px,#000080 290px)"></i>
<i style="background:linear-gradient(90deg,#ff9f00 6px,#ffe600 27px,#f8f500 37px,#e7ff0f 46px,#ceff29 50px,#7aff7d 60px,#19ffde 67px,#00e4f8 69px,#00d8ff 70px,#00b4ff 76px,#00f 116px,#00f 119px,#0000ed 123px,#000080 144px,#000080 290px)"></i>
<i style="background:linear-gradient(90deg,#ffa700 6px,#ffe200 24px,#f4f802 39px,#e1ff16 47px,#80ff77 59px,#6aff8d 61px,#1fffd7 66px,#02e8f4 68px,#00d4ff 70px,#00c4ff 72px,#00f 116px,#00f 119px,#0000ed 123px,#000080 144px,#000080 290px)"></i>
<i style="background:linear-gradient(90deg,#ffb200 6px,#ffea00 26px,#f8f500 36px,#e4ff13 46px,#87ff70 58px,#70ff87 60px,#16ffe1 66px,#00e0fb 68px,#00d8ff 69px,#00bcff 73px,#00f 116px,#00f 119px,#0000f6 121px,#000080 144px,#000080 290px)"></i>
<i style="background:linear-gradient(90deg,#ffb900 6px,#ffea00 25px,#f8f500 35px,#ebff0c 44px,#d4ff23 48px,#80ff77 58px,#5aff9d 61px,#19ffde 65px,#00e4f8 67px,#00d8ff 68px,#00b0ff 75px,#00f 115px,#00f 119px,#000080 144px,#000080 290px)"></i>
<i style="background:linear-gradient(90deg,#ffc400 6px,#ffe600 20px,#feed00 28px,#f4f802 37px,#e4ff13 45px,#7aff7d 58px,#1fffd7 64px,#02e8f4 66px,#00d4ff 68px,#00c4ff 70px,#00f 115px,#00f 119px,#000080 144px,#000080 290px)"></i>
<i style="background:linear-gradient(90deg,#ffd000 6px,#ffe600 17px,#feed00 26px,#f4f802 35px,#e4ff13 44px,#87ff70 56px,#60ff97 59px,#1fffd7 63px,#13fce4 64px,#06ecf1 65px,#00dcfe 66px,#00d4ff 67px,#00c0ff 70px,#00f 115px,#00f 119px,#000080 145px,#000080 290px)"></i>
<i style="background:linear-gradient(90deg,#ffdb00 6px,#feed00 23px,#f4f802 34px,#e4ff13 43px,#87ff70 55px,#70ff87 57px,#23ffd4 62px,#13fce4 63px,#06ecf1 64px,#00d4ff 66px,#00c0ff 69px,#00f 115px,#00f 119px,#000080 145px,#000080 290px)"></i>
<i style="background:linear-gradient(90deg,#ffe600 6px,#f8f500 28px,#e7ff0f 41px,#c7ff30 46px,#83ff73 54px,#6dff8a 56px,#23ffd4 61px,#13fce4 62px,#06ecf1 63px,#00dcfe 64px,#00d4ff 65px,#00b8ff 69px,#00f 113px,#00f 117px,#0000a8 135px,#000080 145px,#000080 290px)"></i>
<i style="background:linear-gradient(90deg,#ffea00 6px,#f8f500 25px,#e7ff0f 39px,#d1ff26 43px,#87ff70 52px,#3cffba 58px,#1cffdb 60px,#02e8f4 62px,#00d0ff 64px,#00a8ff 70px,#00f 111px,#00f 114px,#000096 136px,#000080 142px,#000080 290px)"></i>
<i style="background:linear-gradient(90deg,#feed00 6px,#f4f802 26px,#ebff0c 35px,#e1ff16 38px,#97ff60 48px,#66ff90 53px,#16ffe1 59px,#00e4f8 61px,#00d8ff 62px,#00b4ff 66px,#0098ff 71px,#00f 108px,#00f 111px,#000080 139px,#000080 290px)"></i>
<i style="background:linear-gradient(90deg,#fbf100 6px,#f4f802 22px,#eeff09 30px,#e1ff16 35px,#90ff66 46px,#56ffa0 52px,#19ffde 57px,#02e8f4 59px,#00d0ff 61px,#00bcff 63px,#008cff 71px,#00f 105px,#00f 109px,#0000a8 127px,#000080 137px,#000080 290px)"></i>
<i style="background:linear-gradient(90deg,#f8f500 6px,#eeff09 26px,#dbff1c 33px,#7dff7a 45px,#16ffe1 55px,#02e8f4 57px,#00d0ff 59px,#00acff 63px,#0078ff 72px,#00f 102px,#00f 106px,#0000a8 124px,#000080 134px,#000080 290px)"></i>
<i style="background:linear-gradient(90deg,#f4f802 6px,#eeff09 21px,#deff19 28px,#7dff7a 41px,#1cffdb 51px,#13fce4 52px,#00e4f8 54px,#00d0ff 56px,#00a0ff 62px,#006cff 71px,#00f 99px,#00f 103px,#0000a8 121px,#000080 131px,#000080 290px)"></i>
<i style="background:linear-gradient(90deg,#f1fc06 6px,#ebff0c 18px,#d4ff23 24px,#73ff83 37px,#16ffe1 47px,#00e0fb 50px,#00d8ff 51px,#0098ff 59px,#005cff 70px,#00f 96px,#00f 100px,#0000a8 118px,#000080 128px,#000080 290px)"></i>
<i style="background:linear-gradient(90deg,#eeff09 6px,#e4ff13 13px,#ceff29 18px,#8dff6a 27px,#19ffde 41px,#00e4f8 44px,#00d4ff 46px,#00a0ff 52px,#006cff 61px,#0034ff 74px,#00f 92px,#00f 97px,#0000a8 115px,#000080 125px,#000080 290px)"></i>
<i style="background:linear-gradient(90deg,#d1ff26 6px,#b7ff40 12px,#16ffe1 34px,#00e4f8 37px,#00d4ff 39px,#008cff 48px,#0058ff 57px,#0014ff 76px,#00f 84px,#00f 92px,#0000f1 97px,#0000a8 112px,#000080 122px,#000080 290px)"></i>
<i style="background:linear-gradient(90deg,#7dff7a 6px,#77ff80 8px,#3cffba 16px,#16ffe1 23px,#00e4f8 27px,#00d8ff 29px,#004cff 50px,#001cff 62px,#00f 73px,#00f 81px,#0000da 98px,#000080 119px,#000080 290px)"></i>
<i style="background:linear-gradient(90deg,#0cf4eb 6px,#00dcfe 10px,#00a8ff 17px,#0080ff 32px,#0058ff 40px,#0020ff 48px,#00f 57px,#00f 64px,#0000da 81px,#00b 102px,#000080 116px,#000080 290px)"></i>
<i style="background:linear-gradient(90deg,#005cff 6px,#0030ff 14px,#0028ff 32px,#0018ff 39px,#00f 44px,#00f 47px,#0000e3 52px,#0000d6 57px,#0000b6 80px,#0000a4 100px,#000096 107px,#000080 112px,#000080 290px)"></i>
<i style="background:linear-gradient(90deg,#0000da 6px,#0000c4 13px,#0000cd 17px,#0000c8 25px,#0000b6 31px,#0000a4 45px,#000089 52px,#000080 59px,#000080 290px)"></i>
<i style="background:linear-gradient(90deg,#000096 6px,#00008d 13px,#00009b 15px,#0000f1 19px,#00f 20px,#0010ff 23px,#0010ff 25px,#00f 27px,#00f 28px,#000080 33px,#000080 290px)"></i>
<i style="background:linear-gradient(90deg,#000092 6px,#000092 14px,#00009b 16px,#0000c4 18px,#00f 20px,#007cff 23px,#00acff 25px,#00b4ff 26px,#00b4ff 27px,#0094ff 29px,#006cff 30px,#0004ff 32px,#0000d6 33px,#0000a8 34px,#000089 35px,#000080 36px,#000080 290px)"></i>
<i style="background:linear-gradient(90deg,#000092 6px,#000092 17px,#00009b 19px,#0000bf 21px,#00f 23px,#005cff 25px,#007cff 26px,#08f 27px,#007cff 28px,#0058ff 29px,#0024ff 30px,#00f 31px,#0000c8 32px,#0000a4 33px,#00008d 34px,#000080 36px,#000080 290px)"></i>
<i style="background:linear-gradient(90deg,#000092 6px,#000092 21px,#0000a8 23px,#0000e8 26px,#0000f6 27px,#0000ed 28px,#00009b 31px,#000080 34px,#000080 290px)"></i>
<i style="background:linear-gradient(90deg,#000092 6px,#000092 26px,#000080 31px,#000080 290px)"></i>
<i style="background:linear-gradient(90deg,#000092 6px,#000092 23px,#000080 29px,#000080 290px)"></i>
<i style="background:linear-gradient(90deg,#000092 6px,#000092 23px,#000080 29px,#000080 290px)"></i>
<i style="background:linear-gradient(90deg,#000092 6px,#000092 23px,#000080 29px,#000080 290px)"></i>
</div></div>
<div class="p" style="left:990.5px"><div class="f">
<i style="background:linear-gradient(90deg,#000080 6px,#000080 273px,#00009b 278px,#0000b6 279px,#0000df 280px,#0008ff 281px,#007cff 283px,#00a4ff 284px,#00c0ff 285px,#00d0ff 287px,#00d4ff 290px)"></i>
<i style="background:linear-gradient(90deg,#000080 6px,#000080 266px,#000084 267px,#0000e8 273px,#00f 275px,#0010ff 277px,#0038ff 279px,#00acff 283px,#00c0ff 284px,#00d4ff 286px,#00dcfe 288px,#00d8ff 290px)"></i>
<i style="background:linear-gradient(90deg,#000080 6px,#000080 251px,#000084 252px,#00009f 254px,#00f 260px,#00f 261px,#0084ff 270px,#00dcfe 278px,#19ffde 283px,#26ffd1 287px,#26ffd1 290px)"></i>
<i style="background:linear-gradient(90deg,#000080 6px,#000080 234px,#00f 243px,#00f 244px,#0060ff 251px,#00a8ff 257px,#00d8ff 262px,#02e8f4 264px,#16ffe1 267px,#43ffb4 277px,#6dff8a 290px)"></i>
<i style="background:linear-gradient(90deg,#000080 6px,#000080 214px,#0000e3 222px,#00f 225px,#0004ff 226px,#008cff 237px,#00dcfe 245px,#13fce4 249px,#43ffb4 259px,#6aff8d 271px,#7aff7d 290px)"></i>
<i style="background:linear-gradient(90deg,#000080 6px,#000080 191px,#000084 192px,#0000c4 198px,#0000f6 202px,#00f 204px,#0004ff 205px,#00a4ff 220px,#00d8ff 226px,#02e8f4 228px,#19ffde 232px,#50ffa7 243px,#77ff80 255px,#80ff77 260px,#7aff7d 273px,#66ff90 284px,#6dff8a 290px)"></i>
<i style="background:linear-gradient(90deg,#000080 6px,#000080 166px,#0000a8 171px,#00f 180px,#00f 181px,#0004ff 182px,#0094ff 197px,#00d4ff 205px,#00e4f8 207px,#16ffe1 211px,#5aff9d 225px,#7dff7a 236px,#8dff6a 245px,#87ff70 262px,#6aff8d 270px,#50ffa7 284px,#50ffa7 287px,#5dff9a 290px)"></i>
<i style="background:linear-gradient(90deg,#000080 6px,#000080 136px,#00f 151px,#00f 153px,#0068ff 169px,#00d4ff 183px,#02e8f4 186px,#19ffde 190px,#5aff9d 204px,#73ff83 211px,#8aff6d 219px,#97ff60 229px,#87ff70 257px,#53ffa4 270px,#33ffc4 290px)"></i>
<i style="background:linear-gradient(90deg,#000080 6px,#000080 68px,#0000a8 84px,#0000a8 87px,#000092 92px,#000092 94px,#0000c8 106px,#00f 115px,#00f 117px,#002cff 125px,#0090ff 140px,#00d8ff 155px,#00e4f8 158px,#16ffe1 166px,#63ff94 185px,#83ff73 195px,#94ff63 201px,#9dff5a 209px,#9aff5d 224px,#83ff73 252px,#77ff80 258px,#40ffb7 269px,#23ffd4 285px,#13fce4 290px)"></i>
<i style="background:linear-gradient(90deg,#0080ff 6px,#0080ff 36px,#007cff 40px,#005cff 47px,#005cff 53px,#0078ff 58px,#0080ff 61px,#08f 73px,#0098ff 83px,#0094ff 93px,#00d8ff 118px,#00e4f8 121px,#16ffe1 129px,#40ffb7 144px,#66ff90 163px,#8dff6a 176px,#a0ff56 187px,#a0ff56 203px,#80ff77 243px,#6aff8d 255px,#1fffd7 273px,#16ffe1 279px,#06ecf1 290px)"></i>
<i style="background:linear-gradient(90deg,#40ffb7 6px,#33ffc4 12px,#2cffca 22px,#26ffd1 43px,#1cffdb 51px,#1fffd7 62px,#46ffb1 108px,#9aff5d 154px,#a7ff50 179px,#8aff6d 221px,#73ff83 239px,#4dffaa 254px,#16ffe1 269px,#02e8f4 276px,#00d4ff 284px,#00dcfe 290px)"></i>
<i style="background:linear-gradient(90deg,#97ff60 6px,#80ff77 22px,#73ff83 42px,#63ff94 54px,#63ff94 62px,#a7ff50 130px,#a7ff50 167px,#83ff73 216px,#77ff80 225px,#16ffe1 261px,#02e8f4 267px,#00dcfe 270px,#00b0ff 284px,#00b0ff 286px,#00c8ff 290px)"></i>
<i style="background:linear-gradient(90deg,#beff39 6px,#b7ff40 31px,#9aff5d 59px,#adff49 95px,#b1ff46 119px,#90ff66 186px,#73ff83 214px,#16ffe1 248px,#00dcfe 258px,#08f 284px,#0090ff 287px,#00b4ff 290px)"></i>
<i style="background:linear-gradient(90deg,#c1ff36 6px,#c4ff33 33px,#b7ff40 39px,#aaff4d 58px,#aaff4d 119px,#90ff66 172px,#73ff83 201px,#5aff9d 212px,#16ffe1 235px,#00dcfe 245px,#0060ff 284px,#006cff 287px,#009cff 290px)"></i>
<i style="background:linear-gradient(90deg,#beff39 6px,#c1ff36 33px,#aaff4d 40px,#9dff5a 56px,#a4ff53 114px,#83ff73 176px,#66ff90 194px,#16ffe1 222px,#00e4f8 230px,#00d8ff 234px,#0078ff 265px,#0038ff 283px,#0034ff 285px,#004cff 290px)"></i>
<i style="background:linear-gradient(90deg,#beff39 6px,#beff39 32px,#97ff60 44px,#8dff6a 55px,#9aff5d 119px,#83ff73 162px,#66ff90 181px,#16ffe1 210px,#02e8f4 216px,#00d8ff 221px,#0054ff 264px,#000cff 284px,#000cff 287px,#00f 290px)"></i>
<i style="background:linear-gradient(90deg,#baff3c 6px,#baff3c 31px,#8aff6d 45px,#7dff7a 58px,#94ff63 106px,#83ff73 147px,#6aff8d 166px,#16ffe1 197px,#02e8f4 204px,#00d8ff 208px,#0074ff 242px,#00f 276px,#00f 281px,#0000f1 284px,#0000f1 290px)"></i>
<i style="background:linear-gradient(90deg,#baff3c 6px,#b4ff43 33px,#80ff77 47px,#73ff83 59px,#8aff6d 102px,#8aff6d 118px,#7dff7a 139px,#56ffa0 161px,#16ffe1 185px,#02e8f4 191px,#00d8ff 196px,#0058ff 239px,#00f 265px,#00f 270px,#0000c4 284px,#0000da 290px)"></i>
<i style="background:linear-gradient(90deg,#baff3c 6px,#b4ff43 32px,#a0ff56 40px,#80ff77 49px,#6dff8a 61px,#73ff83 72px,#70ff87 83px,#80ff77 100px,#7dff7a 123px,#66ff90 139px,#16ffe1 172px,#00e4f8 180px,#00d8ff 184px,#0060ff 225px,#00f 254px,#00f 259px,#00009b 283px,#00009f 286px,#0000c8 290px)"></i>
<i style="background:linear-gradient(90deg,#baff3c 6px,#b1ff46 40px,#9aff5d 48px,#83ff73 52px,#73ff83 57px,#63ff94 77px,#77ff80 100px,#73ff83 114px,#66ff90 124px,#16ffe1 160px,#00e4f8 168px,#00d8ff 172px,#005cff 215px,#00f 243px,#00f 248px,#00009b 272px,#000080 281px,#000084 286px,#0000b6 290px)"></i>
<i style="background:linear-gradient(90deg,#baff3c 6px,#b4ff43 45px,#adff49 49px,#80ff77 57px,#5aff9d 75px,#56ffa0 81px,#6aff8d 102px,#50ffa7 120px,#16ffe1 146px,#00e4f8 155px,#00d8ff 160px,#0064ff 201px,#00f 232px,#00f 237px,#0000a8 258px,#000080 270px,#000080 287px,#0000a8 290px)"></i>
<i style="background:linear-gradient(90deg,#beff39 6px,#beff39 29px,#b4ff43 51px,#adff49 54px,#80ff77 62px,#50ffa7 77px,#4dffaa 82px,#5dff9a 94px,#5dff9a 100px,#46ffb1 107px,#33ffc4 120px,#16ffe1 132px,#02e8f4 140px,#00d8ff 146px,#007cff 182px,#00f 221px,#0000fa 228px,#00009f 250px,#000080 260px,#000080 287px,#00009b 290px)"></i>
<i style="background:linear-gradient(90deg,#beff39 6px,#c1ff36 29px,#b4ff43 56px,#83ff73 66px,#50ffa7 80px,#50ffa7 97px,#26ffd1 111px,#16ffe1 120px,#00e4f8 129px,#00d8ff 133px,#0094ff 163px,#00f 211px,#00f 216px,#0000f6 219px,#00009f 240px,#000080 250px,#000080 288px,#000092 290px)"></i>
<i style="background:linear-gradient(90deg,#c1ff36 6px,#c1ff36 40px,#b1ff46 61px,#83ff73 70px,#66ff90 78px,#50ffa7 86px,#49ffad 93px,#16ffe1 109px,#02e8f4 116px,#00d8ff 124px,#00d4ff 128px,#00b4ff 137px,#08f 157px,#00f 201px,#00f 206px,#00008d 235px,#000080 240px,#000084 290px)"></i>
<i style="background:linear-gradient(90deg,#c4ff33 6px,#c4ff33 39px,#b1ff46 64px,#90ff66 71px,#49ffad 93px,#16ffe1 103px,#02e8f4 109px,#00d8ff 114px,#00d0ff 126px,#0098ff 139px,#0070ff 156px,#00f 190px,#00f 196px,#000080 230px,#000080 290px)"></i>
<i style="background:linear-gradient(90deg,#c7ff30 6px,#caff2c 28px,#b4ff43 65px,#5dff9a 91px,#19ffde 101px,#02e8f4 105px,#00d8ff 109px,#00d0ff 124px,#0098ff 135px,#0074ff 144px,#04f 162px,#00f 181px,#00f 186px,#000080 220px,#000080 290px)"></i>
<i style="background:linear-gradient(90deg,#caff2c 6px,#caff2c 38px,#b4ff43 67px,#66ff90 91px,#16ffe1 102px,#02e8f4 105px,#00d8ff 108px,#00d0ff 121px,#00b8ff 127px,#006cff 141px,#0024ff 164px,#00f 173px,#00f 178px,#0000b6 195px,#000080 211px,#000080 290px)"></i>
<i style="background:linear-gradient(90deg,#ceff29 6px,#ceff29 37px,#b1ff46 70px,#77ff80 90px,#1cffdb 102px,#02e8f4 105px,#00d8ff 108px,#00d0ff 119px,#00acff 127px,#0054ff 143px,#00f 167px,#00f 171px,#00009f 192px,#000080 201px,#000080 290px)"></i>
<i style="background:linear-gradient(90deg,#d1ff26 6px,#d1ff26 36px,#b4ff43 70px,#77ff80 92px,#5aff9d 96px,#19ffde 103px,#00e4f8 106px,#00d8ff 108px,#00c8ff 119px,#0038ff 146px,#00f 160px,#00f 165px,#0000a8 183px,#000080 193px,#000080 290px)"></i>
<i style="background:linear-gradient(90deg,#d4ff23 6px,#d1ff26 41px,#adff49 74px,#7dff7a 92px,#63ff94 96px,#16ffe1 104px,#00e0fb 107px,#00d8ff 109px,#00d0ff 114px,#00bcff 119px,#00f 155px,#00f 159px,#0000c4 172px,#00008d 182px,#000080 186px,#000080 290px)"></i>
<i style="background:linear-gradient(90deg,#d7ff1f 6px,#d4ff23 39px,#b1ff46 73px,#7dff7a 93px,#6aff8d 96px,#1cffdb 104px,#02e8f4 107px,#00d8ff 109px,#00c4ff 115px,#00f 152px,#00f 155px,#0000ed 159px,#000080 180px,#000080 290px)"></i>
<i style="background:linear-gradient(90deg,#d7ff1f 6px,#d4ff23 42px,#adff49 75px,#7aff7d 94px,#53ffa4 99px,#19ffde 105px,#06ecf1 107px,#00d8ff 109px,#00f 150px,#0000f6 154px,#000080 176px,#000080 290px)"></i>
<i style="background:linear-gradient(90deg,#dbff1c 6px,#d4ff23 44px,#b1ff46 74px,#77ff80 95px,#1cffdb 105px,#02e8f4 108px,#00d4ff 110px,#006cff 127px,#00f 147px,#00f 150px,#0000f6 152px,#000080 172px,#000080 290px)"></i>
<i style="background:linear-gradient(90deg,#dbff1c 6px,#d4ff23 45px,#b1ff46 74px,#7dff7a 94px,#5aff9d 99px,#19ffde 106px,#06ecf1 108px,#00d8ff 110px,#0048ff 133px,#00f 146px,#0000f6 150px,#000096 165px,#000080 170px,#000080 290px)"></i>
<i style="background:linear-gradient(90deg,#deff19 6px,#d4ff23 45px,#b1ff46 74px,#7aff7d 95px,#1cffdb 106px,#13fce4 107px,#00e4f8 109px,#00d4ff 111px,#0090ff 121px,#00f 145px,#0000f6 149px,#000080 167px,#000080 290px)"></i>
<i style="background:linear-gradient(90deg,#deff19 6px,#d4ff23 46px,#b1ff46 74px,#7aff7d 95px,#1cffdb 106px,#02e8f4 109px,#00d4ff 111px,#00f 144px,#00f 147px,#00008d 163px,#000080 166px,#000080 290px)"></i>
<i style="background:linear-gradient(90deg,#e1ff16 6px,#d4ff23 46px,#b1ff46 74px,#7aff7d 95px,#1cffdb 106px,#02e8f4 109px,#00d4ff 111px,#00f 144px,#0000fa 147px,#0000a8 158px,#000080 165px,#000080 290px)"></i>
<i style="background:linear-gradient(90deg,#e1ff16 6px,#d4ff23 46px,#adff49 75px,#8aff6d 90px,#73ff83 96px,#1cffdb 106px,#13fce4 107px,#00e4f8 109px,#00d4ff 111px,#00f 143px,#0000f6 147px,#000096 160px,#000080 164px,#000080 290px)"></i>
<i style="background:linear-gradient(90deg,#e1ff16 6px,#d4ff23 45px,#adff49 75px,#7dff7a 94px,#63ff94 98px,#19ffde 106px,#06ecf1 108px,#00d8ff 110px,#00f 143px,#0000fa 146px,#000080 163px,#000080 290px)"></i>
<i style="background:linear-gradient(90deg,#deff19 6px,#d4ff23 45px,#b1ff46 73px,#7dff7a 94px,#6aff8d 97px,#16ffe1 106px,#00e0fb 109px,#00d8ff 110px,#0090ff 120px,#00f 143px,#00f 145px,#0000a4 157px,#000080 163px,#000080 290px)"></i>
<i style="background:linear-gradient(90deg,#deff19 6px,#d4ff23 44px,#adff49 74px,#7aff7d 94px,#66ff90 97px,#1cffdb 105px,#02e8f4 108px,#00d4ff 110px,#00f 142px,#0000f6 146px,#000080 162px,#000080 290px)"></i>
<i style="background:linear-gradient(90deg,#deff19 6px,#d4ff23 43px,#b1ff46 72px,#7aff7d 94px,#19ffde 105px,#06ecf1 107px,#00d8ff 109px,#00b8ff 113px,#00f 142px,#0000fa 145px,#000080 162px,#000080 290px)"></i>
<i style="background:linear-gradient(90deg,#deff19 6px,#d4ff23 42px,#beff39 62px,#a4ff53 77px,#83ff73 91px,#77ff80 94px,#1cffdb 104px,#13fce4 105px,#00e4f8 107px,#00d4ff 109px,#00a8ff 115px,#00f 142px,#0000fa 145px,#000080 162px,#000080 290px)"></i>
<i style="background:linear-gradient(90deg,#deff19 6px,#d4ff23 40px,#adff49 72px,#87ff70 89px,#73ff83 94px,#16ffe1 104px,#02e8f4 106px,#00d4ff 108px,#00f 142px,#00f 144px,#000080 162px,#000080 290px)"></i>
<i style="background:linear-gradient(90deg,#deff19 6px,#d1ff26 41px,#b1ff46 69px,#90ff66 84px,#7aff7d 92px,#5dff9a 96px,#16ffe1 103px,#00e0fb 106px,#00d8ff 107px,#00acff 113px,#00f 142px,#00f 144px,#000080 162px,#000080 290px)"></i>
<i style="background:linear-gradient(90deg,#dbff1c 6px,#d4ff23 35px,#c1ff36 55px,#b4ff43 66px,#83ff73 89px,#70ff87 93px,#19ffde 102px,#06ecf1 104px,#00d8ff 106px,#00c0ff 109px,#00f 141px,#00f 144px,#00008d 160px,#000080 163px,#000080 290px)"></i>
<i style="background:linear-gradient(90deg,#dbff1c 6px,#dbff1c 33px,#c7ff30 44px,#b1ff46 66px,#83ff73 88px,#6aff8d 93px,#1cffdb 101px,#13fce4 102px,#00e4f8 104px,#00d8ff 105px,#00f 141px,#00f 143px,#0000f1 146px,#000080 163px,#000080 290px)"></i>
<i style="background:linear-gradient(90deg,#e1ff16 6px,#e1ff16 33px,#c7ff30 45px,#adff49 67px,#87ff70 86px,#6dff8a 92px,#1cffdb 100px,#02e8f4 103px,#00d4ff 105px,#00f 141px,#0000f6 145px,#000080 163px,#000080 290px)"></i>
<i style="background:linear-gradient(90deg,#eeff09 6px,#e7ff0f 33px,#c4ff33 49px,#adff49 66px,#80ff77 88px,#70ff87 91px,#16ffe1 100px,#02e8f4 102px,#00d4ff 104px,#00f 141px,#00f 143px,#0000f1 146px,#000080 163px,#000080 290px)"></i>
<i style="background:linear-gradient(90deg,#fbf100 6px,#eeff09 33px,#83ff73 86px,#73ff83 90px,#19ffde 99px,#06ecf1 101px,#00d8ff 103px,#00c0ff 106px,#00f 141px,#00f 143px,#0000f1 146px,#00008d 161px,#000080 164px,#000080 290px)"></i>
<i style="background:linear-gradient(90deg,#ffe200 6px,#feed00 23px,#f4f802 33px,#eeff09 36px,#aaff4d 65px,#87ff70 84px,#7aff7d 88px,#66ff90 91px,#1cffdb 98px,#06ecf1 100px,#00d8ff 102px,#00a0ff 111px,#00f 141px,#00f 143px,#0000f1 146px,#000080 164px,#000080 290px)"></i>
<i style="background:linear-gradient(90deg,#ffc400 6px,#fc0 14px,#ffea00 29px,#f8f500 35px,#eeff09 39px,#d7ff1f 49px,#b4ff43 60px,#83ff73 85px,#6aff8d 90px,#1fffd7 97px,#13fce4 98px,#00e4f8 100px,#00d4ff 102px,#00b8ff 106px,#00f 141px,#00f 143px,#0000f1 146px,#000092 161px,#000080 165px,#000080 290px)"></i>
<i style="background:linear-gradient(90deg,#ffa700 6px,#ffbd00 20px,#ffea00 34px,#f8f500 38px,#eeff09 41px,#d7ff1f 50px,#b1ff46 61px,#87ff70 83px,#6dff8a 89px,#16ffe1 97px,#02e8f4 99px,#00d4ff 101px,#00a4ff 109px,#00f 141px,#00f 143px,#0000f1 146px,#000080 165px,#000080 290px)"></i>
<i style="background:linear-gradient(90deg,#ff9100 6px,#ff9f00 18px,#ffea00 37px,#f8f500 41px,#eeff09 44px,#adff49 62px,#83ff73 84px,#70ff87 88px,#19ffde 96px,#06ecf1 98px,#00d8ff 100px,#009cff 110px,#00f 141px,#00f 144px,#000096 161px,#000080 166px,#000080 290px)"></i>
<i style="background:linear-gradient(90deg,#ff7e00 6px,#ff7e00 11px,#ff9400 21px,#ffb200 29px,#ffea00 40px,#f4f802 44px,#eeff09 46px,#adff49 62px,#7aff7d 86px,#63ff94 89px,#1fffd7 95px,#13fce4 96px,#00e4f8 98px,#00d8ff 99px,#00b8ff 104px,#00f 141px,#00f 144px,#000080 166px,#000080 290px)"></i>
<i style="background:linear-gradient(90deg,#ff6800 6px,#ff7a00 18px,#ffab00 31px,#ffea00 43px,#f4f802 46px,#ebff0c 48px,#aaff4d 64px,#7dff7a 85px,#66ff90 88px,#19ffde 95px,#02e8f4 97px,#00d4ff 99px,#00b0ff 105px,#00f 141px,#00f 144px,#000096 162px,#000080 167px,#000080 290px)"></i>
<i style="background:linear-gradient(90deg,#ff5d00 6px,#ff6000 13px,#ff7a00 22px,#ff9f00 31px,#ffea00 45px,#f8f500 47px,#eeff09 49px,#adff49 63px,#83ff73 83px,#77ff80 86px,#66ff90 88px,#16ffe1 95px,#02e8f4 97px,#00d4ff 99px,#00c4ff 101px,#00f 141px,#00f 144px,#0000f6 146px,#000080 167px,#000080 290px)"></i>
<i style="background:linear-gradient(90deg,#f50 6px,#ff6000 17px,#ff6f00 22px,#ffa700 34px,#ffea00 46px,#f4f802 49px,#eeff09 50px,#b1ff46 62px,#7aff7d 85px,#5aff9d 89px,#16ffe1 95px,#02e8f4 97px,#00d4ff 99px,#00b0ff 105px,#00f 141px,#00f 144px,#0000ed 148px,#000080 168px,#000080 290px)"></i>
<i style="background:linear-gradient(90deg,#ff4a00 6px,#ff6000 19px,#ff7a00 26px,#ffe600 47px,#f4f802 50px,#eeff09 51px,#b7ff40 61px,#7aff7d 85px,#5aff9d 89px,#19ffde 95px,#02e8f4 97px,#00d4ff 99px,#00f 142px,#00f 145px,#0000f6 147px,#000080 169px,#000080 290px)"></i>
<i style="background:linear-gradient(90deg,#ff4a00 6px,#ff6f00 24px,#ffe600 48px,#f4f802 51px,#eeff09 52px,#b4ff43 62px,#80ff77 84px,#6dff8a 87px,#1cffdb 95px,#06ecf1 97px,#00d8ff 99px,#00a0ff 109px,#00f 143px,#00f 146px,#00009f 163px,#000080 170px,#000080 290px)"></i>
<i style="background:linear-gradient(90deg,#ff5200 6px,#ff6000 17px,#ff7a00 26px,#ff9f00 35px,#ffea00 49px,#f4f802 51px,#eeff09 52px,#b4ff43 62px,#83ff73 83px,#77ff80 86px,#16ffe1 96px,#02e8f4 98px,#00d4ff 100px,#00c0ff 103px,#00f 143px,#00f 147px,#000080 170px,#000080 290px)"></i>
<i style="background:linear-gradient(90deg,#ff5900 6px,#ff6400 17px,#ff7a00 25px,#ff9f00 35px,#ffea00 49px,#f8f500 51px,#ebff0c 53px,#b4ff43 62px,#7dff7a 85px,#6aff8d 88px,#19ffde 96px,#06ecf1 98px,#00d8ff 100px,#00b0ff 107px,#00f 144px,#00f 147px,#0000ed 151px,#000080 171px,#000080 290px)"></i>
<i style="background:linear-gradient(90deg,#ff6400 6px,#ff6800 15px,#ff8900 28px,#ffb900 40px,#ffea00 49px,#f8f500 51px,#ebff0c 53px,#b4ff43 62px,#7aff7d 86px,#16ffe1 97px,#02e8f4 99px,#00d8ff 101px,#00b8ff 106px,#00f 145px,#00f 148px,#0000ed 152px,#000080 172px,#000080 290px)"></i>
<i style="background:linear-gradient(90deg,#ff6f00 6px,#ff7300 16px,#ff9400 30px,#ffae00 37px,#ffea00 49px,#f4f802 51px,#eeff09 52px,#b4ff43 62px,#7aff7d 86px,#66ff90 89px,#1cffdb 97px,#02e8f4 100px,#00d4ff 102px,#00f 146px,#00f 149px,#0000f6 151px,#000080 173px,#000080 290px)"></i>
<i style="background:linear-gradient(90deg,#ff7a00 6px,#ff8200 20px,#ff9f00 32px,#ffea00 48px,#f8f500 50px,#ebff0c 52px,#b7ff40 61px,#77ff80 87px,#19ffde 98px,#00e4f8 101px,#00d4ff 103px,#00a8ff 111px,#00f 147px,#00f 150px,#000080 174px,#000080 290px)"></i>
<i style="background:linear-gradient(90deg,#ff8600 6px,#ff8900 19px,#ff9f00 30px,#ffea00 47px,#f8f500 49px,#eeff09 51px,#baff3c 60px,#77ff80 87px,#16ffe1 99px,#00e0fb 102px,#00d8ff 103px,#00c4ff 106px,#00f 147px,#00f 151px,#000080 174px,#000080 290px)"></i>
<i style="background:linear-gradient(90deg,#ff8d00 6px,#ff9400 20px,#ffa300 28px,#ffc100 37px,#ffea00 46px,#f8f500 48px,#eeff09 50px,#b1ff46 62px,#7dff7a 86px,#19ffde 99px,#02e8f4 102px,#00d4ff 104px,#00f 148px,#00f 151px,#0000ed 155px,#000080 175px,#000080 290px)"></i>
<i style="background:linear-gradient(90deg,#ff9800 6px,#ff9f00 21px,#ffb200 30px,#ffea00 44px,#f4f802 47px,#ebff0c 49px,#b7ff40 60px,#77ff80 87px,#1cffdb 99px,#02e8f4 102px,#00d8ff 104px,#00acff 112px,#00f 149px,#00f 152px,#0000f6 154px,#000080 176px,#000080 290px)"></i>
<i style="background:linear-gradient(90deg,#ff9f00 6px,#ffa300 16px,#ffb900 29px,#ffe600 42px,#f8f500 45px,#eeff09 47px,#ceff29 54px,#adff49 64px,#77ff80 87px,#16ffe1 100px,#00e4f8 103px,#00d4ff 105px,#00f 149px,#00f 153px,#000080 177px,#000080 290px)"></i>
<i style="background:linear-gradient(90deg,#ffa700 6px,#ffa700 11px,#ffbd00 26px,#ffea00 41px,#f4f802 44px,#eeff09 46px,#a4ff53 67px,#7aff7d 86px,#16ffe1 100px,#00e4f8 103px,#00d8ff 105px,#00c8ff 107px,#00f 150px,#00f 153px,#0000ed 157px,#00009f 171px,#000080 178px,#000080 290px)"></i>
<i style="background:linear-gradient(90deg,#ffae00 6px,#ffbd00 21px,#ffea00 39px,#f4f802 44px,#eeff09 46px,#9dff5a 70px,#77ff80 86px,#16ffe1 100px,#02e8f4 103px,#00d8ff 105px,#00c4ff 108px,#00f 150px,#00f 154px,#0000a8 170px,#000080 179px,#000080 290px)"></i>
<i style="background:linear-gradient(90deg,#ffb200 6px,#ffc400 20px,#ffea00 36px,#eeff09 45px,#90ff66 75px,#7aff7d 85px,#16ffe1 100px,#02e8f4 103px,#00d8ff 105px,#00c0ff 109px,#00f 151px,#00f 154px,#0000ed 158px,#000080 179px,#000080 290px)"></i>
<i style="background:linear-gradient(90deg,#ffb900 6px,#ffd300 24px,#feed00 35px,#eeff09 42px,#ceff29 56px,#73ff83 86px,#16ffe1 100px,#02e8f4 103px,#00d8ff 105px,#0080ff 123px,#00f 152px,#00f 155px,#0000f6 157px,#000080 180px,#000080 290px)"></i>
<i style="background:linear-gradient(90deg,#ffbd00 6px,#ffea00 31px,#f4f802 37px,#eeff09 39px,#baff3c 62px,#7aff7d 84px,#16ffe1 100px,#02e8f4 103px,#00d8ff 105px,#00f 152px,#00f 155px,#000080 181px,#000080 290px)"></i>
<i style="background:linear-gradient(90deg,#ffc100 6px,#ffea00 30px,#f8f500 34px,#eeff09 38px,#aaff4d 67px,#77ff80 84px,#19ffde 99px,#00e4f8 103px,#00d8ff 105px,#00bcff 110px,#00f 152px,#00f 156px,#000080 182px,#000080 290px)"></i>
<i style="background:linear-gradient(90deg,#ffc100 6px,#ffea00 29px,#f8f500 33px,#eeff09 37px,#9aff5d 72px,#7aff7d 83px,#19ffde 99px,#00e4f8 103px,#00d8ff 105px,#00c0ff 109px,#00f 153px,#00f 156px,#000080 182px,#000080 290px)"></i>
<i style="background:linear-gradient(90deg,#ffc100 6px,#ffea00 28px,#f4f802 34px,#eeff09 36px,#90ff66 75px,#6dff8a 85px,#16ffe1 99px,#02e8f4 102px,#00d4ff 105px,#00f 153px,#00f 157px,#000080 183px,#000080 290px)"></i>
<i style="background:linear-gradient(90deg,#ffc100 6px,#ffea00 28px,#f8f500 32px,#eeff09 35px,#87ff70 78px,#70ff87 84px,#16ffe1 99px,#02e8f4 102px,#00d4ff 105px,#00f 154px,#00f 157px,#000080 184px,#000080 290px)"></i>
<i style="background:linear-gradient(90deg,#ffc400 6px,#ffde00 23px,#f8f500 32px,#eeff09 36px,#80ff77 80px,#73ff83 83px,#19ffde 98px,#02e8f4 102px,#00d8ff 104px,#00f 154px,#00f 158px,#000080 185px,#000080 290px)"></i>
<i style="background:linear-gradient(90deg,#ffc400 6px,#ffde00 24px,#f8f500 33px,#eeff09 36px,#8dff6a 75px,#77ff80 82px,#19ffde 98px,#06ecf1 101px,#00d8ff 104px,#00f 155px,#00f 158px,#000080 186px,#000080 290px)"></i>
<i style="background:linear-gradient(90deg,#ffc400 6px,#ffde00 25px,#f8f500 34px,#eeff09 37px,#b7ff40 59px,#7dff7a 80px,#19ffde 98px,#00e4f8 102px,#00d8ff 104px,#00f 155px,#00f 159px,#000080 187px,#000080 290px)"></i>
<i style="background:linear-gradient(90deg,#ffc400 6px,#ffea00 31px,#f8f500 35px,#ebff0c 40px,#77ff80 81px,#16ffe1 98px,#00e4f8 102px,#00d8ff 104px,#00f 156px,#00f 160px,#000080 188px,#000080 290px)"></i>
<i style="background:linear-gradient(90deg,#ffc100 6px,#ffea00 32px,#eeff09 40px,#7aff7d 80px,#16ffe1 98px,#00e4f8 102px,#00d8ff 104px,#00f 156px,#00f 160px,#000080 189px,#000080 290px)"></i>
<i style="background:linear-gradient(90deg,#ffc100 6px,#ffea00 34px,#eeff09 41px,#7dff7a 79px,#16ffe1 98px,#00e4f8 102px,#00d8ff 104px,#00f 157px,#00f 161px,#000080 190px,#000080 290px)"></i>
<i style="background:linear-gradient(90deg,#ffbd00 6px,#ffea00 35px,#eeff09 41px,#e7ff0f 44px,#80ff77 78px,#16ffe1 98px,#00e4f8 102px,#00d8ff 104px,#00f 158px,#00f 162px,#000080 190px,#000080 290px)"></i>
<i style="background:linear-gradient(90deg,#ffb900 6px,#ffea00 35px,#f4f802 40px,#eeff09 42px,#83ff73 77px,#16ffe1 98px,#00e4f8 102px,#00d8ff 104px,#00f 158px,#00f 162px,#000080 191px,#000080 290px)"></i>
<i style="background:linear-gradient(90deg,#ffb900 6px,#ffd300 25px,#ffea00 36px,#f4f802 40px,#eeff09 42px,#77ff80 80px,#16ffe1 98px,#00e4f8 102px,#00d8ff 104px,#00f 158px,#00f 163px,#000080 192px,#000080 290px)"></i>
<i style="background:linear-gradient(90deg,#ffb600 6px,#ffd700 28px,#ffea00 36px,#f4f802 41px,#eeff09 43px,#77ff80 80px,#16ffe1 98px,#00e4f8 102px,#00d8ff 104px,#00f 159px,#00f 163px,#000080 192px,#000080 290px)"></i>
<i style="background:linear-gradient(90deg,#ffb200 6px,#ffde00 33px,#feed00 38px,#f4f802 41px,#eeff09 43px,#77ff80 80px,#16ffe1 98px,#00e4f8 102px,#00d8ff 104px,#00f 159px,#00f 163px,#0000f6 166px,#000080 193px,#000080 290px)"></i>
<i style="background:linear-gradient(90deg,#ffae00 6px,#ffd300 28px,#ffea00 37px,#f4f802 42px,#eeff09 44px,#77ff80 80px,#16ffe1 98px,#00e4f8 102px,#00d8ff 104px,#00f 160px,#00f 164px,#000080 193px,#000080 290px)"></i>
<i style="background:linear-gradient(90deg,#ffab00 6px,#fc0 26px,#ffea00 38px,#f4f802 42px,#eeff09 44px,#77ff80 80px,#16ffe1 98px,#00e4f8 102px,#00d8ff 104px,#00f 160px,#00f 164px,#000080 194px,#000080 290px)"></i>
<i style="background:linear-gradient(90deg,#ffa700 6px,#ffde00 35px,#feed00 39px,#f4f802 42px,#eeff09 44px,#87ff70 76px,#16ffe1 98px,#00e4f8 102px,#00d8ff 104px,#00f 160px,#00f 164px,#0000f6 167px,#000080 194px,#000080 290px)"></i>
<i style="background:linear-gradient(90deg,#ffa700 6px,#ffb200 16px,#ffea00 39px,#f4f802 43px,#eeff09 45px,#83ff73 77px,#16ffe1 98px,#00e4f8 102px,#00d8ff 104px,#00f 160px,#00f 165px,#000080 194px,#000080 290px)"></i>
<i style="background:linear-gradient(90deg,#ffa300 6px,#ffb600 19px,#ffea00 39px,#f4f802 43px,#eeff09 45px,#83ff73 77px,#16ffe1 98px,#00e4f8 102px,#00d8ff 104px,#00f 161px,#00f 165px,#000080 195px,#000080 290px)"></i>
<i style="background:linear-gradient(90deg,#ffa300 6px,#ffab00 15px,#ffea00 40px,#f8f500 43px,#eeff09 45px,#80ff77 78px,#16ffe1 98px,#02e8f4 102px,#00d8ff 104px,#00f 161px,#00f 165px,#0000f1 169px,#000080 195px,#000080 290px)"></i>
<i style="background:linear-gradient(90deg,#ffa300 6px,#ffab00 16px,#ffea00 40px,#f4f802 44px,#eeff09 46px,#80ff77 78px,#16ffe1 98px,#02e8f4 102px,#00d4ff 105px,#00f 161px,#00f 166px,#000080 195px,#000080 290px)"></i>
<i style="background:linear-gradient(90deg,#ff9f00 6px,#ffae00 18px,#ffea00 40px,#f4f802 44px,#eeff09 46px,#73ff83 81px,#16ffe1 98px,#02e8f4 102px,#00d4ff 105px,#00f 161px,#00f 166px,#000080 196px,#000080 290px)"></i>
<i style="background:linear-gradient(90deg,#ff9f00 6px,#ffae00 18px,#ffea00 40px,#f4f802 44px,#eeff09 46px,#7dff7a 79px,#16ffe1 98px,#02e8f4 102px,#00d4ff 105px,#00f 162px,#00f 166px,#000080 196px,#000080 290px)"></i>
<i style="background:linear-gradient(90deg,#ff9f00 6px,#ffab00 17px,#ffea00 41px,#f8f500 44px,#eeff09 46px,#7dff7a 79px,#19ffde 98px,#02e8f4 102px,#00d4ff 105px,#00f 162px,#00f 166px,#0000f6 169px,#000080 197px,#000080 290px)"></i>
<i style="background:linear-gradient(90deg,#ff9f00 6px,#ffab00 17px,#ffea00 41px,#f4f802 45px,#eeff09 47px,#7dff7a 79px,#19ffde 98px,#02e8f4 102px,#00d8ff 105px,#00b8ff 112px,#00f 162px,#00f 167px,#000080 197px,#000080 290px)"></i>
<i style="background:linear-gradient(90deg,#ff9c00 6px,#ffae00 19px,#ffea00 41px,#f4f802 45px,#eeff09 47px,#7aff7d 80px,#19ffde 98px,#02e8f4 102px,#00d8ff 105px,#00bcff 111px,#00f 162px,#00f 167px,#000080 197px,#000080 290px)"></i>
<i style="background:linear-gradient(90deg,#ff9c00 6px,#ffae00 19px,#ffea00 41px,#f4f802 45px,#eeff09 47px,#7aff7d 80px,#19ffde 98px,#02e8f4 102px,#00d8ff 105px,#00c0ff 110px,#00f 163px,#00f 167px,#000080 197px,#000080 290px)"></i>
<i style="background:linear-gradient(90deg,#ff9c00 6px,#ff9f00 12px,#ffb900 24px,#ffea00 41px,#f4f802 45px,#eeff09 47px,#7aff7d 80px,#19ffde 98px,#02e8f4 102px,#00d8ff 105px,#00c4ff 109px,#00f 163px,#00f 167px,#0000f6 170px,#000080 198px,#000080 290px)"></i>
<i style="background:linear-gradient(90deg,#ff9800 6px,#ffa300 15px,#ffb900 24px,#ffea00 42px,#f4f802 45px,#eeff09 47px,#87ff70 77px,#19ffde 98px,#02e8f4 102px,#00d8ff 105px,#00f 163px,#00f 168px,#000080 198px,#000080 290px)"></i>
<i style="background:linear-gradient(90deg,#ff9800 6px,#ffae00 20px,#ffea00 42px,#f8f500 45px,#eeff09 47px,#87ff70 77px,#16ffe1 99px,#00e4f8 103px,#00d8ff 105px,#00f 163px,#00f 168px,#000080 198px,#000080 290px)"></i>
<i style="background:linear-gradient(90deg,#ff9800 6px,#ffae00 20px,#ffea00 42px,#f4f802 46px,#ebff0c 48px,#83ff73 78px,#16ffe1 99px,#00e4f8 103px,#00d8ff 105px,#00f 163px,#00f 168px,#000080 199px,#000080 290px)"></i>
<i style="background:linear-gradient(90deg,#ff9400 6px,#ffb200 22px,#ffea00 42px,#f4f802 46px,#eeff09 48px,#83ff73 78px,#16ffe1 99px,#00e4f8 103px,#00d8ff 105px,#00f 164px,#00f 168px,#0000ed 173px,#000080 199px,#000080 290px)"></i>
<i style="background:linear-gradient(90deg,#ff9400 6px,#ffb900 25px,#ffea00 42px,#f4f802 46px,#eeff09 48px,#83ff73 78px,#16ffe1 99px,#00e4f8 103px,#00d8ff 105px,#00f 164px,#00f 168px,#0000f6 171px,#000080 199px,#000080 290px)"></i>
<i style="background:linear-gradient(90deg,#ff9400 6px,#ffae00 21px,#ffea00 42px,#f4f802 46px,#eeff09 48px,#83ff73 78px,#16ffe1 99px,#00e4f8 103px,#00d8ff 105px,#00f 164px,#0000fa 170px,#000080 199px,#000080 290px)"></i>
<i style="background:linear-gradient(90deg,#ff9400 6px,#ffae00 21px,#ffea00 42px,#f4f802 46px,#eeff09 48px,#83ff73 78px,#16ffe1 99px,#00e4f8 103px,#00d8ff 105px,#00f 164px,#00f 169px,#000080 199px,#000080 290px)"></i>
<i style="background:linear-gradient(90deg,#ff9400 6px,#ffae00 21px,#ffea00 43px,#f4f802 46px,#eeff09 48px,#83ff73 78px,#16ffe1 99px,#00e4f8 103px,#00d8ff 105px,#00f 164px,#00f 169px,#000080 200px,#000080 290px)"></i>
<i style="background:linear-gradient(90deg,#ff9400 6px,#ffab00 20px,#ffea00 43px,#f4f802 46px,#eeff09 48px,#83ff73 78px,#16ffe1 99px,#00e4f8 103px,#00d8ff 105px,#00f 164px,#00f 169px,#000080 200px,#000080 290px)"></i>
<i style="background:linear-gradient(90deg,#ff9400 6px,#ffb200 23px,#ffea00 43px,#f8f500 46px,#eeff09 48px,#80ff77 79px,#16ffe1 99px,#02e8f4 103px,#00d4ff 106px,#00f 164px,#00f 169px,#000080 200px,#000080 290px)"></i>
<i style="background:linear-gradient(90deg,#ff9100 6px,#ffa300 17px,#ffea00 43px,#f4f802 47px,#eeff09 48px,#80ff77 79px,#16ffe1 99px,#02e8f4 103px,#00d4ff 106px,#00f 165px,#00f 169px,#0000f1 173px,#000080 200px,#000080 290px)"></i>
<i style="background:linear-gradient(90deg,#ff9100 6px,#ffb900 26px,#ffea00 43px,#f4f802 47px,#eeff09 48px,#80ff77 79px,#16ffe1 99px,#02e8f4 103px,#00d4ff 106px,#00f 165px,#00f 169px,#0000f6 172px,#000080 200px,#000080 290px)"></i>
<i style="background:linear-gradient(90deg,#ff9100 6px,#ffb900 26px,#ffea00 43px,#f4f802 47px,#ebff0c 49px,#80ff77 79px,#16ffe1 99px,#02e8f4 103px,#00d4ff 106px,#00f 165px,#0000fa 171px,#000080 201px,#000080 290px)"></i>
<i style="background:linear-gradient(90deg,#ff9100 6px,#ffae00 22px,#ffea00 43px,#f4f802 47px,#ebff0c 49px,#80ff77 79px,#16ffe1 99px,#02e8f4 103px,#00d4ff 106px,#00f 165px,#00f 170px,#000080 201px,#000080 290px)"></i>
<i style="background:linear-gradient(90deg,#ff9100 6px,#ffae00 22px,#ffea00 43px,#f4f802 47px,#eeff09 49px,#80ff77 79px,#16ffe1 99px,#02e8f4 103px,#00d4ff 106px,#00f 165px,#00f 170px,#000080 201px,#000080 290px)"></i>
<i style="background:linear-gradient(90deg,#ff9100 6px,#ffae00 22px,#ffea00 43px,#f4f802 47px,#eeff09 49px,#80ff77 79px,#16ffe1 99px,#02e8f4 103px,#00d4ff 106px,#00f 165px,#00f 170px,#000080 201px,#000080 290px)"></i>
<i style="background:linear-gradient(90deg,#ff9100 6px,#ffae00 22px,#ffea00 43px,#f4f802 47px,#eeff09 49px,#80ff77 79px,#16ffe1 99px,#02e8f4 103px,#00d8ff 106px,#00c0ff 111px,#00f 165px,#00f 170px,#000080 201px,#000080 290px)"></i>
<i style="background:linear-gradient(90deg,#ff9100 6px,#ffab00 21px,#ffea00 43px,#f4f802 47px,#ebff0c 49px,#80ff77 79px,#16ffe1 99px,#02e8f4 103px,#00d8ff 106px,#00c0ff 111px,#00f 165px,#00f 170px,#000080 201px,#000080 290px)"></i>
<i style="background:linear-gradient(90deg,#ff9100 6px,#ffa300 18px,#ffea00 43px,#f4f802 47px,#ebff0c 49px,#80ff77 79px,#19ffde 99px,#02e8f4 103px,#00d8ff 106px,#00c0ff 111px,#00f 165px,#00f 170px,#000080 201px,#000080 290px)"></i>
<i style="background:linear-gradient(90deg,#ff9100 6px,#ffb200 24px,#ffea00 43px,#f4f802 47px,#eeff09 48px,#80ff77 79px,#19ffde 99px,#02e8f4 103px,#00d8ff 106px,#00c0ff 111px,#00f 165px,#00f 170px,#000080 201px,#000080 290px)"></i>
<i style="background:linear-gradient(90deg,#ff9100 6px,#ffa700 20px,#ffea00 43px,#f8f500 46px,#eeff09 48px,#80ff77 79px,#19ffde 99px,#02e8f4 103px,#00d8ff 106px,#00c0ff 111px,#00f 165px,#00f 170px,#000080 201px,#000080 290px)"></i>
<i style="background:linear-gradient(90deg,#ff8d00 6px,#ffa700 20px,#ffea00 43px,#f8f500 46px,#eeff09 48px,#80ff77 79px,#19ffde 99px,#02e8f4 103px,#00d8ff 106px,#00c4ff 110px,#00f 165px,#00f 170px,#000080 201px,#000080 290px)"></i>
<i style="background:linear-gradient(90deg,#ff8d00 6px,#ffae00 23px,#ffea00 43px,#f4f802 46px,#eeff09 48px,#80ff77 79px,#19ffde 99px,#02e8f4 103px,#00d8ff 106px,#00c4ff 110px,#00f 165px,#00f 170px,#000080 201px,#000080 290px)"></i>
<i style="background:linear-gradient(90deg,#ff8d00 6px,#ffae00 23px,#ffea00 43px,#f4f802 46px,#eeff09 48px,#80ff77 79px,#19ffde 99px,#02e8f4 103px,#00d8ff 106px,#00c4ff 110px,#00f 165px,#00f 170px,#000080 201px,#000080 290px)"></i>
<i style="background:linear-gradient(90deg,#ff8d00 6px,#ffa300 19px,#ffea00 42px,#f4f802 46px,#eeff09 48px,#80ff77 79px,#19ffde 99px,#02e8f4 103px,#00d8ff 106px,#00c4ff 110px,#00f 165px,#00f 170px,#000080 201px,#000080 290px)"></i>
<i style="background:linear-gradient(90deg,#ff8d00 6px,#ffab00 22px,#ffea00 42px,#f4f802 46px,#eeff09 48px,#80ff77 79px,#19ffde 99px,#02e8f4 103px,#00d8ff 106px,#00c4ff 110px,#00f 165px,#00f 170px,#000080 201px,#000080 290px)"></i>
<i style="background:linear-gradient(90deg,#ff8d00 6px,#ffab00 22px,#ffea00 42px,#f4f802 46px,#eeff09 48px,#80ff77 79px,#19ffde 99px,#02e8f4 103px,#00d8ff 106px,#00c4ff 110px,#00f 165px,#00f 170px,#000080 201px,#000080 290px)"></i>
<i style="background:linear-gradient(90deg,#ff8d00 6px,#ffab00 22px,#ffea00 41px,#f4f802 45px,#eeff09 47px,#80ff77 79px,#19ffde 99px,#02e8f4 103px,#00d8ff 106px,#00c4ff 110px,#00f 165px,#00f 170px,#000080 201px,#000080 290px)"></i>
<i style="background:linear-gradient(90deg,#ff8d00 6px,#ffb200 25px,#ffea00 40px,#f4f802 44px,#eeff09 46px,#80ff77 79px,#19ffde 99px,#02e8f4 103px,#00d8ff 106px,#00c0ff 111px,#00f 165px,#0000fa 171px,#000080 200px,#000080 290px)"></i>
<i style="background:linear-gradient(90deg,#ff8d00 6px,#ff9f00 18px,#ffb200 25px,#ffea00 40px,#f4f802 44px,#eeff09 46px,#80ff77 79px,#19ffde 99px,#02e8f4 103px,#00d8ff 106px,#00c0ff 111px,#00f 165px,#00f 169px,#0000f6 172px,#000080 200px,#000080 290px)"></i>
<i style="background:linear-gradient(90deg,#ff8d00 6px,#ffa700 21px,#ffea00 39px,#f4f802 43px,#eeff09 45px,#80ff77 79px,#19ffde 99px,#02e8f4 103px,#00d8ff 106px,#00c0ff 111px,#00f 165px,#00f 169px,#0000f6 172px,#000080 200px,#000080 290px)"></i>
<i style="background:linear-gradient(90deg,#ff8d00 6px,#ffa700 21px,#ffea00 39px,#f4f802 43px,#eeff09 45px,#83ff73 78px,#19ffde 99px,#02e8f4 103px,#00d8ff 106px,#00c0ff 111px,#00f 165px,#00f 169px,#0000f1 173px,#000080 200px,#000080 290px)"></i>
<i style="background:linear-gradient(90deg,#ff8d00 6px,#ffa700 21px,#ffea00 39px,#f4f802 43px,#eeff09 45px,#87ff70 77px,#16ffe1 99px,#02e8f4 103px,#00d8ff 106px,#00c0ff 111px,#00f 165px,#00f 169px,#0000ed 174px,#000080 200px,#000080 290px)"></i>
<i style="background:linear-gradient(90deg,#ff8d00 6px,#ffa700 21px,#ffea00 39px,#f4f802 43px,#eeff09 45px,#87ff70 77px,#16ffe1 99px,#02e8f4 103px,#00d8ff 106px,#00bcff 112px,#00f 164px,#00f 169px,#000080 200px,#000080 290px)"></i>
<i style="background:linear-gradient(90deg,#ff8d00 6px,#ffa300 20px,#ffea00 39px,#f4f802 43px,#eeff09 45px,#83ff73 78px,#16ffe1 99px,#02e8f4 103px,#00d8ff 106px,#00bcff 112px,#00f 164px,#00f 169px,#000080 200px,#000080 290px)"></i>
<i style="background:linear-gradient(90deg,#ff8d00 6px,#ffab00 23px,#ffea00 40px,#f4f802 44px,#eeff09 46px,#83ff73 78px,#16ffe1 99px,#02e8f4 103px,#00d4ff 106px,#00f 164px,#00f 169px,#000080 199px,#000080 290px)"></i>
<i style="background:linear-gradient(90deg,#ff8d00 6px,#ffab00 23px,#ffea00 41px,#f4f802 45px,#eeff09 47px,#83ff73 78px,#16ffe1 99px,#02e8f4 103px,#00d4ff 106px,#00f 164px,#00f 169px,#000080 199px,#000080 290px)"></i>
<i style="background:linear-gradient(90deg,#ff8d00 6px,#ffab00 23px,#ffea00 42px,#f4f802 45px,#eeff09 47px,#83ff73 78px,#16ffe1 99px,#02e8f4 103px,#00d4ff 106px,#00f 164px,#0000fa 170px,#000080 199px,#000080 290px)"></i>
<i style="background:linear-gradient(90deg,#ff8d00 6px,#ffa700 22px,#ffea00 42px,#f4f802 46px,#eeff09 48px,#83ff73 78px,#16ffe1 99px,#02e8f4 103px,#00d4ff 106px,#00f 164px,#00f 168px,#0000f6 171px,#000080 199px,#000080 290px)"></i>
<i style="background:linear-gradient(90deg,#ff8d00 6px,#ffa700 22px,#ffea00 43px,#f4f802 47px,#eeff09 49px,#87ff70 77px,#16ffe1 99px,#02e8f4 103px,#00d4ff 106px,#00f 164px,#00f 168px,#0000ed 173px,#000080 199px,#000080 290px)"></i>
<i style="background:linear-gradient(90deg,#ff8d00 6px,#ffa700 22px,#ffea00 44px,#f4f802 47px,#eeff09 49px,#87ff70 77px,#16ffe1 99px,#02e8f4 103px,#00d4ff 106px,#00f 164px,#00f 168px,#000080 199px,#000080 290px)"></i>
<i style="background:linear-gradient(90deg,#ff8d00 6px,#ffae00 25px,#ffea00 44px,#f4f802 48px,#eeff09 49px,#7aff7d 80px,#16ffe1 99px,#00e4f8 103px,#00d8ff 105px,#00f 163px,#00f 168px,#000080 198px,#000080 290px)"></i>
<i style="background:linear-gradient(90deg,#ff8d00 6px,#ffae00 25px,#ffea00 44px,#f4f802 48px,#eeff09 49px,#7aff7d 80px,#16ffe1 99px,#00e4f8 103px,#00d8ff 105px,#00f 163px,#00f 168px,#000080 198px,#000080 290px)"></i>
<i style="background:linear-gradient(90deg,#ff8d00 6px,#ffae00 25px,#ffea00 44px,#f4f802 48px,#ebff0c 50px,#7aff7d 80px,#16ffe1 99px,#00e4f8 103px,#00d8ff 105px,#00f 163px,#0000fa 169px,#000080 198px,#000080 290px)"></i>
<i style="background:linear-gradient(90deg,#ff8d00 6px,#ffae00 25px,#ffea00 44px,#f4f802 48px,#ebff0c 50px,#7dff7a 79px,#16ffe1 99px,#00e4f8 103px,#00d8ff 105px,#00f 163px,#00f 167px,#0000f1 171px,#000080 198px,#000080 290px)"></i>
<i style="background:linear-gradient(90deg,#ff8d00 6px,#ffab00 24px,#ffe600 44px,#f4f802 48px,#eeff09 50px,#7dff7a 79px,#16ffe1 99px,#00e4f8 103px,#00d8ff 105px,#00f 163px,#00f 167px,#000080 197px,#000080 290px)"></i>
<i style="background:linear-gradient(90deg,#ff9100 6px,#ffab00 24px,#ffea00 45px,#f4f802 48px,#eeff09 50px,#7dff7a 79px,#16ffe1 99px,#00e4f8 103px,#00d8ff 105px,#00f 162px,#00f 167px,#000080 197px,#000080 290px)"></i>
<i style="background:linear-gradient(90deg,#ff9100 6px,#ffa300 21px,#ffea00 45px,#f4f802 48px,#eeff09 50px,#7dff7a 79px,#19ffde 98px,#00e4f8 103px,#00d8ff 105px,#00f 162px,#00f 167px,#000080 197px,#000080 290px)"></i>
<i style="background:linear-gradient(90deg,#ff9100 6px,#ffa300 21px,#ffea00 45px,#f4f802 48px,#eeff09 50px,#7dff7a 79px,#19ffde 98px,#00e4f8 103px,#00d8ff 105px,#00f 162px,#00f 166px,#0000f1 170px,#000080 196px,#000080 290px)"></i>
<i style="background:linear-gradient(90deg,#ff9100 6px,#ffa300 21px,#ffea00 45px,#f4f802 48px,#eeff09 50px,#80ff77 78px,#19ffde 98px,#00e4f8 103px,#00d8ff 105px,#00f 162px,#00f 166px,#000080 196px,#000080 290px)"></i>
<i style="background:linear-gradient(90deg,#ff9100 6px,#ffa300 21px,#ffea00 45px,#f4f802 48px,#eeff09 50px,#80ff77 78px,#19ffde 98px,#00e4f8 103px,#00d8ff 105px,#00f 162px,#00f 166px,#000080 196px,#000080 290px)"></i>
<i style="background:linear-gradient(90deg,#ff9100 6px,#ffa300 21px,#ffea00 45px,#f4f802 48px,#eeff09 50px,#80ff77 78px,#16ffe1 99px,#00e4f8 103px,#00d8ff 105px,#00f 161px,#00f 166px,#000080 195px,#000080 290px)"></i>
<i style="background:linear-gradient(90deg,#ff9100 6px,#ffa300 21px,#ffea00 45px,#f4f802 48px,#eeff09 50px,#77ff80 80px,#16ffe1 99px,#02e8f4 103px,#00d4ff 106px,#00f 161px,#0000fa 167px,#000080 195px,#000080 290px)"></i>
<i style="background:linear-gradient(90deg,#ff9100 6px,#ffa300 21px,#ffea00 45px,#f4f802 48px,#eeff09 50px,#77ff80 80px,#16ffe1 99px,#02e8f4 103px,#00d8ff 106px,#0098ff 121px,#00f 161px,#00f 165px,#000080 194px,#000080 290px)"></i>
<i style="background:linear-gradient(90deg,#ff9100 6px,#ffa300 21px,#ffea00 45px,#f4f802 48px,#eeff09 50px,#83ff73 77px,#16ffe1 99px,#02e8f4 103px,#00d4ff 106px,#00f 161px,#00f 165px,#000080 194px,#000080 290px)"></i>
<i style="background:linear-gradient(90deg,#ff9100 6px,#ffa300 21px,#ffea00 45px,#f4f802 48px,#eeff09 50px,#7aff7d 79px,#16ffe1 99px,#00e4f8 103px,#00d4ff 106px,#00f 160px,#00f 164px,#0000f6 167px,#000080 193px,#000080 290px)"></i>
<i style="background:linear-gradient(90deg,#ff9100 6px,#ffab00 24px,#ffea00 45px,#f4f802 48px,#eeff09 50px,#7dff7a 78px,#19ffde 98px,#00e4f8 103px,#00d8ff 105px,#00f 160px,#00f 164px,#000080 193px,#000080 290px)"></i>
<i style="background:linear-gradient(90deg,#ff9400 6px,#ff9f00 18px,#ffae00 25px,#ffea00 45px,#f4f802 48px,#eeff09 50px,#7dff7a 78px,#19ffde 98px,#02e8f4 102px,#00d8ff 105px,#00f 159px,#00f 164px,#000080 192px,#000080 290px)"></i>
<i style="background:linear-gradient(90deg,#ff9400 6px,#ffae00 25px,#ffea00 45px,#f4f802 48px,#eeff09 50px,#73ff83 80px,#16ffe1 98px,#02e8f4 102px,#00d8ff 105px,#00f 159px,#00f 163px,#000080 192px,#000080 290px)"></i>
<i style="background:linear-gradient(90deg,#ff9400 6px,#ff9f00 17px,#ffb200 26px,#ffea00 45px,#f4f802 48px,#ebff0c 50px,#80ff77 77px,#16ffe1 98px,#02e8f4 102px,#00d4ff 105px,#00f 159px,#00f 163px,#000080 191px,#000080 290px)"></i>
<i style="background:linear-gradient(90deg,#ff9800 6px,#ffab00 23px,#ffea00 44px,#f4f802 48px,#ebff0c 50px,#77ff80 79px,#16ffe1 98px,#00e4f8 102px,#00d4ff 105px,#00f 158px,#00f 162px,#000080 191px,#000080 290px)"></i>
<i style="background:linear-gradient(90deg,#ff9800 6px,#ffa700 21px,#ffea00 44px,#f4f802 48px,#eeff09 49px,#7aff7d 78px,#19ffde 97px,#00e4f8 102px,#00d8ff 104px,#00f 158px,#00f 162px,#000080 190px,#000080 290px)"></i>
<i style="background:linear-gradient(90deg,#ff9800 6px,#ffab00 22px,#ffea00 44px,#f8f500 47px,#eeff09 49px,#87ff70 75px,#19ffde 97px,#02e8f4 101px,#00d8ff 104px,#00f 157px,#00f 161px,#000080 189px,#000080 290px)"></i>
<i style="background:linear-gradient(90deg,#ff9800 6px,#ffa300 18px,#ffb200 25px,#ffea00 44px,#f4f802 47px,#eeff09 49px,#7dff7a 77px,#16ffe1 97px,#02e8f4 101px,#00d4ff 104px,#00f 157px,#00f 161px,#000080 189px,#000080 290px)"></i>
<i style="background:linear-gradient(90deg,#ff9c00 6px,#ffab00 22px,#ffea00 44px,#f4f802 47px,#eeff09 49px,#80ff77 76px,#16ffe1 97px,#00e4f8 101px,#00d8ff 103px,#00f 156px,#00f 160px,#000080 188px,#000080 290px)"></i>
<i style="background:linear-gradient(90deg,#ff9c00 6px,#ffa700 20px,#ffea00 43px,#f4f802 47px,#ebff0c 49px,#77ff80 78px,#19ffde 96px,#00e4f8 101px,#00d8ff 103px,#00f 155px,#00f 159px,#000080 187px,#000080 290px)"></i>
<i style="background:linear-gradient(90deg,#ff9c00 6px,#ffab00 21px,#ffea00 43px,#f8f500 46px,#eeff09 48px,#7aff7d 77px,#16ffe1 96px,#02e8f4 100px,#00d8ff 103px,#08f 121px,#00f 155px,#00f 159px,#000080 186px,#000080 290px)"></i>
<i style="background:linear-gradient(90deg,#ff9c00 6px,#ffa700 19px,#ffea00 43px,#f4f802 46px,#eeff09 48px,#7dff7a 76px,#16ffe1 96px,#02e8f4 100px,#00d4ff 103px,#00f 154px,#00f 158px,#000080 186px,#000080 290px)"></i>
<i style="background:linear-gradient(90deg,#ff9f00 6px,#ffab00 20px,#ffea00 43px,#f4f802 46px,#eeff09 48px,#80ff77 75px,#16ffe1 96px,#00e4f8 100px,#00d8ff 102px,#00f 153px,#00f 157px,#000080 185px,#000080 290px)"></i>
<i style="background:linear-gradient(90deg,#ff9f00 6px,#ffab00 19px,#ffea00 42px,#f4f802 46px,#ebff0c 48px,#77ff80 77px,#19ffde 95px,#02e8f4 99px,#00d8ff 102px,#00f 153px,#00f 157px,#000080 184px,#000080 290px)"></i>
<i style="background:linear-gradient(90deg,#ff9f00 6px,#ffae00 20px,#ffea00 42px,#f8f500 45px,#eeff09 47px,#7aff7d 76px,#16ffe1 95px,#02e8f4 99px,#00d4ff 102px,#00f 152px,#00f 156px,#000080 183px,#000080 290px)"></i>
<i style="background:linear-gradient(90deg,#ffa300 6px,#ffa300 12px,#ffae00 19px,#ffea00 42px,#f4f802 45px,#eeff09 47px,#7dff7a 75px,#16ffe1 95px,#00e4f8 99px,#00d8ff 101px,#00f 152px,#00f 156px,#000080 182px,#000080 290px)"></i>
<i style="background:linear-gradient(90deg,#ffa300 6px,#ffae00 18px,#ffea00 42px,#f4f802 45px,#ebff0c 47px,#77ff80 76px,#19ffde 94px,#02e8f4 98px,#00d8ff 101px,#00f 152px,#00f 155px,#000080 182px,#000080 290px)"></i>
<i style="background:linear-gradient(90deg,#ffa300 6px,#ffae00 17px,#ffea00 41px,#f4f802 45px,#eeff09 46px,#7aff7d 75px,#16ffe1 94px,#02e8f4 98px,#00d4ff 101px,#00f 151px,#00f 155px,#000080 181px,#000080 290px)"></i>
<i style="background:linear-gradient(90deg,#ffa300 6px,#ffab00 14px,#ffd300 33px,#ffea00 41px,#f4f802 44px,#eeff09 46px,#80ff77 73px,#16ffe1 94px,#00e4f8 98px,#00d8ff 100px,#00f 150px,#00f 154px,#000080 180px,#000080 290px)"></i>
<i style="background:linear-gradient(90deg,#ffa700 6px,#ffae00 14px,#fc0 29px,#ffea00 41px,#f4f802 44px,#ebff0c 46px,#83ff73 72px,#16ffe1 93px,#02e8f4 97px,#00d8ff 100px,#00f 150px,#00f 153px,#000080 179px,#000080 290px)"></i>
<i style="background:linear-gradient(90deg,#ffa700 6px,#ffde00 37px,#feed00 41px,#f4f802 44px,#eeff09 45px,#7dff7a 73px,#16ffe1 93px,#00e4f8 97px,#00d8ff 99px,#00f 149px,#00f 153px,#000080 179px,#000080 290px)"></i>
<i style="background:linear-gradient(90deg,#ffab00 6px,#ffd300 31px,#ffea00 40px,#f8f500 43px,#eeff09 45px,#83ff73 71px,#16ffe1 92px,#02e8f4 96px,#00d8ff 99px,#00b8ff 105px,#00f 148px,#00f 152px,#000080 178px,#000080 290px)"></i>
<i style="background:linear-gradient(90deg,#ffae00 6px,#ffdb00 34px,#feed00 40px,#f4f802 43px,#eeff09 45px,#7dff7a 72px,#16ffe1 92px,#00e4f8 96px,#00d8ff 98px,#00f 147px,#00f 151px,#000080 177px,#000080 290px)"></i>
<i style="background:linear-gradient(90deg,#ffb200 6px,#ffde00 35px,#feed00 40px,#f4f802 43px,#eeff09 45px,#7aff7d 72px,#16ffe1 91px,#02e8f4 95px,#00d4ff 98px,#00f 147px,#00f 150px,#000080 176px,#000080 290px)"></i>
<i style="background:linear-gradient(90deg,#ffb200 6px,#ffea00 39px,#f4f802 43px,#eeff09 45px,#97ff60 65px,#19ffde 90px,#02e8f4 94px,#00d8ff 97px,#00f 146px,#00f 149px,#000080 176px,#000080 290px)"></i>
<i style="background:linear-gradient(90deg,#ffb600 6px,#ffde00 34px,#feed00 40px,#f4f802 43px,#eeff09 45px,#b1ff46 59px,#19ffde 89px,#02e8f4 93px,#00d8ff 96px,#00f 145px,#00f 149px,#000080 175px,#000080 290px)"></i>
<i style="background:linear-gradient(90deg,#ffb600 6px,#ffea00 38px,#f4f802 43px,#e1ff16 49px,#19ffde 88px,#00e4f8 93px,#00d8ff 95px,#00f 144px,#00f 148px,#000080 174px,#000080 290px)"></i>
<i style="background:linear-gradient(90deg,#ffb900 6px,#ffea00 38px,#eeff09 46px,#16ffe1 88px,#00e4f8 92px,#00d8ff 94px,#00f 144px,#00f 147px,#000080 173px,#000080 290px)"></i>
<i style="background:linear-gradient(90deg,#ffb900 6px,#ffea00 37px,#f1fc06 45px,#deff19 50px,#8dff6a 64px,#16ffe1 87px,#00e4f8 91px,#00d8ff 93px,#00f 143px,#00f 147px,#000080 173px,#000080 290px)"></i>
<i style="background:linear-gradient(90deg,#ffbd00 6px,#ffea00 37px,#f1fc06 45px,#d4ff23 52px,#83ff73 65px,#16ffe1 86px,#00e4f8 90px,#00d8ff 92px,#00f 142px,#00f 146px,#000080 172px,#000080 290px)"></i>
<i style="background:linear-gradient(90deg,#ffbd00 6px,#ffea00 36px,#f1fc06 45px,#e1ff16 50px,#73ff83 67px,#16ffe1 85px,#00e4f8 89px,#00d8ff 91px,#00f 141px,#00f 145px,#000080 171px,#000080 290px)"></i>
<i style="background:linear-gradient(90deg,#ffc100 6px,#feed00 38px,#f1fc06 44px,#e7ff0f 49px,#73ff83 66px,#16ffe1 84px,#00e4f8 88px,#00d8ff 90px,#00f 141px,#00f 144px,#000080 170px,#000080 290px)"></i>
<i style="background:linear-gradient(90deg,#ffc100 6px,#feed00 37px,#f4f802 43px,#e7ff0f 49px,#d7ff1f 52px,#70ff87 66px,#16ffe1 83px,#00e4f8 87px,#00d8ff 89px,#00f 140px,#00f 144px,#000080 170px,#000080 290px)"></i>
<i style="background:linear-gradient(90deg,#ffc400 6px,#feed00 37px,#f4f802 43px,#e7ff0f 49px,#d7ff1f 52px,#70ff87 65px,#16ffe1 82px,#00e4f8 86px,#00d8ff 88px,#00f 140px,#00f 144px,#000080 170px,#000080 290px)"></i>
<i style="background:linear-gradient(90deg,#ffc400 6px,#feed00 36px,#f4f802 43px,#e7ff0f 49px,#e1ff16 51px,#80ff77 62px,#16ffe1 81px,#00e4f8 85px,#00d8ff 87px,#00f 139px,#00f 143px,#000080 170px,#000080 290px)"></i>
<i style="background:linear-gradient(90deg,#ffc800 6px,#feed00 36px,#f4f802 43px,#e7ff0f 50px,#dbff1c 52px,#73ff83 63px,#16ffe1 80px,#02e8f4 84px,#00d8ff 86px,#00f 139px,#00f 143px,#000080 170px,#000080 290px)"></i>
<i style="background:linear-gradient(90deg,#ffc800 6px,#feed00 35px,#f8f500 41px,#e7ff0f 50px,#d4ff23 53px,#7dff7a 61px,#63ff94 65px,#16ffe1 79px,#02e8f4 83px,#00d4ff 86px,#00f 138px,#00f 142px,#000080 170px,#000080 290px)"></i>
<i style="background:linear-gradient(90deg,#fc0 6px,#feed00 35px,#f8f500 41px,#e7ff0f 50px,#deff19 52px,#97ff60 58px,#73ff83 62px,#19ffde 78px,#02e8f4 82px,#00d8ff 85px,#00f 138px,#00f 142px,#000080 169px,#000080 290px)"></i>
<i style="background:linear-gradient(90deg,#ffd000 6px,#feed00 35px,#ebff0c 50px,#caff2c 54px,#87ff70 59px,#73ff83 61px,#16ffe1 78px,#00e4f8 82px,#00d8ff 84px,#00d0ff 88px,#00f 138px,#00f 142px,#000080 170px,#000080 290px)"></i>
<i style="background:linear-gradient(90deg,#ffd000 6px,#feed00 34px,#f4f802 43px,#e7ff0f 51px,#d7ff1f 53px,#8dff6a 58px,#70ff87 61px,#19ffde 77px,#02e8f4 81px,#00d8ff 84px,#00d0ff 89px,#00f 139px,#00f 143px,#000080 170px,#000080 290px)"></i>
<i style="background:linear-gradient(90deg,#ffd300 6px,#feed00 33px,#f4f802 43px,#e7ff0f 51px,#dbff1c 53px,#80ff77 59px,#66ff90 62px,#16ffe1 77px,#02e8f4 81px,#00d8ff 84px,#00d0ff 90px,#00f 141px,#00f 144px,#00b 159px,#000080 170px,#000080 290px)"></i>
<i style="background:linear-gradient(90deg,#ffd700 6px,#feed00 33px,#f4f802 43px,#e7ff0f 51px,#dbff1c 53px,#8aff6d 58px,#73ff83 60px,#16ffe1 77px,#02e8f4 81px,#00d8ff 84px,#0cf 93px,#00f 142px,#00f 146px,#000080 171px,#000080 290px)"></i>
<i style="background:linear-gradient(90deg,#ffd700 6px,#feed00 32px,#ebff0c 51px,#d4ff23 54px,#8dff6a 58px,#66ff90 62px,#19ffde 77px,#00e4f8 82px,#00d8ff 85px,#00d0ff 93px,#00f 143px,#00f 147px,#0000ed 151px,#000080 171px,#000080 290px)"></i>
<i style="background:linear-gradient(90deg,#ffdb00 6px,#feed00 31px,#f4f802 43px,#e7ff0f 52px,#caff2c 55px,#83ff73 59px,#70ff87 61px,#19ffde 78px,#00e4f8 83px,#00d8ff 86px,#00d0ff 94px,#00f 145px,#00f 149px,#0000f6 151px,#000080 172px,#000080 290px)"></i>
<i style="background:linear-gradient(90deg,#ffdb00 6px,#feed00 31px,#ebff0c 52px,#deff19 54px,#8dff6a 59px,#70ff87 62px,#16ffe1 80px,#02e8f4 84px,#00d8ff 88px,#00d0ff 95px,#00f 147px,#00f 150px,#0000f6 152px,#000080 173px,#000080 290px)"></i>
<i style="background:linear-gradient(90deg,#ffde00 6px,#feed00 30px,#f4f802 43px,#ebff0c 52px,#d7ff1f 55px,#8aff6d 60px,#63ff94 65px,#16ffe1 82px,#02e8f4 87px,#00d8ff 91px,#00d4ff 95px,#0060ff 126px,#00f 148px,#00f 151px,#0000ed 155px,#000080 173px,#000080 290px)"></i>
<i style="background:linear-gradient(90deg,#ffe200 6px,#feed00 28px,#eeff09 51px,#deff19 55px,#80ff77 62px,#66ff90 66px,#16ffe1 85px,#02e8f4 90px,#00d8ff 95px,#0080ff 120px,#0034ff 139px,#00f 149px,#00f 152px,#0000ed 156px,#000080 174px,#000080 290px)"></i>
<i style="background:linear-gradient(90deg,#ffe200 6px,#feed00 27px,#ebff0c 53px,#dbff1c 56px,#83ff73 63px,#6aff8d 67px,#16ffe1 88px,#02e8f4 94px,#00d8ff 99px,#005cff 132px,#00f 151px,#00f 153px,#0000f1 156px,#000080 175px,#000080 290px)"></i>
<i style="background:linear-gradient(90deg,#ffe600 6px,#f8f500 37px,#ebff0c 53px,#deff19 56px,#80ff77 65px,#6dff8a 68px,#16ffe1 92px,#02e8f4 98px,#00d8ff 102px,#00c0ff 110px,#007cff 127px,#00f 152px,#00f 154px,#0000f1 157px,#000080 176px,#000080 290px)"></i>
<i style="background:linear-gradient(90deg,#ffe600 6px,#f8f500 35px,#ebff0c 53px,#dbff1c 57px,#8dff6a 65px,#73ff83 69px,#16ffe1 96px,#02e8f4 101px,#00d8ff 105px,#0cf 110px,#0098ff 123px,#00f 153px,#00f 155px,#0000f1 158px,#000080 177px,#000080 290px)"></i>
<i style="background:linear-gradient(90deg,#ffea00 6px,#f8f500 32px,#ebff0c 53px,#dbff1c 57px,#80ff77 69px,#16ffe1 97px,#02e8f4 101px,#00d8ff 104px,#00d0ff 112px,#00b0ff 120px,#00f 154px,#00f 156px,#0000f1 159px,#000080 178px,#000080 290px)"></i>
<i style="background:linear-gradient(90deg,#ffea00 6px,#f8f500 29px,#ebff0c 53px,#dbff1c 57px,#aaff4d 64px,#83ff73 71px,#43ffb4 87px,#16ffe1 96px,#02e8f4 100px,#00d8ff 103px,#00d4ff 112px,#00b8ff 120px,#00f 155px,#00f 157px,#0000f1 160px,#000092 175px,#000080 179px,#000080 290px)"></i>
<i style="background:linear-gradient(90deg,#feed00 6px,#f4f802 32px,#e7ff0f 53px,#83ff73 71px,#5dff9a 81px,#16ffe1 95px,#02e8f4 99px,#00d8ff 102px,#00d4ff 113px,#00bcff 120px,#00f 154px,#0000fa 158px,#00009f 172px,#000080 178px,#000080 290px)"></i>
<i style="background:linear-gradient(90deg,#feed00 6px,#f1fc06 27px,#e7ff0f 50px,#e1ff16 52px,#70ff87 70px,#60ff97 74px,#4dffaa 83px,#16ffe1 94px,#02e8f4 98px,#00d8ff 101px,#00d4ff 113px,#00c8ff 117px,#00a0ff 123px,#00f 152px,#00f 154px,#0000f1 157px,#00009b 170px,#000080 176px,#000080 290px)"></i>
<i style="background:linear-gradient(90deg,#feed00 6px,#f1fc06 22px,#e7ff0f 46px,#deff19 49px,#90ff66 59px,#50ffa7 70px,#46ffb1 73px,#39ffbe 85px,#16ffe1 93px,#02e8f4 97px,#00d8ff 101px,#00d4ff 111px,#00c4ff 116px,#00a4ff 120px,#0074ff 128px,#00f 149px,#00f 151px,#0000f1 154px,#00009b 167px,#000080 173px,#000080 290px)"></i>
<i style="background:linear-gradient(90deg,#fbf100 6px,#eeff09 23px,#e4ff13 40px,#ceff29 46px,#97ff60 53px,#3cffba 67px,#2cffca 72px,#26ffd1 84px,#16ffe1 91px,#02e8f4 96px,#00d8ff 100px,#00d0ff 109px,#00c4ff 113px,#0078ff 124px,#00f 146px,#00f 149px,#00009b 164px,#000080 170px,#000080 290px)"></i>
<i style="background:linear-gradient(90deg,#f4f802 6px,#e7ff0f 26px,#deff19 32px,#caff2c 38px,#53ffa4 56px,#16ffe1 69px,#09f0ee 88px,#00d8ff 97px,#00c4ff 105px,#00acff 111px,#0078ff 119px,#004cff 129px,#00f 143px,#00f 146px,#0000a8 159px,#000080 167px,#000080 290px)"></i>
<i style="background:linear-gradient(90deg,#eeff09 6px,#e7ff0f 12px,#adff49 33px,#94ff63 38px,#1cffdb 56px,#16ffe1 58px,#02e8f4 64px,#00dcfe 68px,#00d0ff 82px,#00b0ff 96px,#00f 140px,#00f 143px,#0000a8 156px,#000080 164px,#000080 290px)"></i>
<i style="background:linear-gradient(90deg,#d4ff23 6px,#d1ff26 8px,#aaff4d 15px,#73ff83 34px,#40ffb7 42px,#16ffe1 47px,#00e0fb 50px,#00d8ff 51px,#00b8ff 55px,#00a4ff 60px,#007cff 88px,#00f 133px,#00f 139px,#0000f6 141px,#000096 156px,#000080 161px,#000080 290px)"></i>
<i style="background:linear-gradient(90deg,#9dff5a 6px,#66ff90 15px,#49ffad 30px,#33ffc4 36px,#16ffe1 40px,#02e8f4 42px,#00dcfe 43px,#0074ff 50px,#0050ff 54px,#04f 57px,#0038ff 64px,#0030ff 82px,#0018ff 99px,#00f 110px,#00f 121px,#0000da 140px,#0000c4 146px,#000096 153px,#000080 158px,#000080 290px)"></i>
<i style="background:linear-gradient(90deg,#4dffaa 6px,#23ffd4 14px,#16ffe1 23px,#02e8f4 30px,#00d8ff 34px,#00acff 39px,#0070ff 43px,#0008ff 49px,#00f 50px,#0000e3 56px,#0000df 59px,#0000df 84px,#0000d6 100px,#0000b2 137px,#0000a4 146px,#000080 154px,#000080 290px)"></i>
<i style="background:linear-gradient(90deg,#02e8f4 6px,#00dcfe 11px,#00b8ff 24px,#08f 32px,#0068ff 36px,#0024ff 42px,#0004ff 44px,#00f 45px,#0000bf 51px,#0000a4 55px,#000080 63px,#000080 290px)"></i>
<i style="background:linear-gradient(90deg,#00d4ff 6px,#0cf 24px,#00b4ff 35px,#0098ff 39px,#08f 40px,#006cff 41px,#0018ff 43px,#0000fa 44px,#0000da 45px,#0000bf 47px,#00b 51px,#0000a4 56px,#0000a4 60px,#000080 67px,#000080 290px)"></i>
<i style="background:linear-gradient(90deg,#00d4ff 6px,#00d4ff 35px,#0cf 38px,#00bcff 39px,#00a0ff 40px,#0074ff 41px,#0034ff 42px,#00f 43px,#0000c8 44px,#00009f 45px,#000084 47px,#000089 71px,#000080 74px,#000080 290px)"></i>
<i style="background:linear-gradient(90deg,#00d4ff 6px,#00d0ff 37px,#00c8ff 38px,#00b0ff 39px,#08f 40px,#000cff 42px,#0000da 43px,#0000a8 44px,#00008d 45px,#000080 47px,#000080 290px)"></i>
<i style="background:linear-gradient(90deg,#00d4ff 6px,#00d4ff 35px,#0cf 37px,#00bcff 38px,#009cff 39px,#0068ff 40px,#0028ff 41px,#0000f6 42px,#00b 43px,#00009b 44px,#000080 46px,#000080 290px)"></i>
<i style="background:linear-gradient(90deg,#00d4ff 6px,#00d0ff 36px,#00c8ff 37px,#00b0ff 38px,#08f 39px,#0008ff 41px,#0000d6 42px,#0000a8 43px,#00008d 44px,#000080 46px,#000080 290px)"></i>
<i style="background:linear-gradient(90deg,#00d4ff 6px,#00d0ff 36px,#00c8ff 37px,#00b0ff 38px,#08f 39px,#0008ff 41px,#0000d6 42px,#0000a4 43px,#000080 45px,#000080 290px)"></i>
<i style="background:linear-gradient(90deg,#00d4ff 6px,#00d0ff 36px,#00c8ff 37px,#00b0ff 38px,#08f 39px,#0008ff 41px,#0000d6 42px,#0000a4 43px,#000080 45px,#000080 290px)"></i>
</div></div>
<div class="p" style="left:1403.3px"><div class="f">
<i style="background:linear-gradient(90deg,#000080 6px,#000080 237px,#000096 242px,#00b 244px,#0000e3 245px,#0008ff 246px,#0068ff 248px,#008cff 249px,#009cff 250px,#00a4ff 251px,#00a4ff 254px,#00b8ff 257px,#00e4f8 260px,#1cffdb 262px,#5dff9a 272px,#66ff90 276px,#8dff6a 285px,#8dff6a 290px)"></i>
<i style="background:linear-gradient(90deg,#000080 6px,#000080 231px,#000084 232px,#0000a4 233px,#00f 237px,#00f 238px,#004cff 243px,#00c4ff 249px,#00dcfe 251px,#13fce4 254px,#56ffa0 262px,#80ff77 270px,#a4ff53 283px,#adff49 290px)"></i>
<i style="background:linear-gradient(90deg,#000080 6px,#000080 217px,#000084 218px,#0000fa 223px,#0004ff 224px,#08f 231px,#00d0ff 236px,#06ecf1 238px,#19ffde 240px,#56ffa0 248px,#87ff70 258px,#ceff29 286px,#ceff29 290px)"></i>
<i style="background:linear-gradient(90deg,#000080 6px,#000080 198px,#000089 199px,#0000f6 205px,#00f 206px,#0008ff 207px,#009cff 216px,#00d4ff 220px,#06ecf1 222px,#19ffde 224px,#60ff97 234px,#83ff73 242px,#eeff09 283px,#f8f500 286px,#feed00 290px)"></i>
<i style="background:linear-gradient(90deg,#000080 6px,#000080 176px,#00009b 178px,#0000f1 183px,#00f 184px,#00f 185px,#0074ff 194px,#00d0ff 203px,#02e8f4 205px,#16ffe1 207px,#56ffa0 216px,#7dff7a 224px,#90ff66 230px,#eeff09 268px,#f4f802 270px,#ffea00 276px,#ffde00 282px,#ffdb00 290px)"></i>
<i style="background:linear-gradient(90deg,#000080 6px,#000080 152px,#0000a4 155px,#00f 161px,#00f 162px,#0080ff 173px,#00d4ff 182px,#02e8f4 185px,#19ffde 189px,#49ffad 201px,#87ff70 210px,#9aff5d 217px,#eeff09 254px,#f8f500 257px,#ffdb00 270px,#ffdb00 279px,#ffea00 290px)"></i>
<i style="background:linear-gradient(90deg,#000080 6px,#000080 127px,#000096 129px,#0000fa 136px,#00f 137px,#0004ff 138px,#004cff 144px,#0094ff 151px,#00d8ff 159px,#02e8f4 161px,#19ffde 165px,#49ffad 176px,#b1ff46 209px,#eeff09 239px,#f4f802 241px,#ffea00 247px,#ffde00 253px,#ffdb00 267px,#ffea00 275px,#f1fc06 281px,#e7ff0f 285px,#ebff0c 290px)"></i>
<i style="background:linear-gradient(90deg,#000080 6px,#000080 86px,#0000ad 94px,#00f 105px,#00f 107px,#00d8ff 134px,#02e8f4 136px,#19ffde 140px,#5aff9d 153px,#80ff77 164px,#adff49 185px,#eeff09 224px,#f4f802 226px,#feed00 231px,#ffd700 245px,#ffde00 257px,#feed00 264px,#eeff09 270px,#c4ff33 286px,#c4ff33 290px)"></i>
<i style="background:linear-gradient(90deg,#0074ff 6px,#0068ff 42px,#0070ff 55px,#0094ff 77px,#00d8ff 99px,#00e4f8 102px,#16ffe1 108px,#83ff73 137px,#a4ff53 149px,#beff39 165px,#caff2c 181px,#eeff09 207px,#feed00 215px,#ffde00 223px,#ffd700 237px,#feed00 251px,#f4f802 256px,#eeff09 258px,#9dff5a 290px)"></i>
<i style="background:linear-gradient(90deg,#5aff9d 6px,#53ffa4 56px,#60ff97 75px,#80ff77 101px,#baff3c 134px,#eeff09 189px,#f8f500 194px,#ffea00 201px,#ffd700 214px,#ffd700 224px,#feed00 238px,#f4f802 243px,#eeff09 245px,#c7ff30 262px,#87ff70 284px,#83ff73 286px,#8dff6a 290px)"></i>
<i style="background:linear-gradient(90deg,#aaff4d 6px,#aaff4d 75px,#b7ff40 102px,#eeff09 169px,#f8f500 176px,#ffd700 197px,#ffd700 210px,#ffea00 222px,#f8f500 228px,#eeff09 232px,#d1ff26 246px,#9dff5a 266px,#63ff94 284px,#66ff90 287px,#7aff7d 290px)"></i>
<i style="background:linear-gradient(90deg,#baff3c 6px,#b7ff40 78px,#c4ff33 88px,#c4ff33 101px,#d1ff26 108px,#eeff09 146px,#feed00 160px,#ffd300 185px,#ffd300 192px,#ffea00 208px,#f8f500 214px,#eeff09 218px,#baff3c 243px,#77ff80 268px,#3cffba 284px,#3cffba 286px,#4dffaa 290px)"></i>
<i style="background:linear-gradient(90deg,#c1ff36 6px,#beff39 79px,#caff2c 84px,#ceff29 101px,#e1ff16 110px,#eeff09 127px,#feed00 139px,#ffd700 162px,#ffd700 180px,#feed00 196px,#eeff09 205px,#94ff63 247px,#73ff83 258px,#16ffe1 284px,#2cffca 290px)"></i>
<i style="background:linear-gradient(90deg,#c7ff30 6px,#c1ff36 76px,#d7ff1f 87px,#d7ff1f 100px,#eeff09 111px,#feed00 124px,#ffd700 145px,#ffdb00 162px,#feed00 179px,#eeff09 190px,#a0ff56 230px,#77ff80 245px,#16ffe1 273px,#00e4f8 279px,#00dcfe 281px,#00d4ff 285px,#00e4f8 287px,#19ffde 289px,#1cffdb 290px)"></i>
<i style="background:linear-gradient(90deg,#caff2c 6px,#ceff29 21px,#c4ff33 74px,#e1ff16 86px,#e1ff16 99px,#eeff09 107px,#feed00 114px,#ffdb00 129px,#ffde00 146px,#feed00 158px,#eeff09 171px,#d7ff1f 189px,#b1ff46 210px,#83ff73 230px,#16ffe1 262px,#00dcfe 270px,#00bcff 278px,#00acff 285px,#00b4ff 286px,#00d8ff 288px,#0ff8e7 290px)"></i>
<i style="background:linear-gradient(90deg,#d1ff26 6px,#d4ff23 44px,#caff2c 73px,#ebff0c 86px,#eeff09 102px,#feed00 111px,#ffe600 122px,#ffea00 145px,#eeff09 153px,#beff39 189px,#90ff66 213px,#6aff8d 227px,#16ffe1 251px,#02e8f4 256px,#00d8ff 260px,#008cff 280px,#0084ff 284px,#0090ff 286px,#00dcfe 289px,#06ecf1 290px)"></i>
<i style="background:linear-gradient(90deg,#d4ff23 6px,#deff19 18px,#deff19 74px,#eeff09 83px,#f4f802 86px,#feed00 112px,#feed00 142px,#eeff09 147px,#d7ff1f 154px,#beff39 173px,#83ff73 206px,#5aff9d 220px,#16ffe1 239px,#02e8f4 245px,#00d8ff 249px,#005cff 283px,#0060ff 285px,#0070ff 286px,#0cf 289px,#00dcfe 290px)"></i>
<i style="background:linear-gradient(90deg,#deff19 6px,#eeff09 63px,#fbf100 83px,#f8f500 140px,#eeff09 143px,#c7ff30 152px,#7aff7d 197px,#16ffe1 227px,#02e8f4 233px,#00d8ff 237px,#008cff 260px,#0034ff 283px,#0038ff 285px,#0048ff 286px,#0090ff 289px,#0098ff 290px)"></i>
<i style="background:linear-gradient(90deg,#e4ff13 6px,#f4f802 40px,#feed00 69px,#feed00 123px,#f8f500 134px,#eeff09 138px,#aaff4d 156px,#6dff8a 188px,#16ffe1 215px,#00e4f8 222px,#00d8ff 226px,#0080ff 253px,#0010ff 281px,#000cff 284px,#0014ff 285px,#004cff 288px,#0058ff 290px)"></i>
<i style="background:linear-gradient(90deg,#ebff0c 6px,#f8f500 23px,#ffe600 76px,#feed00 128px,#f8f500 131px,#ebff0c 134px,#a0ff56 153px,#77ff80 171px,#16ffe1 203px,#02e8f4 209px,#00d8ff 213px,#0070ff 247px,#00f 276px,#00f 280px,#0000f1 283px,#00f 286px,#0034ff 288px,#04f 289px,#0048ff 290px)"></i>
<i style="background:linear-gradient(90deg,#f4f802 6px,#fbf100 14px,#ffea00 55px,#ffd000 81px,#ffd000 93px,#ffe600 108px,#feed00 126px,#eeff09 131px,#c7ff30 138px,#80ff77 156px,#16ffe1 190px,#02e8f4 196px,#00d8ff 201px,#007cff 233px,#00f 267px,#00f 271px,#0000c4 283px,#0000d1 285px,#00f 287px,#0038ff 289px,#0040ff 290px)"></i>
<i style="background:linear-gradient(90deg,#f8f500 6px,#feed00 13px,#ffe600 48px,#ffb600 72px,#ffa300 86px,#ffa700 95px,#ffb200 100px,#ffdb00 111px,#feed00 124px,#eeff09 128px,#baff3c 137px,#53ffa4 159px,#16ffe1 176px,#00e4f8 184px,#00d8ff 188px,#0070ff 226px,#00f 258px,#00f 262px,#00009b 283px,#0000ad 285px,#0000f6 287px,#0010ff 288px,#002cff 289px,#0038ff 290px)"></i>
<i style="background:linear-gradient(90deg,#fbf100 6px,#ffea00 34px,#ffde00 45px,#ffab00 63px,#ff7e00 85px,#ff7e00 93px,#ff8900 99px,#ffa700 107px,#ffdb00 116px,#feed00 121px,#eeff09 125px,#90ff66 142px,#43ffb4 154px,#16ffe1 164px,#02e8f4 170px,#00d8ff 175px,#0074ff 214px,#0008ff 246px,#00f 253px,#00008d 277px,#000080 283px,#000092 285px,#0000e3 287px,#0004ff 288px,#0024ff 289px,#0030ff 290px)"></i>
<i style="background:linear-gradient(90deg,#feed00 6px,#ffe200 35px,#fc0 46px,#ff6f00 78px,#ff6400 85px,#ff6400 94px,#ff7300 101px,#ff8d00 107px,#fbf100 122px,#eeff09 124px,#83ff73 141px,#29ffce 152px,#19ffde 155px,#02e8f4 160px,#00d8ff 164px,#00bcff 173px,#0070ff 205px,#00f 239px,#00f 244px,#000084 271px,#000080 284px,#000084 285px,#00f 288px,#0020ff 289px,#002cff 290px)"></i>
<i style="background:linear-gradient(90deg,#ffe600 6px,#ffdb00 33px,#ff6400 78px,#ff5900 84px,#ff5900 94px,#ff7300 105px,#ff9f00 113px,#ffea00 122px,#f8f500 123px,#e7ff0f 125px,#90ff66 137px,#19ffde 150px,#02e8f4 153px,#00d8ff 157px,#00d4ff 160px,#00a8ff 171px,#0064ff 199px,#00f 230px,#00f 235px,#000080 264px,#000080 285px,#00009f 286px,#00f 288px,#0028ff 290px)"></i>
<i style="background:linear-gradient(90deg,#ffe200 6px,#ffdb00 30px,#ff6800 76px,#ff5900 86px,#ff5900 92px,#ff6400 100px,#ff7a00 107px,#ffae00 116px,#ffe600 122px,#f1fc06 124px,#ebff0c 125px,#94ff63 135px,#19ffde 147px,#00e4f8 150px,#00d8ff 152px,#00d0ff 158px,#08f 174px,#0054ff 195px,#00f 220px,#00f 225px,#0000f1 229px,#000080 256px,#000080 285px,#000096 286px,#00f 288px,#0024ff 290px)"></i>
<i style="background:linear-gradient(90deg,#ffdb00 6px,#ffd700 32px,#ffb200 43px,#ff9f00 54px,#ff7a00 68px,#ff6800 80px,#ff6400 92px,#ff7300 103px,#ff8900 109px,#ffb900 117px,#ffea00 122px,#eeff09 124px,#7dff7a 136px,#19ffde 145px,#00e4f8 148px,#00d8ff 150px,#00c0ff 159px,#006cff 176px,#0030ff 198px,#00f 212px,#00f 217px,#0000a8 237px,#000080 248px,#000080 285px,#00008d 286px,#0000fa 288px,#0020ff 290px)"></i>
<i style="background:linear-gradient(90deg,#ffd300 6px,#ffd300 33px,#ffab00 45px,#ffa700 50px,#ff7a00 70px,#ff6f00 89px,#ff7e00 103px,#ff9f00 112px,#ffb900 116px,#ffea00 121px,#eeff09 123px,#19ffde 144px,#06ecf1 146px,#00dcfe 148px,#00c4ff 155px,#0058ff 176px,#00f 204px,#00f 209px,#000092 234px,#000084 238px,#000080 243px,#000080 285px,#000089 286px,#0000f1 288px,#000cff 289px,#0020ff 290px)"></i>
<i style="background:linear-gradient(90deg,#fc0 6px,#ffc800 27px,#ffd000 34px,#fc0 37px,#ffa700 47px,#ffa700 50px,#ff8900 63px,#ff7a00 88px,#ff8d00 105px,#ffa300 111px,#ffe600 119px,#f1fc06 121px,#e7ff0f 122px,#19ffde 143px,#00e4f8 146px,#00d4ff 148px,#004cff 175px,#00f 196px,#00f 201px,#000080 231px,#000080 242px,#000080 286px,#0000ed 288px,#0008ff 289px,#001cff 290px)"></i>
<i style="background:linear-gradient(90deg,#ffc800 6px,#ffc100 14px,#ffc800 39px,#ffab00 47px,#ff9400 59px,#ff8900 70px,#ff8600 87px,#ff9800 105px,#ffae00 110px,#feed00 117px,#eeff09 119px,#8aff6d 129px,#1cffdb 142px,#13fce4 143px,#00e4f8 145px,#00d4ff 147px,#00b8ff 151px,#0050ff 171px,#00f 189px,#00f 194px,#000084 222px,#000080 235px,#000080 286px,#0000a8 287px,#0000df 288px,#00f 289px,#000cff 290px)"></i>
<i style="background:linear-gradient(90deg,#ffc100 6px,#ffb900 26px,#ffc400 40px,#ffa300 53px,#ff9800 61px,#ff9100 87px,#ff9f00 101px,#ffb200 106px,#ffea00 113px,#f4f802 115px,#ebff0c 116px,#7dff7a 128px,#1cffdb 141px,#02e8f4 144px,#00d4ff 146px,#0080ff 159px,#00f 184px,#00f 188px,#000080 217px,#000080 286px,#000096 287px,#0000c8 288px,#0000e8 289px,#0000f6 290px)"></i>
<i style="background:linear-gradient(90deg,#ffb600 6px,#ffb200 26px,#ffc100 46px,#ff9f00 62px,#ff9c00 85px,#ffae00 97px,#ffb900 100px,#ffea00 108px,#eeff09 111px,#ceff29 116px,#87ff70 124px,#19ffde 140px,#02e8f4 143px,#00d8ff 145px,#0078ff 159px,#002cff 172px,#00f 181px,#00f 184px,#00008d 207px,#000080 211px,#000080 286px,#00008d 287px,#00b 288px,#0000da 289px,#0000e8 290px)"></i>
<i style="background:linear-gradient(90deg,#ffab00 6px,#ffa700 22px,#ffc100 50px,#ffa700 61px,#ffa700 75px,#ffb600 87px,#ffea00 101px,#f4f802 104px,#ebff0c 106px,#d4ff23 111px,#73ff83 124px,#19ffde 139px,#00d8ff 144px,#004cff 165px,#00f 178px,#00f 181px,#0000c4 191px,#000080 205px,#000080 286px,#000084 287px,#0000b6 288px,#0000d6 289px,#0000e3 290px)"></i>
<i style="background:linear-gradient(90deg,#ff9400 6px,#ff9400 21px,#ffb900 49px,#ffa700 64px,#ffb600 69px,#ffc400 79px,#ffea00 91px,#f8f500 95px,#eeff09 98px,#c7ff30 109px,#70ff87 122px,#16ffe1 138px,#02e8f4 141px,#00d8ff 143px,#002cff 169px,#00f 177px,#0000fa 180px,#0000b2 191px,#000080 201px,#000080 287px,#0000d1 289px,#0000df 290px)"></i>
<i style="background:linear-gradient(90deg,#f70 6px,#ff7a00 22px,#ffb200 50px,#ffa700 62px,#ffd700 76px,#feed00 86px,#eeff09 91px,#beff39 107px,#19ffde 136px,#02e8f4 140px,#00d8ff 142px,#00f 175px,#0000f6 179px,#0000a8 190px,#000080 197px,#000080 287px,#0000cd 289px,#0000da 290px)"></i>
<i style="background:linear-gradient(90deg,#ff5d00 6px,#ff5d00 17px,#ff6f00 30px,#ffa700 50px,#ffab00 61px,#ffe200 76px,#feed00 84px,#eeff09 88px,#a4ff53 109px,#16ffe1 135px,#00e4f8 139px,#00d8ff 141px,#00f 174px,#0000fa 177px,#0000a8 188px,#000080 195px,#000080 287px,#0000c4 289px,#0000d6 290px)"></i>
<i style="background:linear-gradient(90deg,#ff4300 6px,#ff4a00 21px,#ff6000 34px,#ff9f00 53px,#ffae00 61px,#ffe200 75px,#feed00 82px,#f4f802 85px,#ebff0c 87px,#9aff5d 108px,#19ffde 133px,#02e8f4 137px,#00d4ff 140px,#00f 173px,#00f 175px,#000096 189px,#000080 193px,#000080 287px,#000096 288px,#0000bf 289px,#0000d1 290px)"></i>
<i style="background:linear-gradient(90deg,#ff3000 6px,#ff3400 19px,#f50 37px,#feed00 80px,#eeff09 85px,#a0ff56 104px,#16ffe1 132px,#00e4f8 136px,#00d8ff 138px,#0014ff 168px,#00f 172px,#00f 174px,#000080 191px,#000080 287px,#00008d 288px,#0000b6 289px,#0000cd 290px)"></i>
<i style="background:linear-gradient(90deg,#ff2500 6px,#ff2500 18px,#ff3b00 33px,#ff8900 56px,#feed00 79px,#eeff09 83px,#87ff70 108px,#19ffde 130px,#02e8f4 134px,#00d8ff 137px,#00f 170px,#00f 173px,#000080 190px,#000080 287px,#000089 288px,#0000b2 289px,#0000c4 290px)"></i>
<i style="background:linear-gradient(90deg,#ff1e00 6px,#ff2500 28px,#ff3800 37px,#ff9400 62px,#feed00 80px,#eeff09 83px,#8aff6d 106px,#16ffe1 129px,#02e8f4 133px,#00d4ff 136px,#00f 170px,#00f 172px,#000080 189px,#000080 288px,#0000a8 289px,#0000bf 290px)"></i>
<i style="background:linear-gradient(90deg,#ff1a00 6px,#ff1e00 25px,#ff2d00 37px,#ff6c00 55px,#ff9800 65px,#feed00 81px,#eeff09 84px,#16ffe1 128px,#02e8f4 132px,#00d4ff 135px,#00f 169px,#00f 171px,#000096 185px,#000080 189px,#000080 288px,#0000a4 289px,#00b 290px)"></i>
<i style="background:linear-gradient(90deg,#ff1600 6px,#ff1a00 27px,#ff2900 39px,#ff8200 62px,#feed00 82px,#eeff09 85px,#16ffe1 127px,#02e8f4 131px,#00d4ff 134px,#00f 168px,#0000fa 171px,#000080 188px,#000080 288px,#0000b2 290px)"></i>
<i style="background:linear-gradient(90deg,#fa0f00 6px,#ff1600 27px,#ff2d00 42px,#f70 61px,#ffae00 72px,#ffea00 82px,#ebff0c 86px,#70ff87 108px,#16ffe1 126px,#02e8f4 130px,#00d8ff 133px,#0020ff 162px,#00f 168px,#00f 170px,#000089 186px,#000080 188px,#000080 288px,#0000ad 290px)"></i>
<i style="background:linear-gradient(90deg,#f60b00 6px,#fa0f00 23px,#ff2d00 43px,#ff7300 61px,#feed00 83px,#ebff0c 86px,#8dff6a 102px,#19ffde 125px,#02e8f4 129px,#00d8ff 132px,#00f 167px,#0000f6 171px,#000096 184px,#000080 188px,#000080 288px,#0000a4 290px)"></i>
<i style="background:linear-gradient(90deg,#ed0400 6px,#f10800 20px,#ff1300 27px,#ff2500 41px,#ff7a00 63px,#feed00 83px,#ebff0c 86px,#7aff7d 105px,#16ffe1 125px,#00e4f8 129px,#00d8ff 131px,#00f 167px,#0000fa 170px,#000096 184px,#000080 188px,#000080 289px,#000089 290px)"></i>
<i style="background:linear-gradient(90deg,#e80000 6px,#ed0400 19px,#ff1300 28px,#ff3000 45px,#ff7a00 63px,#ffe600 82px,#f8f500 84px,#ebff0c 86px,#66ff90 108px,#16ffe1 124px,#02e8f4 128px,#00d4ff 131px,#00f 166px,#00f 169px,#00008d 185px,#000080 188px,#000080 290px)"></i>
<i style="background:linear-gradient(90deg,#e40000 6px,#e80000 17px,#ff1300 28px,#ff2500 41px,#ff7300 61px,#ffc800 77px,#ffea00 82px,#f8f500 84px,#ebff0c 86px,#7aff7d 104px,#19ffde 123px,#02e8f4 127px,#00d8ff 130px,#00f 166px,#0000f6 170px,#00008d 185px,#000080 188px,#000080 290px)"></i>
<i style="background:linear-gradient(90deg,#e40000 6px,#e80000 14px,#ff1300 27px,#ff3000 44px,#ff6800 58px,#ffa300 70px,#ffea00 82px,#eeff09 85px,#77ff80 104px,#16ffe1 123px,#00e4f8 127px,#00d8ff 129px,#00f 166px,#0000f6 170px,#00008d 185px,#000080 188px,#000080 290px)"></i>
<i style="background:linear-gradient(90deg,#e80000 6px,#ff1300 26px,#ff3000 43px,#ff7a00 61px,#ffe600 81px,#f8f500 83px,#ebff0c 85px,#73ff83 104px,#19ffde 122px,#02e8f4 126px,#00d4ff 129px,#00f 166px,#0000f6 170px,#0000a8 181px,#000080 188px,#000080 290px)"></i>
<i style="background:linear-gradient(90deg,#ed0400 6px,#ff1300 22px,#ff2500 38px,#ff9f00 68px,#ffea00 81px,#eeff09 84px,#70ff87 104px,#16ffe1 122px,#00e4f8 126px,#00d8ff 128px,#00f 166px,#0000fa 169px,#000080 188px,#000080 290px)"></i>
<i style="background:linear-gradient(90deg,#f10800 6px,#ff1300 18px,#ff2500 37px,#ff9f00 67px,#feed00 81px,#ebff0c 84px,#73ff83 103px,#19ffde 121px,#02e8f4 125px,#00d8ff 128px,#000cff 163px,#00f 166px,#0000fa 169px,#000080 188px,#000080 290px)"></i>
<i style="background:linear-gradient(90deg,#f10800 6px,#ff1300 15px,#ff2500 35px,#ff9f00 66px,#ffea00 80px,#eeff09 83px,#83ff73 100px,#16ffe1 121px,#02e8f4 125px,#00d4ff 128px,#00f 165px,#0000fa 169px,#000080 188px,#000080 290px)"></i>
<i style="background:linear-gradient(90deg,#f60b00 6px,#ff1300 13px,#ff2500 33px,#ff3f00 40px,#ff6c00 49px,#ff9c00 64px,#feed00 80px,#ebff0c 83px,#7dff7a 101px,#16ffe1 121px,#00e4f8 125px,#00d8ff 127px,#00f 165px,#0000fa 169px,#000080 188px,#000080 290px)"></i>
<i style="background:linear-gradient(90deg,#fa0f00 6px,#ff2900 32px,#ff6c00 47px,#ffb200 68px,#ffea00 79px,#eeff09 82px,#66ff90 105px,#16ffe1 121px,#00e4f8 125px,#00d8ff 127px,#00f 165px,#0000fa 169px,#000092 185px,#000080 189px,#000080 290px)"></i>
<i style="background:linear-gradient(90deg,#fa0f00 6px,#ff2900 30px,#ff6c00 45px,#ffae00 66px,#ffea00 78px,#f8f500 80px,#ebff0c 82px,#66ff90 105px,#19ffde 120px,#02e8f4 124px,#00d8ff 127px,#00f 165px,#0000fa 169px,#00009f 183px,#000080 189px,#000080 290px)"></i>
<i style="background:linear-gradient(90deg,#ff1300 6px,#ff2900 27px,#ff6c00 43px,#ff9f00 61px,#ffea00 77px,#eeff09 81px,#19ffde 120px,#02e8f4 124px,#00d8ff 127px,#00f 166px,#0000f6 170px,#000080 189px,#000080 290px)"></i>
<i style="background:linear-gradient(90deg,#ff1a00 6px,#ff2d00 25px,#ff6c00 41px,#ff9f00 59px,#feed00 77px,#eeff09 80px,#19ffde 120px,#00e4f8 125px,#00d8ff 127px,#00f 166px,#00f 168px,#0000f1 171px,#000080 189px,#000080 290px)"></i>
<i style="background:linear-gradient(90deg,#ff1e00 6px,#ff2500 17px,#ff3400 24px,#ff6c00 38px,#ffa300 59px,#feed00 76px,#eeff09 79px,#16ffe1 121px,#00e4f8 125px,#00d8ff 127px,#00f 166px,#00f 169px,#000080 189px,#000080 290px)"></i>
<i style="background:linear-gradient(90deg,#ff2500 6px,#ff2900 14px,#ff3f00 24px,#ff6c00 36px,#ff9f00 56px,#feed00 75px,#ebff0c 79px,#16ffe1 121px,#02e8f4 125px,#00d8ff 127px,#00f 166px,#0000fa 170px,#000092 186px,#000080 190px,#000080 290px)"></i>
<i style="background:linear-gradient(90deg,#ff2900 6px,#ff3b00 19px,#ff7300 37px,#ff9c00 54px,#ffea00 74px,#eeff09 78px,#16ffe1 121px,#02e8f4 125px,#00d8ff 128px,#00f 167px,#0000f6 171px,#000080 190px,#000080 290px)"></i>
<i style="background:linear-gradient(90deg,#ff3000 6px,#ff4300 19px,#ff9c00 53px,#feed00 74px,#ebff0c 78px,#19ffde 121px,#00e4f8 126px,#00d8ff 128px,#00f 167px,#00f 170px,#000080 190px,#000080 290px)"></i>
<i style="background:linear-gradient(90deg,#ff3800 6px,#ff5900 26px,#ff9400 49px,#ffae00 58px,#ffea00 73px,#eeff09 77px,#16ffe1 122px,#02e8f4 126px,#00d4ff 129px,#00f 167px,#0000fa 171px,#0000a4 184px,#000080 191px,#000080 290px)"></i>
<i style="background:linear-gradient(90deg,#ff3f00 6px,#ff6000 27px,#ff8900 44px,#ffa300 54px,#feed00 73px,#eeff09 77px,#16ffe1 122px,#02e8f4 126px,#00d8ff 129px,#00f 168px,#0000f6 172px,#00008d 188px,#000080 191px,#000080 290px)"></i>
<i style="background:linear-gradient(90deg,#ff4300 6px,#ff6000 26px,#ff9f00 52px,#feed00 73px,#eeff09 76px,#19ffde 122px,#00e4f8 127px,#00d8ff 129px,#00f 168px,#00f 171px,#000080 191px,#000080 290px)"></i>
<i style="background:linear-gradient(90deg,#ff4300 6px,#ff6f00 33px,#ffa300 53px,#ffea00 72px,#eeff09 76px,#16ffe1 123px,#02e8f4 127px,#00d8ff 130px,#00f 168px,#0000fa 172px,#000092 188px,#000080 192px,#000080 290px)"></i>
<i style="background:linear-gradient(90deg,#ff3b00 6px,#ff5d00 26px,#ff9800 49px,#feed00 72px,#eeff09 76px,#16ffe1 123px,#02e8f4 127px,#00d8ff 130px,#00f 169px,#00f 171px,#0000f1 174px,#000080 192px,#000080 290px)"></i>
<i style="background:linear-gradient(90deg,#ff3400 6px,#ff5200 24px,#ff9100 47px,#feed00 72px,#ebff0c 76px,#19ffde 123px,#00e4f8 128px,#00d4ff 131px,#00f 169px,#0000fa 173px,#0000a4 186px,#000080 193px,#000080 290px)"></i>
<i style="background:linear-gradient(90deg,#ff3000 6px,#ff3400 13px,#ff5200 27px,#ff9400 49px,#feed00 72px,#ebff0c 76px,#19ffde 123px,#02e8f4 128px,#00d8ff 131px,#00f 170px,#0000f6 174px,#000080 193px,#000080 290px)"></i>
<i style="background:linear-gradient(90deg,#ff2900 6px,#ff2900 11px,#ff3f00 24px,#ff8900 47px,#feed00 72px,#ebff0c 76px,#16ffe1 124px,#02e8f4 128px,#00d8ff 131px,#00f 170px,#00f 173px,#00009f 188px,#000080 194px,#000080 290px)"></i>
<i style="background:linear-gradient(90deg,#f20 6px,#ff2500 16px,#ff3f00 28px,#ff9f00 54px,#feed00 72px,#eeff09 76px,#16ffe1 124px,#02e8f4 128px,#00d8ff 131px,#00f 171px,#0000f6 175px,#000080 194px,#000080 290px)"></i>
<i style="background:linear-gradient(90deg,#ff1a00 6px,#ff1e00 18px,#ff3000 27px,#ff9100 52px,#ffea00 72px,#eeff09 76px,#16ffe1 124px,#02e8f4 128px,#00d8ff 131px,#00f 171px,#00f 174px,#000080 195px,#000080 290px)"></i>
<i style="background:linear-gradient(90deg,#fa0f00 6px,#ff1600 20px,#ff2900 29px,#ff8900 52px,#feed00 73px,#ebff0c 77px,#16ffe1 124px,#02e8f4 128px,#00d8ff 131px,#00f 171px,#00f 174px,#0000f6 176px,#000092 192px,#000080 196px,#000080 290px)"></i>
<i style="background:linear-gradient(90deg,#f10800 6px,#f60b00 18px,#ff1300 21px,#ff2500 30px,#ff7300 49px,#ffea00 73px,#eeff09 77px,#16ffe1 124px,#00e4f8 129px,#00d8ff 131px,#00f 172px,#00f 175px,#000080 196px,#000080 290px)"></i>
<i style="background:linear-gradient(90deg,#e40000 6px,#e80000 16px,#ff1300 24px,#ff2500 32px,#ff6f00 50px,#ffe600 73px,#f4f802 76px,#ebff0c 78px,#80ff77 100px,#16ffe1 124px,#00e4f8 129px,#00d8ff 131px,#00f 172px,#00f 175px,#0000f6 177px,#000080 197px,#000080 290px)"></i>
<i style="background:linear-gradient(90deg,#df0000 6px,#df0000 14px,#e80000 18px,#ff1300 25px,#ff2500 33px,#ff7300 52px,#ffea00 74px,#eeff09 78px,#80ff77 100px,#16ffe1 124px,#00e4f8 129px,#00d4ff 132px,#00f 173px,#00f 176px,#0000a8 190px,#000080 198px,#000080 290px)"></i>
<i style="background:linear-gradient(90deg,#df0000 6px,#e80000 16px,#ff1300 26px,#ff2500 34px,#ff6000 49px,#ffea00 75px,#eeff09 79px,#73ff83 103px,#16ffe1 124px,#00e4f8 129px,#00d4ff 132px,#00f 173px,#00f 176px,#0000f6 178px,#000080 198px,#000080 290px)"></i>
<i style="background:linear-gradient(90deg,#e40000 6px,#e80000 12px,#ff1300 24px,#ff2500 34px,#ff6800 51px,#ffea00 75px,#eeff09 79px,#73ff83 103px,#16ffe1 124px,#00e4f8 129px,#00d4ff 132px,#00f 174px,#00f 177px,#000080 199px,#000080 290px)"></i>
<i style="background:linear-gradient(90deg,#e80000 6px,#ff1300 20px,#ff2500 34px,#ff7a00 55px,#ffe600 75px,#f4f802 78px,#ebff0c 80px,#90ff66 97px,#16ffe1 124px,#00e4f8 129px,#00d4ff 132px,#00f 174px,#00f 177px,#0000f6 179px,#000080 200px,#000080 290px)"></i>
<i style="background:linear-gradient(90deg,#ed0400 6px,#ff1300 18px,#ff2500 34px,#ff6800 51px,#ffea00 76px,#f8f500 78px,#ebff0c 80px,#73ff83 103px,#16ffe1 124px,#02e8f4 129px,#00d4ff 132px,#00f 174px,#00f 177px,#0000ed 181px,#000080 200px,#000080 290px)"></i>
<i style="background:linear-gradient(90deg,#f10800 6px,#ff1300 16px,#ff2900 35px,#ff6000 49px,#feed00 77px,#eeff09 80px,#73ff83 103px,#16ffe1 124px,#02e8f4 129px,#00d4ff 132px,#00f 175px,#00f 178px,#000080 201px,#000080 290px)"></i>
<i style="background:linear-gradient(90deg,#f60b00 6px,#ff1300 14px,#ff2500 33px,#ff9400 60px,#feed00 77px,#eeff09 80px,#73ff83 103px,#16ffe1 124px,#02e8f4 129px,#00d8ff 132px,#00f 175px,#00f 178px,#0000ed 182px,#000096 197px,#000080 202px,#000080 290px)"></i>
<i style="background:linear-gradient(90deg,#fa0f00 6px,#ff1e00 26px,#ff3000 36px,#ffa300 63px,#feed00 77px,#eeff09 80px,#73ff83 103px,#16ffe1 124px,#02e8f4 129px,#00d8ff 132px,#00f 176px,#00f 179px,#000080 202px,#000080 290px)"></i>
<i style="background:linear-gradient(90deg,#fa0f00 6px,#ff2500 31px,#ff3000 35px,#ff9f00 62px,#feed00 77px,#eeff09 80px,#73ff83 103px,#16ffe1 124px,#02e8f4 129px,#00d8ff 132px,#00f 176px,#00f 179px,#0000ed 183px,#000080 203px,#000080 290px)"></i>
<i style="background:linear-gradient(90deg,#ff1300 6px,#ff2900 31px,#ff9800 60px,#feed00 77px,#eeff09 80px,#73ff83 103px,#19ffde 124px,#02e8f4 129px,#00d8ff 132px,#00f 177px,#00f 180px,#000080 203px,#000080 290px)"></i>
<i style="background:linear-gradient(90deg,#ff1600 6px,#ff2900 30px,#ffab00 64px,#feed00 77px,#eeff09 80px,#73ff83 103px,#19ffde 124px,#02e8f4 129px,#00d8ff 132px,#00f 177px,#00f 180px,#0000f6 182px,#000080 204px,#000080 290px)"></i>
<i style="background:linear-gradient(90deg,#ff1a00 6px,#ff2500 26px,#ff3400 32px,#ff9f00 61px,#ffea00 76px,#f8f500 78px,#ebff0c 80px,#73ff83 103px,#19ffde 124px,#02e8f4 129px,#00d8ff 132px,#00f 177px,#00f 181px,#000080 204px,#000080 290px)"></i>
<i style="background:linear-gradient(90deg,#ff1e00 6px,#ff2500 23px,#ff3400 30px,#ffae00 64px,#ffea00 76px,#ebff0c 80px,#73ff83 103px,#16ffe1 125px,#02e8f4 129px,#00d8ff 132px,#00f 178px,#00f 181px,#0000f6 183px,#000080 205px,#000080 290px)"></i>
<i style="background:linear-gradient(90deg,#f20 6px,#ff2900 22px,#ff4300 33px,#ff9f00 60px,#feed00 76px,#ebff0c 80px,#73ff83 103px,#16ffe1 125px,#00e4f8 130px,#00d4ff 133px,#00f 178px,#00f 181px,#0000ed 185px,#000080 205px,#000080 290px)"></i>
<i style="background:linear-gradient(90deg,#ff2500 6px,#ff2d00 20px,#ff5200 37px,#ffae00 63px,#feed00 76px,#ebff0c 80px,#73ff83 103px,#16ffe1 125px,#00e4f8 130px,#00d8ff 133px,#00f 178px,#00f 182px,#000080 206px,#000080 290px)"></i>
<i style="background:linear-gradient(90deg,#ff2900 6px,#ff3000 18px,#ff5d00 40px,#ff9f00 59px,#feed00 76px,#ebff0c 80px,#73ff83 103px,#16ffe1 125px,#02e8f4 130px,#00d8ff 133px,#00f 179px,#00f 182px,#0000f6 184px,#000080 206px,#000080 290px)"></i>
<i style="background:linear-gradient(90deg,#ff2900 6px,#ff3b00 22px,#ff6400 42px,#ffa300 60px,#feed00 76px,#eeff09 79px,#73ff83 103px,#16ffe1 125px,#02e8f4 130px,#00d8ff 133px,#00f 179px,#00f 182px,#0000ed 186px,#00009f 200px,#000080 207px,#000080 290px)"></i>
<i style="background:linear-gradient(90deg,#ff2d00 6px,#ff3b00 19px,#ff6800 43px,#ffb900 65px,#feed00 76px,#eeff09 79px,#73ff83 103px,#16ffe1 125px,#02e8f4 130px,#00d8ff 133px,#00f 179px,#00f 183px,#000080 207px,#000080 290px)"></i>
<i style="background:linear-gradient(90deg,#ff2d00 6px,#ff6800 43px,#ffb900 65px,#feed00 76px,#eeff09 79px,#73ff83 103px,#19ffde 125px,#02e8f4 130px,#00d8ff 133px,#00f 179px,#00f 183px,#0000f6 185px,#000080 207px,#000080 290px)"></i>
<i style="background:linear-gradient(90deg,#ff3000 6px,#ff6c00 44px,#ffb600 64px,#feed00 76px,#eeff09 79px,#73ff83 103px,#19ffde 125px,#02e8f4 130px,#00d8ff 133px,#00f 180px,#00f 183px,#0000ed 187px,#00009f 201px,#000080 208px,#000080 290px)"></i>
<i style="background:linear-gradient(90deg,#ff3000 6px,#ff6c00 44px,#ffb200 63px,#feed00 76px,#eeff09 79px,#73ff83 103px,#19ffde 125px,#02e8f4 130px,#00d8ff 133px,#00f 180px,#00f 183px,#0000ed 187px,#000080 208px,#000080 290px)"></i>
<i style="background:linear-gradient(90deg,#ff3400 6px,#ff6400 41px,#ffae00 62px,#feed00 76px,#eeff09 79px,#73ff83 103px,#19ffde 125px,#02e8f4 130px,#00d8ff 133px,#00f 180px,#00f 184px,#000080 208px,#000080 290px)"></i>
<i style="background:linear-gradient(90deg,#ff3400 6px,#ff6400 41px,#ffae00 62px,#feed00 76px,#eeff09 79px,#73ff83 103px,#19ffde 125px,#02e8f4 130px,#00d8ff 133px,#00f 180px,#00f 184px,#000080 208px,#000080 290px)"></i>
<i style="background:linear-gradient(90deg,#ff3400 6px,#ff6400 41px,#ffae00 62px,#feed00 76px,#eeff09 79px,#73ff83 103px,#16ffe1 126px,#02e8f4 130px,#00d4ff 134px,#00f 181px,#00f 184px,#0000f6 186px,#000080 209px,#000080 290px)"></i>
<i style="background:linear-gradient(90deg,#ff3800 6px,#ff6400 41px,#ffae00 62px,#feed00 76px,#eeff09 79px,#73ff83 103px,#16ffe1 126px,#02e8f4 130px,#00d4ff 134px,#00f 181px,#00f 184px,#0000ed 188px,#000080 209px,#000080 290px)"></i>
<i style="background:linear-gradient(90deg,#ff3800 6px,#ff6400 41px,#ffae00 62px,#feed00 76px,#eeff09 79px,#73ff83 103px,#16ffe1 126px,#02e8f4 130px,#00d4ff 134px,#00f 181px,#00f 184px,#0000ed 188px,#000080 209px,#000080 290px)"></i>
<i style="background:linear-gradient(90deg,#ff3800 6px,#ff6400 41px,#ffae00 62px,#feed00 76px,#eeff09 79px,#73ff83 103px,#16ffe1 126px,#02e8f4 130px,#00d4ff 134px,#00f 181px,#00f 185px,#000080 209px,#000080 290px)"></i>
<i style="background:linear-gradient(90deg,#ff3800 6px,#ff6400 41px,#ffae00 62px,#feed00 76px,#eeff09 79px,#73ff83 103px,#16ffe1 126px,#00e4f8 131px,#00d4ff 134px,#00f 181px,#00f 185px,#000080 210px,#000080 290px)"></i>
<i style="background:linear-gradient(90deg,#ff3800 6px,#ff6400 41px,#ffae00 62px,#feed00 76px,#eeff09 79px,#73ff83 103px,#16ffe1 126px,#00e4f8 131px,#00d8ff 134px,#00f 181px,#00f 185px,#000080 210px,#000080 290px)"></i>
<i style="background:linear-gradient(90deg,#ff3800 6px,#ff6400 41px,#ffae00 62px,#feed00 76px,#eeff09 79px,#73ff83 103px,#16ffe1 126px,#00e4f8 131px,#00d8ff 134px,#00f 182px,#00f 185px,#0000ed 189px,#000080 210px,#000080 290px)"></i>
<i style="background:linear-gradient(90deg,#ff3800 6px,#ff6400 41px,#ffb900 65px,#feed00 76px,#eeff09 79px,#73ff83 103px,#16ffe1 126px,#00e4f8 131px,#00d8ff 134px,#00f 182px,#00f 185px,#0000ed 189px,#000080 210px,#000080 290px)"></i>
<i style="background:linear-gradient(90deg,#ff3800 6px,#ff6400 41px,#ffb900 65px,#feed00 76px,#eeff09 79px,#73ff83 103px,#16ffe1 126px,#00e4f8 131px,#00d8ff 134px,#00f 182px,#00f 185px,#0000ed 189px,#000080 210px,#000080 290px)"></i>
<i style="background:linear-gradient(90deg,#ff3800 6px,#ff6400 41px,#ffb900 65px,#feed00 76px,#eeff09 79px,#73ff83 103px,#16ffe1 126px,#02e8f4 131px,#00d8ff 134px,#00f 182px,#00f 185px,#000080 211px,#000080 290px)"></i>
<i style="background:linear-gradient(90deg,#ff3800 6px,#ff6400 41px,#ffb900 65px,#feed00 76px,#eeff09 79px,#73ff83 103px,#16ffe1 126px,#02e8f4 131px,#00d8ff 134px,#00f 182px,#00f 186px,#000080 211px,#000080 290px)"></i>
<i style="background:linear-gradient(90deg,#ff3800 6px,#ff6400 41px,#ffb900 65px,#feed00 76px,#eeff09 79px,#73ff83 103px,#16ffe1 126px,#02e8f4 131px,#00d8ff 134px,#00f 182px,#00f 186px,#000080 211px,#000080 290px)"></i>
<i style="background:linear-gradient(90deg,#ff3800 6px,#ff6400 41px,#ffb900 65px,#feed00 76px,#eeff09 79px,#73ff83 103px,#16ffe1 126px,#02e8f4 131px,#00d8ff 134px,#00f 182px,#00f 186px,#000080 211px,#000080 290px)"></i>
<i style="background:linear-gradient(90deg,#ff3800 6px,#ff6000 38px,#ff6f00 45px,#ffb900 65px,#feed00 76px,#eeff09 79px,#73ff83 103px,#16ffe1 126px,#02e8f4 131px,#00d8ff 134px,#00f 182px,#00f 186px,#000080 211px,#000080 290px)"></i>
<i style="background:linear-gradient(90deg,#ff3800 6px,#ff6000 38px,#ff6f00 45px,#ffb900 65px,#feed00 76px,#eeff09 79px,#73ff83 103px,#16ffe1 126px,#02e8f4 131px,#00d8ff 134px,#00f 182px,#00f 186px,#000080 211px,#000080 290px)"></i>
<i style="background:linear-gradient(90deg,#ff3b00 6px,#f50 30px,#ff6f00 45px,#ffb900 65px,#feed00 76px,#eeff09 79px,#73ff83 103px,#16ffe1 126px,#02e8f4 131px,#00d8ff 134px,#00f 182px,#00f 186px,#000080 211px,#000080 290px)"></i>
<i style="background:linear-gradient(90deg,#ff3b00 6px,#f50 30px,#ff6f00 45px,#ffb900 65px,#feed00 76px,#eeff09 79px,#73ff83 103px,#16ffe1 126px,#02e8f4 131px,#00d8ff 134px,#00f 183px,#00f 186px,#0000ed 190px,#000080 211px,#000080 290px)"></i>
<i style="background:linear-gradient(90deg,#ff3b00 6px,#ff6000 38px,#ff6f00 45px,#ffb900 65px,#feed00 76px,#eeff09 79px,#73ff83 103px,#16ffe1 126px,#02e8f4 131px,#00d8ff 134px,#00f 183px,#00f 186px,#0000ed 190px,#000080 211px,#000080 290px)"></i>
<i style="background:linear-gradient(90deg,#ff3b00 6px,#ff6000 38px,#ff6f00 45px,#ff9f00 59px,#feed00 76px,#eeff09 79px,#73ff83 103px,#16ffe1 126px,#02e8f4 131px,#00d8ff 134px,#00f 183px,#00f 186px,#0000ed 190px,#000080 211px,#000080 290px)"></i>
<i style="background:linear-gradient(90deg,#ff3b00 6px,#ff6000 38px,#ff6f00 45px,#ffa300 60px,#feed00 76px,#eeff09 79px,#73ff83 103px,#19ffde 126px,#02e8f4 131px,#00d4ff 135px,#00f 183px,#00f 186px,#0000ed 190px,#000080 211px,#000080 290px)"></i>
<i style="background:linear-gradient(90deg,#ff3b00 6px,#ff6000 38px,#ff6f00 45px,#ffa300 60px,#feed00 76px,#eeff09 79px,#73ff83 103px,#19ffde 126px,#02e8f4 131px,#00d4ff 135px,#00f 183px,#00f 186px,#0000ed 190px,#000080 211px,#000080 290px)"></i>
<i style="background:linear-gradient(90deg,#ff3b00 6px,#ff6800 42px,#ff9f00 59px,#feed00 76px,#eeff09 79px,#73ff83 103px,#19ffde 126px,#02e8f4 131px,#00d4ff 135px,#00f 183px,#00f 186px,#0000ed 190px,#000080 211px,#000080 290px)"></i>
<i style="background:linear-gradient(90deg,#ff3b00 6px,#ff6800 42px,#ff9f00 59px,#feed00 76px,#ebff0c 80px,#73ff83 103px,#19ffde 126px,#02e8f4 131px,#00d8ff 135px,#00f 183px,#00f 186px,#0000ed 190px,#000080 211px,#000080 290px)"></i>
<i style="background:linear-gradient(90deg,#ff3b00 6px,#ff6800 42px,#ff9f00 59px,#feed00 76px,#ebff0c 80px,#73ff83 103px,#19ffde 126px,#02e8f4 131px,#00d8ff 135px,#00f 183px,#00f 186px,#0000ed 190px,#000080 211px,#000080 290px)"></i>
<i style="background:linear-gradient(90deg,#ff3b00 6px,#ff6800 42px,#ff9f00 59px,#ffea00 76px,#f8f500 78px,#ebff0c 80px,#73ff83 103px,#19ffde 126px,#02e8f4 131px,#00d8ff 135px,#00f 183px,#00f 186px,#0000ed 190px,#000080 211px,#000080 290px)"></i>
<i style="background:linear-gradient(90deg,#ff3b00 6px,#ff6800 42px,#ff9f00 59px,#ffea00 76px,#eeff09 80px,#7dff7a 101px,#19ffde 126px,#02e8f4 131px,#00d8ff 135px,#00f 182px,#00f 186px,#000080 211px,#000080 290px)"></i>
<i style="background:linear-gradient(90deg,#ff3b00 6px,#ff6800 42px,#ff9f00 59px,#feed00 77px,#eeff09 80px,#7dff7a 101px,#19ffde 126px,#02e8f4 131px,#00d8ff 135px,#00f 182px,#00f 186px,#000080 211px,#000080 290px)"></i>
<i style="background:linear-gradient(90deg,#ff3b00 6px,#ff6800 42px,#ffae00 63px,#feed00 77px,#eeff09 80px,#7dff7a 101px,#19ffde 126px,#02e8f4 131px,#00d8ff 135px,#00f 182px,#00f 186px,#000080 211px,#000080 290px)"></i>
<i style="background:linear-gradient(90deg,#ff3b00 6px,#ff6800 42px,#ffae00 63px,#feed00 77px,#eeff09 80px,#7dff7a 101px,#19ffde 126px,#02e8f4 131px,#00d8ff 135px,#00f 182px,#00f 186px,#000080 211px,#000080 290px)"></i>
<i style="background:linear-gradient(90deg,#ff3b00 6px,#ff6800 42px,#ffae00 63px,#feed00 77px,#eeff09 80px,#7dff7a 101px,#19ffde 126px,#02e8f4 131px,#00d8ff 135px,#00f 182px,#00f 186px,#000080 211px,#000080 290px)"></i>
<i style="background:linear-gradient(90deg,#ff3b00 6px,#ff6800 42px,#ffae00 63px,#feed00 77px,#eeff09 80px,#73ff83 103px,#19ffde 126px,#02e8f4 131px,#00d8ff 135px,#00f 182px,#00f 186px,#000080 211px,#000080 290px)"></i>
<i style="background:linear-gradient(90deg,#ff3b00 6px,#ff6800 42px,#ffae00 63px,#feed00 77px,#ebff0c 81px,#73ff83 103px,#19ffde 126px,#02e8f4 131px,#00d4ff 135px,#00f 182px,#00f 186px,#000080 210px,#000080 290px)"></i>
<i style="background:linear-gradient(90deg,#ff3b00 6px,#ff6800 42px,#ffae00 63px,#feed00 77px,#ebff0c 81px,#73ff83 103px,#19ffde 126px,#02e8f4 131px,#00d4ff 135px,#00f 182px,#00f 186px,#000080 210px,#000080 290px)"></i>
<i style="background:linear-gradient(90deg,#ff3800 6px,#ff6800 42px,#ffb900 66px,#feed00 77px,#ebff0c 81px,#73ff83 103px,#19ffde 126px,#02e8f4 131px,#00d4ff 135px,#00f 182px,#00f 185px,#0000ed 189px,#000080 210px,#000080 290px)"></i>
<i style="background:linear-gradient(90deg,#ff3800 6px,#ff6800 42px,#ff9f00 59px,#ffea00 77px,#ebff0c 81px,#73ff83 103px,#19ffde 126px,#02e8f4 131px,#00d4ff 135px,#00f 182px,#00f 185px,#0000ed 189px,#000080 210px,#000080 290px)"></i>
<i style="background:linear-gradient(90deg,#ff3800 6px,#ff6800 42px,#ff9f00 59px,#ffea00 77px,#ebff0c 81px,#73ff83 103px,#19ffde 126px,#02e8f4 131px,#00d4ff 135px,#00f 182px,#00f 185px,#0000ed 189px,#000080 210px,#000080 290px)"></i>
<i style="background:linear-gradient(90deg,#ff3800 6px,#ff6800 42px,#ff9f00 59px,#ffea00 77px,#ebff0c 81px,#73ff83 103px,#19ffde 126px,#02e8f4 131px,#00d4ff 135px,#00f 182px,#00f 185px,#0000ed 189px,#000080 210px,#000080 290px)"></i>
<i style="background:linear-gradient(90deg,#ff3800 6px,#ff6800 42px,#ff9f00 59px,#ffea00 77px,#ebff0c 81px,#73ff83 103px,#16ffe1 126px,#02e8f4 131px,#00d4ff 135px,#00f 182px,#00f 185px,#0000ed 189px,#000080 210px,#000080 290px)"></i>
<i style="background:linear-gradient(90deg,#ff3800 6px,#ff6800 42px,#ff9f00 59px,#ffea00 77px,#ebff0c 81px,#80ff77 100px,#16ffe1 126px,#02e8f4 131px,#00d8ff 134px,#00f 182px,#00f 185px,#0000f6 187px,#000080 210px,#000080 290px)"></i>
<i style="background:linear-gradient(90deg,#ff3800 6px,#ff6800 42px,#ffb900 66px,#feed00 77px,#ebff0c 81px,#80ff77 100px,#16ffe1 126px,#02e8f4 131px,#00d8ff 134px,#00f 181px,#00f 185px,#0000f6 187px,#000080 209px,#000080 290px)"></i>
<i style="background:linear-gradient(90deg,#ff3800 6px,#ff6800 42px,#ffb900 66px,#feed00 77px,#ebff0c 81px,#80ff77 100px,#16ffe1 126px,#02e8f4 131px,#00d8ff 134px,#00f 181px,#00f 185px,#000080 209px,#000080 290px)"></i>
<i style="background:linear-gradient(90deg,#ff3800 6px,#ff6800 42px,#ffa300 61px,#feed00 77px,#eeff09 80px,#80ff77 100px,#16ffe1 126px,#02e8f4 131px,#00d8ff 134px,#00f 181px,#00f 184px,#0000ed 188px,#000080 209px,#000080 290px)"></i>
<i style="background:linear-gradient(90deg,#ff3800 6px,#ff6800 42px,#ff9f00 60px,#feed00 77px,#eeff09 80px,#80ff77 100px,#16ffe1 126px,#02e8f4 131px,#00d8ff 134px,#00f 181px,#00f 184px,#0000ed 188px,#000080 209px,#000080 290px)"></i>
<i style="background:linear-gradient(90deg,#ff3800 6px,#ff6800 42px,#ff9f00 60px,#feed00 77px,#eeff09 80px,#6dff8a 104px,#16ffe1 126px,#00e4f8 131px,#00d8ff 134px,#00f 181px,#00f 184px,#0000ed 188px,#000080 209px,#000080 290px)"></i>
<i style="background:linear-gradient(90deg,#ff3800 6px,#ff6000 38px,#ff6f00 45px,#ffae00 64px,#feed00 77px,#eeff09 80px,#7aff7d 101px,#19ffde 125px,#02e8f4 130px,#00d4ff 134px,#00f 181px,#00f 184px,#0000f6 186px,#000080 208px,#000080 290px)"></i>
<i style="background:linear-gradient(90deg,#ff3800 6px,#ff6000 38px,#ff6f00 45px,#ffae00 64px,#feed00 77px,#eeff09 80px,#83ff73 99px,#19ffde 125px,#02e8f4 130px,#00d8ff 133px,#00f 180px,#00f 184px,#000080 208px,#000080 290px)"></i>
<i style="background:linear-gradient(90deg,#ff3800 6px,#ff6c00 44px,#ffae00 64px,#feed00 77px,#eeff09 80px,#83ff73 99px,#16ffe1 125px,#02e8f4 130px,#00d8ff 133px,#00f 180px,#00f 183px,#0000ed 187px,#000080 208px,#000080 290px)"></i>
<i style="background:linear-gradient(90deg,#ff3800 6px,#ff6400 41px,#ffae00 64px,#feed00 77px,#eeff09 80px,#83ff73 99px,#16ffe1 125px,#02e8f4 130px,#00d8ff 133px,#00f 180px,#00f 183px,#0000ed 187px,#000080 208px,#000080 290px)"></i>
<i style="background:linear-gradient(90deg,#ff3800 6px,#ff6400 41px,#ffae00 64px,#feed00 77px,#eeff09 80px,#7dff7a 100px,#16ffe1 125px,#00e4f8 130px,#00d8ff 133px,#00f 180px,#00f 183px,#0000f6 185px,#000080 208px,#000080 290px)"></i>
<i style="background:linear-gradient(90deg,#ff3800 6px,#ff6800 43px,#ffae00 64px,#feed00 77px,#eeff09 80px,#73ff83 102px,#16ffe1 125px,#02e8f4 129px,#00d4ff 133px,#00f 179px,#00f 183px,#000080 207px,#000080 290px)"></i>
<i style="background:linear-gradient(90deg,#ff3800 6px,#ff6800 43px,#ffae00 64px,#feed00 77px,#eeff09 80px,#73ff83 102px,#19ffde 124px,#02e8f4 129px,#00d8ff 132px,#00f 179px,#00f 182px,#0000ed 186px,#000080 207px,#000080 290px)"></i>
<i style="background:linear-gradient(90deg,#ff3400 6px,#ff6f00 46px,#ffb600 66px,#feed00 77px,#eeff09 80px,#73ff83 102px,#16ffe1 124px,#02e8f4 129px,#00d8ff 132px,#00f 179px,#00f 182px,#0000ed 186px,#000080 207px,#000080 290px)"></i>
<i style="background:linear-gradient(90deg,#ff3400 6px,#ff6400 42px,#ffae00 64px,#feed00 77px,#eeff09 80px,#80ff77 99px,#16ffe1 124px,#00e4f8 129px,#00d8ff 132px,#00f 179px,#00f 182px,#0000f6 184px,#000080 207px,#000080 290px)"></i>
<i style="background:linear-gradient(90deg,#ff3400 6px,#ff6400 42px,#ffae00 64px,#feed00 77px,#eeff09 80px,#80ff77 99px,#16ffe1 124px,#00e4f8 129px,#00d4ff 132px,#00f 178px,#00f 182px,#000080 206px,#000080 290px)"></i>
<i style="background:linear-gradient(90deg,#ff3400 6px,#ff6800 44px,#ffb600 66px,#feed00 77px,#eeff09 80px,#80ff77 99px,#16ffe1 124px,#02e8f4 128px,#00d8ff 131px,#00f 178px,#00f 181px,#0000ed 185px,#000080 206px,#000080 290px)"></i>
<i style="background:linear-gradient(90deg,#ff3400 6px,#ff6800 44px,#ffb600 66px,#feed00 77px,#eeff09 80px,#7aff7d 100px,#19ffde 123px,#02e8f4 128px,#00d8ff 131px,#00f 178px,#00f 181px,#0000ed 185px,#000080 206px,#000080 290px)"></i>
<i style="background:linear-gradient(90deg,#ff3000 6px,#ff6800 44px,#ffb600 66px,#feed00 77px,#eeff09 80px,#7aff7d 100px,#16ffe1 123px,#02e8f4 128px,#00d8ff 131px,#00f 177px,#00f 181px,#0000f6 183px,#000080 205px,#000080 290px)"></i>
<i style="background:linear-gradient(90deg,#ff3000 6px,#ff6400 43px,#ffb600 66px,#feed00 77px,#ebff0c 80px,#83ff73 98px,#16ffe1 123px,#00e4f8 128px,#00d4ff 131px,#00f 177px,#00f 180px,#0000ed 184px,#000080 205px,#000080 290px)"></i>
<i style="background:linear-gradient(90deg,#ff3000 6px,#ff6400 43px,#ffb200 65px,#feed00 77px,#ebff0c 80px,#73ff83 101px,#16ffe1 123px,#02e8f4 127px,#00d8ff 130px,#00f 177px,#00f 180px,#0000f6 182px,#000080 205px,#000080 290px)"></i>
<i style="background:linear-gradient(90deg,#ff3000 6px,#ff6400 43px,#ffb200 65px,#ffea00 76px,#f8f500 78px,#ebff0c 80px,#7dff7a 99px,#19ffde 122px,#02e8f4 127px,#00d8ff 130px,#00f 176px,#00f 180px,#000080 204px,#000080 290px)"></i>
<i style="background:linear-gradient(90deg,#ff3000 6px,#ff6800 45px,#ffb200 65px,#ffea00 76px,#f8f500 78px,#ebff0c 80px,#7dff7a 99px,#16ffe1 122px,#02e8f4 127px,#00d8ff 130px,#00f 176px,#00f 179px,#0000ed 183px,#000080 203px,#000080 290px)"></i>
<i style="background:linear-gradient(90deg,#ff3000 6px,#ff6800 45px,#ffb200 65px,#ffea00 76px,#ebff0c 80px,#77ff80 100px,#16ffe1 122px,#00e4f8 127px,#00d4ff 130px,#00f 175px,#00f 179px,#000080 203px,#000080 290px)"></i>
<i style="background:linear-gradient(90deg,#ff2d00 6px,#ff6400 44px,#ff9c00 60px,#ffea00 76px,#eeff09 79px,#80ff77 98px,#16ffe1 122px,#02e8f4 126px,#00d8ff 129px,#00f 175px,#00f 178px,#0000ed 182px,#000080 202px,#000080 290px)"></i>
<i style="background:linear-gradient(90deg,#ff2d00 6px,#ff5900 38px,#ff6c00 47px,#ff9f00 61px,#feed00 76px,#eeff09 79px,#70ff87 101px,#19ffde 121px,#02e8f4 126px,#00d8ff 129px,#00f 174px,#00f 178px,#000080 202px,#000080 290px)"></i>
<i style="background:linear-gradient(90deg,#ff2900 6px,#ff6800 46px,#ff9f00 61px,#feed00 76px,#eeff09 79px,#7aff7d 99px,#16ffe1 121px,#00e4f8 126px,#00d4ff 129px,#00f 174px,#00f 177px,#0000ed 181px,#000080 201px,#000080 290px)"></i>
<i style="background:linear-gradient(90deg,#ff2900 6px,#ff3b00 22px,#ff6400 45px,#ff9f00 61px,#feed00 76px,#eeff09 79px,#73ff83 100px,#16ffe1 121px,#02e8f4 125px,#00d8ff 128px,#00f 173px,#00f 177px,#000080 201px,#000080 290px)"></i>
<i style="background:linear-gradient(90deg,#ff2900 6px,#ff3400 19px,#ff6400 45px,#ff9f00 61px,#feed00 76px,#eeff09 79px,#7dff7a 98px,#19ffde 120px,#02e8f4 125px,#00d8ff 128px,#00f 173px,#00f 176px,#0000f6 178px,#000080 200px,#000080 290px)"></i>
<i style="background:linear-gradient(90deg,#ff2500 6px,#ff3000 19px,#ff6000 44px,#ff9f00 61px,#feed00 76px,#ebff0c 79px,#77ff80 99px,#16ffe1 120px,#00e4f8 125px,#00d8ff 127px,#00f 172px,#00f 176px,#000080 199px,#000080 290px)"></i>
<i style="background:linear-gradient(90deg,#ff2500 6px,#ff2900 16px,#ff6800 47px,#ff9f00 61px,#ffea00 75px,#f8f500 77px,#ebff0c 79px,#80ff77 97px,#16ffe1 120px,#02e8f4 124px,#00d8ff 127px,#00f 172px,#00f 175px,#0000f6 177px,#000080 199px,#000080 290px)"></i>
<i style="background:linear-gradient(90deg,#ff2500 6px,#ff2d00 20px,#ff6400 46px,#ff9f00 61px,#ffea00 75px,#ebff0c 79px,#7aff7d 98px,#19ffde 119px,#00e4f8 124px,#00d4ff 127px,#00f 172px,#00f 175px,#000080 198px,#000080 290px)"></i>
<i style="background:linear-gradient(90deg,#f20 6px,#ff2900 19px,#ff6000 45px,#ff9f00 61px,#ffea00 75px,#eeff09 78px,#73ff83 99px,#16ffe1 119px,#02e8f4 123px,#00d8ff 126px,#00f 171px,#00f 174px,#0000f6 176px,#000080 197px,#000080 290px)"></i>
<i style="background:linear-gradient(90deg,#f20 6px,#ff2900 20px,#ff6000 45px,#ffa300 62px,#feed00 75px,#eeff09 78px,#7dff7a 97px,#16ffe1 119px,#02e8f4 123px,#00d4ff 126px,#00f 170px,#00f 173px,#0000ed 177px,#000080 197px,#000080 290px)"></i>
<i style="background:linear-gradient(90deg,#f20 6px,#ff2900 21px,#ff5d00 44px,#ffa300 62px,#feed00 75px,#eeff09 78px,#77ff80 98px,#16ffe1 118px,#00e4f8 123px,#00d8ff 125px,#00f 170px,#00f 173px,#000080 196px,#000080 290px)"></i>
<i style="background:linear-gradient(90deg,#ff1e00 6px,#ff2500 20px,#ff6800 48px,#ffa300 62px,#feed00 75px,#eeff09 78px,#80ff77 96px,#16ffe1 118px,#02e8f4 122px,#00d8ff 125px,#00f 169px,#00f 172px,#0000f6 174px,#000080 195px,#000080 290px)"></i>
<i style="background:linear-gradient(90deg,#ff1e00 6px,#ff2500 21px,#ff6400 47px,#ffa300 62px,#feed00 75px,#ebff0c 78px,#7aff7d 97px,#19ffde 117px,#00e4f8 122px,#00d8ff 124px,#00f 168px,#00f 171px,#0000ed 175px,#000096 190px,#000080 195px,#000080 290px)"></i>
<i style="background:linear-gradient(90deg,#ff1e00 6px,#ff2500 22px,#ff6000 46px,#ff9f00 61px,#feed00 75px,#ebff0c 78px,#8aff6d 94px,#16ffe1 117px,#02e8f4 121px,#00d8ff 124px,#0084ff 140px,#00f 168px,#00f 171px,#000080 194px,#000080 290px)"></i>
<i style="background:linear-gradient(90deg,#ff1a00 6px,#ff2500 23px,#ff6000 46px,#ff9f00 61px,#ffea00 74px,#f8f500 76px,#ebff0c 78px,#83ff73 95px,#19ffde 116px,#00e4f8 121px,#00d8ff 123px,#00f 167px,#00f 170px,#0000f6 172px,#000080 193px,#000080 290px)"></i>
<i style="background:linear-gradient(90deg,#ff1a00 6px,#ff2500 24px,#ff6000 46px,#ff9f00 61px,#ffea00 74px,#ebff0c 78px,#7dff7a 96px,#16ffe1 116px,#02e8f4 120px,#00d8ff 123px,#00f 166px,#00f 169px,#0000ed 173px,#00009b 187px,#000080 193px,#000080 290px)"></i>
<i style="background:linear-gradient(90deg,#ff1a00 6px,#ff2500 25px,#ff5900 44px,#ff9f00 61px,#ffea00 74px,#eeff09 77px,#77ff80 97px,#16ffe1 116px,#00e4f8 120px,#00d8ff 122px,#00f 165px,#00f 169px,#000080 192px,#000080 290px)"></i>
<i style="background:linear-gradient(90deg,#ff1600 6px,#ff2500 26px,#f50 43px,#ff9f00 61px,#ffea00 74px,#eeff09 77px,#66ff90 100px,#19ffde 115px,#02e8f4 119px,#00d4ff 122px,#00f 165px,#00f 168px,#000080 191px,#000080 290px)"></i>
<i style="background:linear-gradient(90deg,#ff1600 6px,#ff2500 26px,#ff3b00 35px,#ff7a00 53px,#ff9f00 61px,#feed00 74px,#eeff09 77px,#8dff6a 93px,#16ffe1 115px,#00e4f8 119px,#00d8ff 121px,#00f 164px,#00f 167px,#0000f6 169px,#000080 190px,#000080 290px)"></i>
<i style="background:linear-gradient(90deg,#ff1600 6px,#ff2500 27px,#ff3000 32px,#ff7a00 53px,#ff9f00 61px,#ffea00 73px,#f8f500 75px,#ebff0c 77px,#16ffe1 115px,#02e8f4 118px,#00d8ff 121px,#00f 163px,#00f 166px,#0000ed 170px,#000096 185px,#000080 190px,#000080 290px)"></i>
<i style="background:linear-gradient(90deg,#ff1300 6px,#ff2500 28px,#ff3b00 36px,#ff6000 47px,#ff9f00 61px,#feed00 73px,#eeff09 76px,#19ffde 114px,#02e8f4 118px,#00d4ff 121px,#00f 163px,#00f 166px,#0000f6 168px,#000080 189px,#000080 290px)"></i>
<i style="background:linear-gradient(90deg,#ff1300 6px,#ff2500 28px,#ff3000 33px,#ff7a00 53px,#ffb200 64px,#feed00 73px,#eeff09 76px,#19ffde 114px,#00e4f8 118px,#00d8ff 120px,#00f 162px,#00f 165px,#0000ed 169px,#000080 188px,#000080 290px)"></i>
<i style="background:linear-gradient(90deg,#ff1300 6px,#ff2500 29px,#ff3000 33px,#ff5d00 46px,#ff8900 56px,#ffae00 63px,#feed00 72px,#eeff09 75px,#7aff7d 98px,#19ffde 114px,#00e4f8 118px,#00d4ff 120px,#00f 162px,#00f 165px,#0000f6 167px,#000096 183px,#000080 188px,#000080 290px)"></i>
<i style="background:linear-gradient(90deg,#ff1300 6px,#ff2900 31px,#ff7300 51px,#ff9f00 60px,#ffea00 71px,#ebff0c 75px,#73ff83 100px,#19ffde 114px,#00e4f8 118px,#00d4ff 120px,#00f 161px,#00f 164px,#0000ed 168px,#000080 187px,#000080 290px)"></i>
<i style="background:linear-gradient(90deg,#fa0f00 6px,#ff2500 29px,#ff3400 35px,#ff6f00 50px,#ff9c00 59px,#ffea00 70px,#ebff0c 73px,#a0ff56 88px,#73ff83 101px,#19ffde 114px,#02e8f4 117px,#00d8ff 119px,#00f 161px,#0000fa 165px,#000080 186px,#000080 290px)"></i>
<i style="background:linear-gradient(90deg,#fa0f00 6px,#ff2500 29px,#ff3000 34px,#ff8900 55px,#ffab00 61px,#ffea00 69px,#e7ff0f 72px,#baff3c 80px,#77ff80 101px,#19ffde 114px,#02e8f4 117px,#00d8ff 119px,#00b8ff 124px,#00f 160px,#00f 163px,#0000ed 167px,#0000d1 171px,#000080 186px,#000080 290px)"></i>
<i style="background:linear-gradient(90deg,#fa0f00 6px,#ff2500 30px,#ff3000 34px,#ff8600 54px,#ffa700 60px,#feed00 69px,#ebff0c 71px,#caff2c 75px,#83ff73 99px,#66ff90 104px,#19ffde 114px,#00e4f8 117px,#00d4ff 119px,#00f 160px,#0000fa 164px,#000080 185px,#000080 290px)"></i>
<i style="background:linear-gradient(90deg,#fa0f00 6px,#ff2500 30px,#ff3000 34px,#ff6400 47px,#ff8d00 55px,#ffa300 59px,#feed00 69px,#eeff09 71px,#d1ff26 75px,#87ff70 99px,#63ff94 105px,#19ffde 114px,#00e4f8 117px,#00d4ff 119px,#0058ff 142px,#00f 160px,#00f 162px,#0000ed 166px,#0000a8 177px,#000080 185px,#000080 290px)"></i>
<i style="background:linear-gradient(90deg,#fa0f00 6px,#ff2500 30px,#ff3000 34px,#ff6f00 49px,#ff9400 56px,#feed00 69px,#ebff0c 72px,#caff2c 79px,#87ff70 100px,#70ff87 104px,#19ffde 114px,#00e4f8 117px,#00d4ff 119px,#00f 159px,#00f 162px,#0000f6 164px,#000080 184px,#000080 290px)"></i>
<i style="background:linear-gradient(90deg,#fa0f00 6px,#ff2500 30px,#f50 43px,#f70 50px,#ffa300 58px,#feed00 69px,#eeff09 72px,#90ff66 99px,#6dff8a 105px,#1cffdb 114px,#02e8f4 117px,#00d4ff 119px,#00f 159px,#00f 162px,#0000f6 164px,#000080 184px,#000080 290px)"></i>
<i style="background:linear-gradient(90deg,#fa0f00 6px,#f20 27px,#ff3000 33px,#ff7e00 51px,#ffe600 67px,#feed00 69px,#eeff09 73px,#baff3c 90px,#97ff60 99px,#7dff7a 104px,#19ffde 115px,#06ecf1 117px,#00d8ff 119px,#00bcff 123px,#00f 159px,#00f 162px,#0000f6 164px,#000080 184px,#000080 290px)"></i>
<i style="background:linear-gradient(90deg,#fa0f00 6px,#f20 27px,#ff3000 33px,#ff6c00 47px,#ffa300 57px,#ffe200 66px,#feed00 69px,#eeff09 74px,#beff39 92px,#90ff66 102px,#70ff87 107px,#16ffe1 116px,#02e8f4 118px,#00d4ff 120px,#00f 160px,#00f 163px,#00008d 181px,#000080 184px,#000080 290px)"></i>
<i style="background:linear-gradient(90deg,#fa0f00 6px,#ff1a00 20px,#ff3000 33px,#ff7300 48px,#ffea00 67px,#fbf100 70px,#eeff09 74px,#caff2c 91px,#adff49 98px,#7dff7a 107px,#19ffde 117px,#06ecf1 119px,#00d4ff 121px,#00f 161px,#00f 164px,#000080 184px,#000080 290px)"></i>
<i style="background:linear-gradient(90deg,#fa0f00 6px,#ff2500 29px,#ff3000 33px,#ff8d00 52px,#ffe200 65px,#f4f802 73px,#eeff09 75px,#ceff29 92px,#beff39 97px,#83ff73 108px,#4dffaa 114px,#1fffd7 118px,#13fce4 119px,#00e4f8 121px,#00d8ff 122px,#00bcff 126px,#00f 162px,#00f 164px,#0000f1 167px,#000080 184px,#000080 290px)"></i>
<i style="background:linear-gradient(90deg,#fa0f00 6px,#ff1e00 23px,#ff3000 32px,#ff6400 44px,#ffd300 62px,#fbf100 69px,#eeff09 76px,#d1ff26 93px,#c4ff33 98px,#83ff73 110px,#56ffa0 115px,#1cffdb 120px,#06ecf1 122px,#00d8ff 124px,#00c0ff 127px,#00f 163px,#0000f6 167px,#00008d 182px,#000080 185px,#000080 290px)"></i>
<i style="background:linear-gradient(90deg,#fa0f00 6px,#f20 26px,#ff3000 32px,#ff5d00 42px,#ffea00 66px,#eeff09 77px,#d7ff1f 92px,#c1ff36 101px,#97ff60 109px,#6dff8a 115px,#19ffde 122px,#02e8f4 124px,#00d4ff 126px,#00f 164px,#0000f6 168px,#000080 185px,#000080 290px)"></i>
<i style="background:linear-gradient(90deg,#fa0f00 6px,#ff1600 16px,#ff3000 31px,#ff6000 42px,#ffe600 65px,#f8f500 74px,#eeff09 79px,#d7ff1f 95px,#beff39 104px,#77ff80 116px,#19ffde 124px,#06ecf1 126px,#00d4ff 128px,#00f 165px,#0000f6 169px,#000096 182px,#000080 186px,#000080 290px)"></i>
<i style="background:linear-gradient(90deg,#fa0f00 6px,#ff2500 27px,#ff6f00 44px,#fc0 59px,#ffe600 65px,#f4f802 80px,#eeff09 83px,#dbff1c 96px,#c7ff30 104px,#90ff66 114px,#77ff80 118px,#1cffdb 126px,#06ecf1 128px,#00d4ff 130px,#00f 166px,#0000f6 170px,#000080 186px,#000080 290px)"></i>
<i style="background:linear-gradient(90deg,#f60b00 6px,#ff1300 11px,#ff3000 30px,#ff6400 41px,#ffe200 63px,#ffe600 72px,#f8f500 81px,#eeff09 86px,#dbff1c 99px,#beff39 108px,#77ff80 120px,#1cffdb 128px,#06ecf1 130px,#00d8ff 132px,#00b8ff 136px,#007cff 147px,#00f 167px,#0000f6 171px,#000080 187px,#000080 290px)"></i>
<i style="background:linear-gradient(90deg,#f60b00 6px,#ff1300 11px,#ff1e00 21px,#ff3000 29px,#ff6400 40px,#ffc100 56px,#ffe200 63px,#feed00 80px,#eeff09 90px,#e1ff16 99px,#c7ff30 108px,#90ff66 118px,#77ff80 122px,#1cffdb 130px,#06ecf1 132px,#00d8ff 134px,#00b8ff 138px,#00f 169px,#00f 171px,#000080 188px,#000080 290px)"></i>
<i style="background:linear-gradient(90deg,#f60b00 6px,#ff1300 11px,#ff2500 25px,#ff3000 28px,#ff5900 37px,#ffab00 51px,#ffe200 64px,#feed00 84px,#eeff09 96px,#caff2c 109px,#97ff60 119px,#77ff80 124px,#1cffdb 132px,#13fce4 133px,#06ecf1 134px,#00d8ff 136px,#00b8ff 140px,#00f 170px,#00f 172px,#00009f 184px,#000080 189px,#000080 290px)"></i>
<i style="background:linear-gradient(90deg,#f60b00 6px,#ff1300 11px,#ff2500 24px,#ff5900 36px,#ffae00 51px,#ffe200 65px,#ffe200 80px,#f8f500 95px,#eeff09 99px,#ceff29 110px,#90ff66 122px,#6aff8d 127px,#1cffdb 134px,#13fce4 135px,#06ecf1 136px,#00d8ff 138px,#00b8ff 142px,#00f 171px,#00f 173px,#00009f 185px,#000080 190px,#000080 290px)"></i>
<i style="background:linear-gradient(90deg,#f60b00 6px,#ff1300 11px,#ff2900 25px,#ffb200 51px,#ffdb00 63px,#ffe200 67px,#ffdb00 85px,#feed00 96px,#eeff09 102px,#d7ff1f 109px,#94ff63 123px,#73ff83 128px,#1cffdb 136px,#06ecf1 138px,#00d8ff 140px,#00f 172px,#00f 174px,#00009f 186px,#000080 191px,#000080 290px)"></i>
<i style="background:linear-gradient(90deg,#f60b00 6px,#ff1300 10px,#ff2500 23px,#ff4e00 32px,#ff9f00 46px,#ffde00 64px,#ffe200 68px,#ffd300 74px,#ffd000 85px,#ffdb00 93px,#feed00 99px,#f4f802 102px,#ebff0c 104px,#ceff29 113px,#87ff70 127px,#66ff90 131px,#19ffde 138px,#06ecf1 140px,#00d4ff 142px,#00f 173px,#0000fa 176px,#000089 190px,#000080 192px,#000080 290px)"></i>
<i style="background:linear-gradient(90deg,#f60b00 6px,#ff1300 10px,#ff2500 22px,#ff3000 25px,#ff9f00 45px,#ffdb00 62px,#ffe200 67px,#ffc800 76px,#ffc400 86px,#ffd300 93px,#feed00 100px,#eeff09 105px,#ceff29 114px,#94ff63 126px,#73ff83 131px,#16ffe1 140px,#00e4f8 142px,#00d0ff 144px,#00f 174px,#00f 176px,#0000ed 179px,#000092 190px,#000080 193px,#000080 290px)"></i>
<i style="background:linear-gradient(90deg,#fa0f00 6px,#ff2500 21px,#ff4300 28px,#ff9f00 44px,#ffde00 63px,#ffde00 68px,#ffbd00 79px,#ffbd00 87px,#feed00 101px,#f4f802 104px,#ebff0c 106px,#ceff29 115px,#8aff6d 129px,#6dff8a 133px,#19ffde 141px,#06ecf1 143px,#00d4ff 145px,#001cff 171px,#00f 176px,#0000f6 179px,#000080 194px,#000080 290px)"></i>
<i style="background:linear-gradient(90deg,#fa0f00 6px,#ff1e00 17px,#ff3000 23px,#ff9f00 43px,#ffde00 62px,#ffe200 65px,#ffc400 75px,#ffbd00 84px,#ffc400 89px,#feed00 101px,#eeff09 106px,#d1ff26 115px,#8aff6d 130px,#77ff80 133px,#1cffdb 142px,#13fce4 143px,#00e4f8 145px,#00d8ff 146px,#0008ff 175px,#00f 177px,#0000f6 180px,#000080 195px,#000080 290px)"></i>
<i style="background:linear-gradient(90deg,#fa0f00 6px,#ff2900 21px,#ff9f00 42px,#ffd700 59px,#ffe200 64px,#ffc800 75px,#ffc800 85px,#feed00 100px,#eeff09 105px,#caff2c 117px,#94ff63 129px,#6dff8a 135px,#1cffdb 143px,#13fce4 144px,#00e4f8 146px,#00dcfe 147px,#00b8ff 151px,#00f 178px,#00f 180px,#000080 196px,#000080 290px)"></i>
<i style="background:linear-gradient(90deg,#fa0f00 6px,#ff2500 19px,#ff3b00 24px,#ffae00 44px,#ffd000 55px,#ffe200 63px,#ffd300 72px,#ffd300 85px,#fbf100 100px,#eeff09 105px,#caff2c 117px,#97ff60 129px,#73ff83 135px,#1cffdb 144px,#13fce4 145px,#00e4f8 147px,#00dcfe 148px,#009cff 156px,#00f 179px,#00f 181px,#000080 198px,#000080 290px)"></i>
<i style="background:linear-gradient(90deg,#ff1300 6px,#ff2500 18px,#ff3000 21px,#ffab00 42px,#ffdb00 56px,#ffe200 61px,#ffde00 85px,#feed00 96px,#f4f802 101px,#eeff09 103px,#deff19 111px,#beff39 121px,#94ff63 130px,#70ff87 136px,#1cffdb 145px,#13fce4 146px,#00e4f8 148px,#00dcfe 149px,#00b8ff 153px,#0078ff 162px,#00f 180px,#00f 182px,#000080 199px,#000080 290px)"></i>
<i style="background:linear-gradient(90deg,#ff1300 6px,#f20 16px,#ff3400 21px,#ffab00 41px,#ffdb00 53px,#ffe600 60px,#ffea00 88px,#f4f802 99px,#eeff09 101px,#d7ff1f 113px,#beff39 121px,#9aff5d 129px,#6dff8a 137px,#19ffde 146px,#06ecf1 148px,#00d8ff 150px,#00c4ff 152px,#0054ff 168px,#00f 181px,#0000fa 184px,#000096 197px,#000080 201px,#000080 290px)"></i>
<i style="background:linear-gradient(90deg,#ff1300 6px,#ff2d00 19px,#ffae00 41px,#ffe200 54px,#fbf100 86px,#f4f802 95px,#e7ff0f 104px,#c1ff36 120px,#87ff70 133px,#6dff8a 137px,#19ffde 146px,#00e4f8 149px,#00d8ff 150px,#009cff 158px,#00f 182px,#0000fa 185px,#000080 202px,#000080 290px)"></i>
<i style="background:linear-gradient(90deg,#ff1600 6px,#f20 15px,#ff3400 20px,#ffb200 41px,#ffe200 52px,#feed00 64px,#f4f802 73px,#f4f802 85px,#e7ff0f 101px,#d1ff26 114px,#97ff60 129px,#6aff8d 137px,#16ffe1 146px,#00e0fb 149px,#00d8ff 150px,#0090ff 160px,#00f 183px,#0000fa 186px,#000080 203px,#000080 290px)"></i>
<i style="background:linear-gradient(90deg,#ff1a00 6px,#f20 14px,#ff3800 20px,#ffb900 42px,#ffea00 53px,#eeff09 71px,#ebff0c 90px,#d7ff1f 109px,#beff39 119px,#83ff73 132px,#6aff8d 136px,#19ffde 145px,#00e4f8 148px,#00d0ff 150px,#00f 183px,#00f 186px,#000080 204px,#000080 290px)"></i>
<i style="background:linear-gradient(90deg,#ff1e00 6px,#ff2d00 16px,#ffc800 44px,#f8f500 56px,#eeff09 64px,#e1ff16 95px,#ceff29 112px,#87ff70 130px,#5dff9a 136px,#16ffe1 144px,#00e0fb 147px,#00d8ff 148px,#00b8ff 152px,#00f 184px,#0000fa 187px,#000096 201px,#000080 205px,#000080 290px)"></i>
<i style="background:linear-gradient(90deg,#ff2500 6px,#ff3b00 16px,#ff7a00 29px,#ffd000 44px,#feed00 51px,#f1fc06 57px,#e1ff16 70px,#dbff1c 94px,#caff2c 110px,#80ff77 129px,#5dff9a 134px,#16ffe1 142px,#00e0fb 145px,#00d8ff 146px,#00acff 151px,#0094ff 155px,#00f 183px,#0000f6 187px,#000080 205px,#000080 290px)"></i>
<i style="background:linear-gradient(90deg,#ff3b00 6px,#ff3f00 9px,#ff8900 29px,#ffea00 47px,#eeff09 55px,#deff19 66px,#d1ff26 98px,#c4ff33 107px,#7dff7a 126px,#5dff9a 131px,#19ffde 139px,#13fce4 140px,#00dcfe 143px,#00b4ff 147px,#08f 153px,#00f 179px,#0000fa 183px,#000096 199px,#000080 204px,#000080 290px)"></i>
<i style="background:linear-gradient(90deg,#ff6400 6px,#ff9f00 28px,#ffea00 43px,#eeff09 49px,#d4ff23 69px,#ceff29 89px,#c1ff36 99px,#83ff73 119px,#6aff8d 124px,#16ffe1 136px,#00e4f8 139px,#00d8ff 140px,#0080ff 150px,#0048ff 162px,#00f 175px,#00f 178px,#0000f6 180px,#000092 196px,#000080 201px,#000080 290px)"></i>
<i style="background:linear-gradient(90deg,#ff9f00 6px,#ffc800 26px,#feed00 35px,#eeff09 38px,#d4ff23 56px,#baff3c 86px,#9dff5a 99px,#73ff83 113px,#53ffa4 120px,#16ffe1 130px,#02e8f4 133px,#00d8ff 135px,#0098ff 142px,#0058ff 151px,#00f 172px,#0000f6 176px,#00008d 193px,#000080 197px,#000080 290px)"></i>
<i style="background:linear-gradient(90deg,#ebff0c 6px,#d7ff1f 20px,#a7ff50 39px,#b4ff43 45px,#b4ff43 49px,#90ff66 79px,#5dff9a 101px,#19ffde 119px,#02e8f4 123px,#00d8ff 126px,#0084ff 137px,#003cff 149px,#001cff 157px,#00f 167px,#00f 170px,#0000f6 172px,#00009f 186px,#000080 193px,#000080 290px)"></i>
<i style="background:linear-gradient(90deg,#29ffce 6px,#2cffca 15px,#1fffd7 20px,#16ffe1 36px,#1fffd7 46px,#26ffd1 70px,#13fce4 90px,#02e8f4 98px,#00d8ff 105px,#00c0ff 111px,#04f 135px,#00f 153px,#00f 161px,#0000e8 170px,#00009f 182px,#000080 189px,#000080 290px)"></i>
<i style="background:linear-gradient(90deg,#00a4ff 6px,#00c4ff 10px,#00c8ff 15px,#00b4ff 20px,#00b0ff 24px,#0094ff 30px,#0094ff 32px,#007cff 36px,#0064ff 44px,#0050ff 47px,#004cff 52px,#0038ff 56px,#0038ff 63px,#0030ff 65px,#0038ff 88px,#0034ff 102px,#0028ff 109px,#0008ff 117px,#00f 121px,#00f 135px,#0000d6 155px,#0000c8 168px,#00b 173px,#000080 185px,#000080 290px)"></i>
<i style="background:linear-gradient(90deg,#008cff 6px,#00c4ff 10px,#00d4ff 13px,#0cf 33px,#00bcff 42px,#00a4ff 47px,#00a0ff 51px,#0080ff 55px,#0070ff 61px,#0040ff 66px,#0030ff 70px,#0020ff 72px,#0004ff 74px,#00f 75px,#00f 79px,#0000c8 84px,#0000bf 88px,#000096 93px,#00008d 99px,#000080 101px,#000080 142px,#000092 158px,#000092 169px,#000080 177px,#000080 290px)"></i>
<i style="background:linear-gradient(90deg,#0080ff 6px,#08f 7px,#00bcff 10px,#00d4ff 13px,#00d0ff 61px,#00c4ff 70px,#00b0ff 75px,#00acff 79px,#08f 84px,#007cff 88px,#0048ff 93px,#0038ff 98px,#001cff 100px,#0004ff 101px,#0000fa 102px,#000089 105px,#000080 106px,#000080 290px)"></i>
<i style="background:linear-gradient(90deg,#0078ff 6px,#0080ff 7px,#00c4ff 11px,#00d4ff 14px,#00d4ff 83px,#0cf 97px,#00c0ff 99px,#00b4ff 100px,#0098ff 101px,#006cff 102px,#00f 104px,#0000a4 106px,#000089 107px,#000080 108px,#000080 290px)"></i>
<i style="background:linear-gradient(90deg,#0074ff 6px,#08f 8px,#00bcff 11px,#00d4ff 14px,#00d4ff 95px,#0cf 97px,#00c0ff 98px,#00a8ff 99px,#0080ff 100px,#000cff 102px,#0000e3 103px,#0000b2 104px,#000096 105px,#000080 107px,#000080 290px)"></i>
<i style="background:linear-gradient(90deg,#0074ff 6px,#0080ff 8px,#00c4ff 12px,#00d4ff 15px,#00d4ff 94px,#00c8ff 96px,#00b8ff 97px,#0098ff 98px,#0068ff 99px,#0028ff 100px,#0000fa 101px,#0000c4 102px,#00009f 103px,#000089 104px,#000080 105px,#000080 290px)"></i>
<i style="background:linear-gradient(90deg,#0070ff 6px,#007cff 8px,#00bcff 12px,#00d4ff 15px,#00d4ff 93px,#00c8ff 95px,#00b0ff 96px,#008cff 97px,#0018ff 99px,#0000e8 100px,#0000b6 101px,#000096 102px,#000084 103px,#000080 104px,#000080 290px)"></i>
<i style="background:linear-gradient(90deg,#0070ff 6px,#007cff 8px,#00bcff 12px,#00d4ff 15px,#00d4ff 92px,#0cf 94px,#00c0ff 95px,#00a0ff 96px,#0074ff 97px,#0034ff 98px,#00f 99px,#0000c8 100px,#00009f 101px,#000089 102px,#000080 103px,#000080 290px)"></i>
</div></div>
<div class="cb"></div>
<svg width="1851" height="1106" viewBox="0 0 1851 1106">
<defs>
<clipPath id="c0"><rect x="165.8" y="69.7" width="284.4" height="908.8"/></clipPath>
<clipPath id="c1"><rect x="578.2" y="69.7" width="284.4" height="908.8"/></clipPath>
<clipPath id="c2"><rect x="990.5" y="69.7" width="284.4" height="908.8"/></clipPath>
<clipPath id="c3"><rect x="1403.3" y="69.7" width="284.4" height="908.8"/></clipPath>
</defs>
<g clip-path="url(#c0)">
<g fill="none" stroke="#fff" stroke-opacity=".9" stroke-width="2.4" stroke-linecap="round" stroke-linejoin="round">
<path d="M166.5,102.8 173.1,102.8 179.6,102.7 186.1,102.7 192.9,102.7 200.0,102.6 207.7,102.5 216.0,102.3 224.4,102.2 232.5,102.0 240.0,101.8 246.6,101.6 252.7,101.4 258.5,101.1 264.2,100.9 270.0,100.6 276.0,100.2 282.0,99.8 288.1,99.4 294.1,99.0 300.0,98.7 306.1,98.5 312.3,98.3 318.4,98.2 324.0,98.2 329.0,98.2 333.0,98.3 336.2,98.4 339.1,98.5 341.9,98.7 345.0,99.0 348.3,99.3 351.6,99.8 355.1,100.2 358.8,100.7 363.0,101.0 368.0,101.2 373.7,101.4 379.6,101.6 385.2,101.6 390.0,101.6 393.9,101.5 397.3,101.3 400.3,101.0 402.8,100.7 405.0,100.3 406.8,99.8 408.0,99.2 409.0,98.6 409.7,98.2 410.5,98.0 411.3,98.1 412.1,98.5 412.6,99.0 413.0,99.7 413.0,100.7 412.8,101.8 412.4,103.0 411.6,104.5 410.4,106.3 408.5,108.8 405.8,112.1 402.2,116.2 398.3,120.6 394.2,124.9 390.4,128.7 386.9,131.9 383.6,134.8 380.2,137.6 376.5,140.3 372.3,143.2 367.5,146.3 362.1,149.6 356.5,152.8 350.8,155.9 345.2,158.6 339.7,160.9 334.2,162.7 328.7,164.5 323.3,166.3 318.3,168.4 313.5,170.8 308.8,173.4 304.4,176.2 300.3,179.1 296.8,182.2 293.8,185.5 291.3,189.1 289.2,192.8 287.5,196.6 286.0,200.6 284.8,204.6 284.1,208.7 283.5,213.0 283.2,217.4 283.0,222.2 282.8,227.0 282.8,231.9 282.9,237.1 283.3,243.0 283.9,249.8 284.8,257.9 285.9,267.0 287.2,276.6 288.8,286.5 290.6,296.0 292.8,305.5 295.3,315.3 298.0,324.9 300.6,334.0 302.9,342.0 304.7,348.7 306.3,354.3 307.8,359.3 309.2,364.3 310.6,369.7 312.1,375.6 313.6,381.6 315.1,387.7 316.6,393.8 318.0,400.0 319.4,406.2 320.9,412.6 322.3,418.9 323.5,425.2 324.5,431.5 325.1,437.7 325.5,443.8 325.6,450.0 325.8,456.1 326.0,462.2"/>
<path d="M328.1,526.8 328.3,538.4 328.6,550.0 328.8,561.6 329.0,573.3 329.0,585.2 328.9,597.6 328.6,610.5 328.3,623.3 327.9,635.5 327.5,646.7 327.0,656.5 326.4,665.2 325.8,673.4 325.1,681.5 324.5,690.0 323.9,699.0 323.4,708.2 322.9,717.5 322.2,726.7 321.4,736.0 320.4,745.5 319.3,755.2 318.0,764.8 316.7,773.9 315.2,782.2 313.6,789.3 311.9,795.6 310.0,801.4 308.1,807.1 306.0,813.0 303.8,819.2 301.6,825.6 299.2,831.9 296.6,838.0 293.7,843.7 290.6,849.0 287.2,854.0 283.6,858.8 279.7,863.5 275.3,868.3 270.3,873.4 264.6,878.6 258.7,883.7 252.9,888.6 247.6,892.9 242.7,896.6 238.0,899.9 233.6,902.8 229.5,905.6 226.0,908.3 223.1,911.0 220.6,913.4 218.6,915.8 216.8,918.2 215.3,920.6 214.1,923.1 213.3,925.7 212.7,928.3 212.1,930.7 211.3,932.9 210.4,934.8 209.5,936.4 208.6,937.9 207.4,939.2 206.0,940.5 204.5,941.7 202.9,942.7 201.0,943.6 198.6,944.5 195.3,945.2 190.9,945.8 185.7,946.3 179.9,946.8 174.0,947.2 168.3,947.6"/>
<path d="M166.5,98.9 172.8,98.9 178.8,98.9 184.9,98.9 191.8,98.8 200.0,98.5 210.2,98.0 221.9,97.4 234.2,96.8 246.3,96.0 257.2,95.3 266.9,94.5 276.1,93.7 284.6,92.9 292.6,92.2 300.0,91.6 306.5,91.2 312.3,91.0 317.5,90.9 322.6,90.8 328.0,90.7"/>
<path d="M386.8,94.8 389.3,94.2 391.8,93.6 394.4,93.0 396.9,92.3 399.5,91.6 402.2,90.7 405.1,89.6 407.9,88.5 410.6,87.5 413.0,86.7 415.1,86.2 417.0,85.9 418.8,85.7 420.4,85.7 422.0,85.8 423.5,86.1 425.0,86.6 426.3,87.2 427.5,87.9 428.4,88.9 429.1,90.0 429.7,91.3 430.1,92.8 430.3,94.4 430.2,96.2 429.9,98.1 429.4,100.1 428.7,102.2 427.8,104.5 426.6,107.0 425.2,109.6 423.7,112.3 421.9,115.2 419.8,118.3 417.5,121.5 414.8,124.9 411.8,128.5 408.6,132.2 405.4,136.0 402.2,140.0 399.1,144.1 396.1,148.3 393.0,152.7 390.0,157.1 387.0,161.5 384.1,166.0 381.1,170.7 378.3,175.4 375.5,180.0 373.0,184.3 370.7,188.3 368.5,192.2 366.5,195.9 364.6,199.6 362.9,203.3 361.3,207.1 360.0,210.9 358.7,214.7 357.6,218.5 356.6,222.3 355.7,226.2 354.9,230.2 354.3,234.2 353.8,237.9 353.4,241.3 353.2,244.1 353.1,246.5 353.1,248.8 353.2,251.2 353.4,254.0 353.6,257.4 353.9,261.2 354.3,265.2 354.7,269.2 355.3,273.0 355.8,276.4 356.3,279.4 357.0,282.6 358.0,286.3 359.5,291.0 361.7,297.1 364.5,304.2 367.6,311.9 370.7,319.6 373.6,326.7 376.3,333.2 378.9,339.5 381.4,345.6 383.8,351.5 385.9,357.4 387.6,362.8 389.1,367.8 390.3,372.7 391.6,378.3 393.0,385.0 394.5,392.9 396.0,401.5 397.6,410.9 399.4,420.9 401.3,431.5 403.6,442.8 406.2,455.0 408.9,467.7 411.5,480.5 413.6,493.0 415.3,505.3 416.6,517.6 417.8,529.9 418.8,542.2 419.7,554.5 420.6,566.8 421.3,579.1 421.9,591.4 422.4,603.7 422.8,616.0 423.0,628.3 423.1,640.7 423.1,653.0 422.9,665.3 422.8,677.4 422.6,689.3 422.5,700.9 422.2,712.5 421.8,724.2 421.3,736.1 420.6,748.5 419.8,761.2 418.8,774.0 417.8,786.2 416.7,797.6 415.6,807.8 414.4,817.1 413.2,826.0 411.9,834.7 410.5,843.7 409.1,853.2 407.5,863.0 405.9,872.7 404.4,881.8 402.8,889.8 401.3,896.7 399.8,902.6 398.4,908.0 396.8,912.8 395.2,917.5 393.5,921.9 391.8,925.9 390.0,929.5 388.1,932.9 386.0,936.0 383.8,939.0 381.6,941.7 379.1,944.2 376.5,946.3 373.6,948.2 370.5,949.7 367.3,950.7 363.7,951.5 359.8,952.2 355.2,952.8 350.3,953.4 345.3,953.8 339.6,954.1 332.8,954.3 324.5,954.4 314.4,954.3 302.7,954.1 290.0,953.7 276.6,953.3 263.0,952.8 249.0,952.3 234.4,951.7 219.3,951.1 204.2,950.4 189.2,949.8"/>
<path d="M330.7,86.7 343.4,87.1"/>
<path d="M366.9,89.4 369.8,89.6 372.7,90.0 375.7,90.2 378.6,90.4 381.4,90.3 384.2,90.0 386.9,89.5 389.5,88.9 392.2,88.1 394.9,87.1 397.6,85.9 400.3,84.3 403.1,82.7 405.8,81.1 408.5,79.9 411.2,78.9 414.0,78.1 416.7,77.4 419.4,76.9 422.0,76.7 424.5,76.7 427.1,76.9 429.5,77.4 431.8,78.1 433.8,79.0 435.6,80.2 437.3,81.7 438.7,83.4 440.0,85.2 441.0,87.1 441.8,89.0 442.5,91.0 442.9,93.1 443.0,95.4 442.9,98.0 442.4,101.0 441.7,104.3 440.7,107.7 439.5,111.1 438.3,114.2 437.0,116.9 435.5,119.3 434.0,121.7 432.3,124.0 430.5,126.5 428.6,129.0 426.5,131.5 424.3,134.1 422.1,136.9 419.9,140.0 417.6,143.4 415.3,147.2 412.9,151.1 410.6,155.1 408.5,159.0 406.5,162.8 404.6,166.6 402.9,170.4 401.2,174.2 399.6,178.0 398.1,181.8 396.8,185.6 395.6,189.4 394.4,193.2 393.3,197.0 392.3,200.8 391.3,204.6 390.4,208.4 389.6,212.2 388.9,216.0 388.4,219.8 387.9,223.6 387.6,227.4 387.4,231.2 387.2,235.0 387.1,238.8 387.1,242.6 387.1,246.4 387.3,250.2 387.6,254.0 388.1,257.8 388.7,261.6 389.3,265.5 390.1,269.3 390.8,273.0 391.5,276.7 392.2,280.3 392.9,283.9 393.6,287.5 394.5,291.0 395.5,294.5 396.5,297.9 397.6,301.4 398.7,304.8 399.8,308.2"/>
<path d="M416.7,369.7 418.2,373.7 419.8,377.5 421.3,381.5 422.9,385.6 424.4,390.0 425.9,394.5 427.3,399.0 428.7,403.9 430.3,409.4 432.0,416.0 434.0,423.9 436.3,433.0 438.7,442.8 440.9,452.6 442.8,462.2 444.3,472.0 445.6,482.3 446.6,492.3 447.5,501.2 448.3,508.3 448.9,512.9 449.2,515.7 449.4,517.3 449.6,518.7 449.9,520.6"/>
<path d="M390.1,969.7 435.5,976.2"/>
<path d="M297.8,957.5 330.2,961.6"/>
<path d="M168.1,106.2 176.3,107.5 184.7,108.9 193.0,110.3 201.0,111.6 208.6,112.7 215.3,113.7 221.4,114.7 227.3,115.6 233.6,116.3 241.0,116.7 249.7,116.8 259.3,116.6 269.4,116.2 279.7,115.7 289.7,115.1 300.1,114.4 311.1,113.5 321.9,112.5 331.3,111.6 338.3,111.0 342.3,110.7 344.0,110.5 344.3,110.5 344.4,110.5 345.2,110.6 346.9,110.8 348.8,111.0 350.7,111.3 352.5,111.6 354.2,112.0 355.7,112.4 357.2,112.8 358.5,113.2 359.6,113.7 360.6,114.2 361.3,114.7 361.9,115.3 362.2,115.9 362.5,116.4 362.6,117.0 362.6,117.5 362.4,118.0 362.1,118.6 361.8,119.0 361.5,119.5 361.2,119.9 361.0,120.2 360.7,120.5 360.3,120.9 359.7,121.5 359.0,122.2 358.4,122.9 357.5,123.8 356.2,124.8 354.2,126.0 351.4,127.6 347.9,129.4 344.0,131.4 340.0,133.3 336.2,135.0 332.6,136.5 328.9,137.8 325.3,139.1 321.6,140.3 318.0,141.4 314.3,142.5 310.4,143.5 306.6,144.4 303.1,145.2 300.0,145.9 297.8,146.4 296.4,146.7 295.0,146.9 293.1,147.1 289.7,147.5 284.6,148.1 278.1,148.8 271.0,149.5 263.8,150.1 257.2,150.5 251.1,150.6 245.3,150.6 239.5,150.4 233.8,150.2 228.0,150.0"/>
<path d="M196.3,197.6 196.6,199.7 196.9,201.9 197.1,204.0 197.4,206.1 197.5,208.0 197.5,209.7 197.5,211.3 197.4,212.8 197.2,214.3 196.9,216.0 196.5,217.9 196.0,219.9 195.4,222.0 194.7,224.1 194.0,226.0 193.2,227.8 192.4,229.5 191.5,231.2 190.5,232.9 189.2,234.5 187.7,236.2 185.9,237.8 184.0,239.5 182.0,241.0 180.0,242.5 177.9,243.8 175.8,245.0 173.6,246.1 171.4,247.2 169.2,248.3"/>
</g>
<g fill="#fff" font-size="35" text-anchor="middle" letter-spacing=".7">
<text x="203.0" y="180.0">19</text>
<text x="324.5" y="503.6">18</text>
<text x="404.4" y="348.9">16</text>
<text x="357.5" y="101.0">17</text>
<text x="361.0" y="974.8">16</text>
<text x="408.0" y="945.0" font-size="43">(a)</text>
</g>
<path d="M163.8,67.7 L163.8,96.5 L166.4,96.5 L174.3,96.4 L181.7,96.4 L190.0,96.3 L200.0,96.0 L212.9,95.4 L227.9,94.5 L243.2,93.5 L257.0,92.4 L269.2,91.1 L280.7,89.7 L291.1,88.3 L300.0,87.1 L307.0,86.2 L312.2,85.4 L316.9,84.7 L322.0,84.0 L327.6,83.2 L333.2,82.5 L338.9,81.7 L345.0,80.8 L351.5,79.8 L358.2,78.7 L365.1,77.5 L372.0,76.3 L379.4,75.0 L387.2,73.6 L394.2,72.3 L399.5,71.3 L402.2,70.8 L403.2,70.6 L403.4,70.5 L404.0,70.4 L404.0,67.7 Z" fill="#fff"/>
<path d="M163.8,980.5 L163.8,949.4 L165.9,949.4 L176.4,950.0 L186.9,950.6 L197.5,951.2 L208.6,951.9 L220.3,952.7 L232.5,953.6 L244.9,954.7 L257.2,955.9 L269.4,957.3 L281.6,958.9 L293.7,960.6 L305.9,962.4 L318.4,964.4 L331.2,966.5 L343.5,968.6 L354.5,970.5 L364.1,972.2 L372.8,973.7 L380.4,975.0 L386.9,976.2 L391.9,977.1 L395.5,977.7 L398.6,978.2 L402.0,978.8 L402.0,980.5 Z" fill="#fff"/>
</g>
<g clip-path="url(#c1)">
<g fill="none" stroke="#fff" stroke-opacity=".9" stroke-width="2.4" stroke-linecap="round" stroke-linejoin="round">
<path d="M860.5,139.2 853.7,141.7 846.8,144.1 840.0,146.6 833.3,149.0 826.7,151.4 820.4,153.7 814.3,156.0 808.3,158.3 802.2,160.4 795.9,162.5 789.2,164.4 782.1,166.2 775.0,168.0 768.2,169.7 762.0,171.5 756.4,173.4 751.2,175.2 746.4,177.1 742.0,179.1 738.0,181.0 734.4,182.9 731.3,184.8 728.5,186.7 726.1,188.7 724.0,191.0 722.3,193.3 721.0,195.6 720.0,198.1 719.2,201.1 718.5,205.0 718.0,209.9 717.7,215.6 717.5,221.9 717.5,228.3 717.5,234.5 717.6,240.6 717.8,246.7 718.1,252.9 718.5,259.0 719.1,265.2 719.8,271.3 720.7,277.5 721.6,283.6 722.6,289.8 723.7,295.9 724.8,302.1 726.0,308.2 727.2,314.4 728.5,320.5 729.8,326.7 731.3,332.9 732.9,339.1 734.5,345.3 736.1,351.5 737.5,357.4 738.8,363.3 739.9,369.2 741.0,375.0 742.1,380.3 743.0,385.0 743.8,388.4 744.5,390.7 745.2,392.8 745.9,395.8 746.7,400.7 747.8,408.0 749.0,417.0 750.3,427.0 751.5,437.2 752.5,446.9 753.3,456.1 754.0,465.4 754.6,474.6 755.1,483.8 755.5,493.0 755.8,502.2 756.1,511.4 756.3,520.6 756.4,529.8 756.5,539.0 756.6,548.0 756.7,556.7 756.7,565.6 756.6,575.0 756.5,585.2 756.2,596.8 755.8,609.6 755.3,622.7 754.9,635.3 754.5,646.7 754.3,656.6 754.2,665.6 754.0,674.0 753.9,682.0 753.5,690.0 753.0,697.7 752.3,705.1 751.6,712.2 750.7,719.4 749.8,726.9 748.8,734.7 747.7,742.7 746.5,750.8 745.2,758.9 743.7,766.9 742.1,775.0 740.3,783.3 738.4,791.5 736.5,799.4 734.5,806.8 732.4,813.6 730.1,819.9 727.8,825.9 725.6,831.8 723.7,837.6 722.1,843.4 720.6,849.0 719.3,854.5 718.3,859.9 717.5,865.2 717.0,870.4 716.8,875.4 716.8,880.3 717.1,885.1 717.5,889.8 718.3,894.4 719.4,898.9 720.6,903.3 721.8,907.4 722.8,911.3 723.6,914.8 724.3,918.0 724.9,921.1 725.2,923.9 725.2,926.7 724.9,929.5 724.3,932.1 723.4,934.7 722.2,937.0 720.6,939.0 718.7,940.7 716.7,942.0 714.2,943.2 711.0,944.2 706.8,945.2 701.6,946.1 695.5,947.0 688.6,947.7 681.1,948.3 673.0,948.8 664.1,949.2 654.4,949.4 644.2,949.5 633.9,949.6 623.8,949.8"/>
<path d="M579.7,103.2 610.0,103.6"/>
<path d="M634.8,103.2 640.0,103.0"/>
<path d="M690.0,98.6 698.3,97.8 706.5,97.0 714.7,96.2 723.2,95.2 732.0,94.0 741.4,92.4 751.2,90.4 761.1,88.3 771.1,86.2 780.7,84.3 790.2,82.5 799.7,80.8 809.0,79.2 817.8,77.6 826.0,76.2 833.3,74.9 839.8,73.8 845.8,72.8 851.8,71.8 858.0,70.8"/>
<path d="M582.2,111.9 587.8,112.9 593.3,113.8 598.9,114.8 604.6,115.8 610.5,116.7 616.7,117.7 623.2,118.8 629.8,119.8 636.4,120.7 643.0,121.3 649.6,121.7 656.4,121.8 663.1,121.9 669.5,121.8 675.3,121.6 680.5,121.3 685.1,121.0 689.4,120.5 693.6,120.0 698.0,119.6"/>
<path d="M754.8,105.8 763.4,103.5 772.2,101.2 780.8,98.9 789.2,96.6 797.0,94.5 804.1,92.5 810.7,90.7 817.0,88.9 823.1,87.2 829.3,85.5 835.5,83.8 841.7,82.2 847.8,80.7 853.9,79.1 860.0,77.5"/>
<path d="M860.5,107.5 854.2,109.3 847.8,111.2 841.5,113.0 835.2,114.8 829.0,116.5 822.9,118.1 816.8,119.7 810.8,121.3 805.0,122.8 799.5,124.2 794.3,125.6 789.4,126.9 784.6,128.1 779.9,129.3 775.0,130.5 770.0,131.6 765.0,132.7 760.0,133.7 755.0,134.7 750.0,135.7 745.0,136.7 740.0,137.6 735.0,138.5 730.0,139.4 725.0,140.3 720.0,141.1 715.1,141.9 710.1,142.7 705.1,143.4 700.0,144.1 694.7,144.8 689.2,145.5 683.6,146.1 678.2,146.7 673.0,147.3 667.9,147.8 662.8,148.2 657.9,148.6 653.6,148.9 650.0,149.3 647.4,149.6 645.7,149.9 644.4,150.2 643.4,150.5 642.2,151.0 640.9,151.6 639.6,152.2 638.4,152.9 637.4,153.6 636.5,154.5 635.8,155.4 635.2,156.3 634.7,157.4 634.4,158.6 634.0,160.0 633.6,161.6 633.2,163.4 632.9,165.3 632.8,167.5 633.0,169.9 633.5,172.6 634.2,175.5 635.2,178.7 636.3,181.9 637.6,185.3 639.2,188.8 641.1,192.4 643.1,196.2 645.1,200.0 646.8,203.7 648.3,207.4 649.7,211.1 651.0,214.8 652.1,218.5 653.0,222.2 653.7,225.8 654.2,229.3 654.6,232.8 654.7,236.5 654.5,240.6 654.1,245.1 653.4,250.0 652.5,255.1 651.3,260.2 649.9,265.2 648.2,270.2 646.2,275.3 644.0,280.4 641.6,285.3 639.2,289.8 636.5,294.0 633.4,297.9 630.2,301.6 627.4,305.0 625.3,308.2 623.9,311.0 622.9,313.3 622.4,315.4 622.1,317.7 622.2,320.5 622.6,323.7 623.5,327.2 624.6,330.9 625.8,334.8 626.9,339.0 628.0,343.7 629.2,348.8 630.5,354.1 631.6,359.1 632.4,363.6 633.0,367.3 633.4,370.5 633.6,373.5 633.7,376.6 633.6,380.0 633.3,383.7 632.8,387.5 632.2,391.5 631.4,395.8 630.5,400.7 629.4,406.0 628.1,411.6 626.7,417.6 625.3,424.2 623.8,431.5 622.3,439.7 620.6,448.8 619.0,458.4 617.5,468.1 616.1,477.6 614.9,487.0 613.9,496.5 613.0,505.9 612.2,515.1 611.5,523.7 611.0,531.6 610.5,539.0 610.2,546.1 610.1,553.2 610.0,560.6 610.1,568.4 610.2,576.4 610.5,584.5 611.0,592.6 611.5,600.6 612.2,608.8 613.0,617.1 614.0,625.3 615.0,633.2 616.1,640.5 617.2,647.0 618.4,653.0 619.7,658.5 621.0,664.0 622.2,669.7"/>
<path d="M635.5,734.6 636.9,741.6 638.3,748.6 639.7,755.7 641.1,762.7 642.2,769.9 643.2,777.2 644.1,784.5 644.9,792.0 645.5,799.4 645.9,806.8 646.1,814.2 646.2,821.6 646.0,828.9 645.7,836.3 645.3,843.7 644.7,851.2 643.9,858.8 643.0,866.3 641.9,873.6 640.7,880.6 639.4,887.4 637.9,894.2 636.3,900.6 634.7,906.4 633.0,911.3 631.4,915.0 629.9,917.6 628.2,919.7 626.3,921.5 623.8,923.6 620.8,925.9 617.4,928.3 613.6,930.5 609.5,932.6 605.3,934.4 600.8,935.9 595.9,937.2 590.8,938.3 585.7,939.4 580.7,940.5"/>
<path d="M580.7,817.6 583.8,825.3"/>
<path d="M582.3,897.5 583.9,896.2 585.5,895.0 587.0,893.8 588.6,892.5 590.0,891.0 591.3,889.4 592.6,887.6 593.7,885.8 594.9,883.9 596.1,882.1"/>
<path d="M862.0,385.4 861.1,391.3 860.1,396.9 859.1,402.6 858.2,408.9 857.4,416.0 856.7,424.0 856.0,432.6 855.4,441.9 854.8,451.7 854.3,462.2 853.9,473.5 853.6,485.7 853.3,498.4 853.1,511.2 852.8,523.7 852.5,536.0 852.2,548.3 851.9,560.6 851.6,572.9 851.3,585.2 851.0,597.6 850.8,610.2 850.5,622.7 850.2,634.9 849.7,646.7 849.1,658.2 848.3,669.4 847.5,680.3 846.6,690.6 845.7,700.0 844.8,708.1 843.8,715.2 842.8,721.7 841.7,728.4 840.5,736.0 839.1,744.6 837.6,753.8 836.0,763.2 834.4,772.8 832.8,782.2 831.2,791.6 829.6,801.2 828.0,810.7 826.5,819.9 825.1,828.3 823.9,835.9 822.8,842.7 821.9,849.2 820.9,855.6 819.9,862.2"/>
<path d="M811.0,930.0 810.5,933.1 810.2,936.2 809.8,939.3 809.2,942.3 808.2,945.2 806.8,948.0 805.1,950.8 803.2,953.4 801.1,955.7 799.0,957.5 797.4,958.8 796.2,959.7 794.6,960.2 791.8,960.5 786.7,960.5 778.9,960.2 768.9,959.5 757.5,958.6 745.8,957.7 734.5,956.8 723.6,956.0 712.5,955.2 701.4,954.4 690.2,953.6 679.0,952.8"/>
<path d="M640.0,100.0 648.6,99.1 657.2,98.3 665.7,97.5 674.5,96.6 683.5,95.5 692.9,94.3 702.5,93.0 712.3,91.6 722.2,90.1 732.0,88.5 742.0,86.7 752.3,84.7 762.5,82.7 772.1,80.7 780.7,79.0 788.1,77.6 794.5,76.3 800.3,75.2 806.0,74.1 812.0,73.0"/>
<path d="M826.5,974.6 862.0,979.4"/>
<path d="M753.5,964.0 769.7,966.1"/>
<path d="M678.0,956.0 690.0,956.8"/>
</g>
<g fill="#fff" font-size="35" text-anchor="middle" letter-spacing=".7">
<text x="725.6" y="121.8">19</text>
<text x="626.9" y="711.5">19</text>
<text x="596.1" y="857.0">20</text>
<text x="815.0" y="904.5">17</text>
<text x="797.3" y="981.2">16</text>
<text x="594.3" y="107.5">17</text>
<text x="664.0" y="103.5">18</text>
<text x="593.0" y="956.1">18</text>
<text x="858.0" y="84.5">18</text>
<text x="821.6" y="945.0" font-size="43">(b)</text>
</g>
<path d="M576.2,67.7 L576.2,96.5 L578.3,96.5 L591.2,96.2 L604.0,96.0 L616.9,95.7 L630.0,95.3 L644.1,94.6 L659.0,93.8 L672.7,92.9 L683.5,92.2 L689.5,91.8 L692.1,91.5 L694.5,91.1 L700.0,90.4 L709.8,89.2 L722.0,87.6 L735.3,85.8 L748.3,84.0 L761.1,82.1 L774.4,80.0 L787.4,77.9 L799.5,76.0 L810.4,74.3 L820.4,72.7 L830.1,71.2 L840.0,69.7 L840.0,67.7 Z" fill="#fff"/>
<path d="M576.2,980.5 L576.2,952.7 L578.3,952.7 L588.7,953.1 L599.1,953.4 L609.6,953.8 L620.6,954.3 L632.3,954.9 L644.5,955.6 L656.9,956.4 L669.2,957.5 L681.4,958.9 L693.5,960.4 L705.7,962.2 L717.9,964.0 L730.6,966.0 L743.7,968.2 L756.1,970.3 L766.5,972.1 L774.6,973.6 L780.9,974.9 L786.1,976.1 L790.8,977.0 L794.7,977.7 L797.7,978.2 L800.2,978.6 L803.0,979.0 L803.0,980.5 Z" fill="#fff"/>
</g>
<g clip-path="url(#c2)">
<g fill="none" stroke="#fff" stroke-opacity=".9" stroke-width="2.4" stroke-linecap="round" stroke-linejoin="round">
<path d="M992.7,108.6 1003.8,108.6 1015.0,108.7 1026.2,108.7 1037.2,108.7 1047.8,108.6 1058.2,108.4 1068.5,108.2 1078.5,107.8 1087.9,107.4 1096.5,107.0 1104.1,106.5 1110.9,105.8 1117.2,105.1 1123.1,104.4 1128.9,103.8 1134.5,103.3 1139.7,102.7 1144.8,102.3 1149.7,101.8 1154.8,101.3"/>
<path d="M1214.8,90.0 1220.9,88.6 1227.0,87.2 1233.1,85.8 1239.1,84.4 1245.0,83.0 1250.8,81.5 1256.4,80.0 1262.0,78.5 1267.5,76.9 1273.1,75.4"/>
<path d="M1273.1,111.0 1242.3,120.8"/>
<path d="M1183.3,139.2 1175.8,141.7 1168.3,144.2 1160.8,146.7 1153.5,149.1 1146.5,151.4 1139.7,153.5 1133.0,155.5 1126.6,157.4 1120.8,159.1 1115.7,160.7 1111.5,162.1 1108.1,163.3 1105.2,164.4 1102.7,165.5 1100.5,166.5 1098.6,167.5 1097.1,168.3 1095.9,169.2 1094.9,170.0 1094.0,171.0 1093.2,172.0 1092.6,173.0 1092.2,174.1 1091.9,175.4 1091.7,177.0 1091.7,178.8 1091.8,180.6 1092.0,182.8 1092.3,185.3 1092.7,188.3 1093.2,191.9 1094.0,196.1 1094.7,200.5 1095.4,205.2 1095.7,209.9 1095.7,214.7 1095.5,219.7 1095.2,224.9 1094.7,229.8 1094.2,234.5 1093.6,238.7 1092.9,242.6 1092.1,246.3 1091.3,250.2 1090.4,254.4 1089.5,259.1 1088.4,264.2 1087.3,269.4 1086.3,274.4 1085.5,278.8 1084.8,282.5 1084.2,285.7 1083.7,288.7 1083.3,291.8 1083.1,295.1 1083.1,298.8 1083.3,302.6 1083.7,306.5 1084.2,310.5 1084.7,314.6 1085.4,318.7 1086.3,322.8 1087.2,327.0 1088.1,331.3 1088.8,335.8 1089.3,340.5 1089.7,345.3 1090.1,350.3 1090.3,355.3 1090.4,360.2 1090.4,364.7 1090.2,368.9 1090.0,373.2 1089.7,378.3 1089.6,384.6 1089.5,392.3 1089.5,401.0 1089.5,410.6 1089.5,420.8 1089.6,431.5 1089.7,442.9 1089.9,455.0 1090.1,467.7 1090.3,480.5 1090.5,493.0 1090.6,505.3 1090.8,517.6 1090.9,529.9 1091.0,542.2 1091.1,554.5 1091.1,566.8 1091.2,579.1 1091.2,591.4 1091.1,603.7 1091.1,616.0 1091.0,628.9 1090.8,642.4 1090.7,655.6 1090.6,667.6 1090.5,677.4 1090.6,683.9 1090.8,687.8 1091.1,690.7 1091.2,694.3 1091.1,700.0 1090.7,708.5 1090.2,718.8 1089.5,729.9 1088.8,741.1 1088.0,751.5 1087.2,761.2 1086.5,770.6 1085.6,779.9 1084.6,788.9 1083.4,797.6 1081.8,806.2 1079.9,814.8 1077.8,823.0 1075.9,830.7 1074.2,837.6 1072.8,843.6 1071.5,848.8 1070.4,853.5 1069.5,857.9 1069.0,862.2 1068.8,866.3 1068.7,870.2 1069.1,873.8 1069.8,877.2 1071.1,880.6 1073.2,883.9 1075.9,887.1 1079.0,890.2 1082.1,893.2 1085.0,896.0 1087.7,898.7 1090.4,901.2 1093.1,903.6 1095.4,906.0 1097.3,908.3 1098.8,910.5 1099.9,912.7 1100.7,914.8 1101.1,916.9 1101.0,919.0 1100.6,921.2 1099.9,923.5 1098.7,925.8 1096.9,927.9 1094.2,929.8 1090.5,931.4 1085.8,932.8 1080.5,934.0 1075.0,935.1 1069.6,936.0 1064.0,936.7 1058.0,937.1 1052.0,937.4 1046.5,937.8 1041.9,938.4 1038.4,939.3 1035.8,940.3 1033.7,941.3 1031.7,942.5 1029.6,943.6 1027.6,944.8 1025.9,946.1 1024.2,947.3 1022.0,948.4 1018.9,949.3 1014.7,949.9 1009.5,950.2 1003.9,950.3 998.2,950.5 992.7,950.7"/>
<path d="M1273.1,144.3 1266.3,146.9 1259.5,149.5 1252.6,152.1 1245.7,154.8 1238.7,157.6 1231.3,160.6 1223.7,163.8 1216.0,167.0 1208.6,170.1 1201.8,173.0 1195.5,175.7 1189.5,178.1 1183.8,180.5 1178.7,182.9 1174.1,185.3 1170.1,187.7 1166.8,190.1 1163.8,192.5 1161.2,194.9 1158.8,197.6 1156.5,200.4 1154.6,203.2 1152.9,206.3 1151.4,209.5 1150.1,213.0 1149.1,216.8 1148.3,220.8 1147.7,225.1 1147.3,229.7 1147.0,234.5 1146.9,239.6 1147.0,245.1 1147.3,250.7 1147.7,256.6 1148.2,262.6 1148.8,268.8 1149.5,275.3 1150.3,281.9 1151.3,288.5 1152.3,295.1 1153.5,301.7 1154.7,308.3 1156.1,314.9 1157.5,321.4 1158.8,327.7 1160.1,333.9 1161.3,339.9 1162.5,345.8 1163.7,351.6 1164.9,357.4 1166.0,363.0 1167.1,368.4 1168.2,373.8 1169.3,379.3 1170.5,385.0 1171.8,390.5 1173.1,395.7 1174.5,401.2 1175.9,407.8 1177.2,416.0 1178.5,426.4 1179.8,438.4 1181.1,451.5 1182.3,464.8 1183.3,477.6 1184.2,490.1 1184.9,502.9 1185.5,515.5 1186.0,527.7 1186.4,539.0 1186.6,549.0 1186.7,557.8 1186.7,566.3 1186.6,575.2 1186.4,585.2 1186.1,596.7 1185.7,609.3 1185.2,622.3 1184.6,635.0 1184.0,646.7 1183.3,657.3 1182.6,667.3 1181.8,676.8 1180.9,686.0 1180.0,695.0 1178.9,703.8 1177.8,712.4 1176.6,720.7 1175.3,728.6 1174.1,736.0 1172.9,742.8 1171.7,749.1 1170.4,755.0 1169.2,760.9 1168.0,766.9"/>
<path d="M1155.7,831.4 1155.5,837.6 1155.2,843.9 1155.0,850.1 1154.9,856.2 1155.0,862.2 1155.4,867.9 1156.1,873.5 1156.9,878.9 1157.8,884.3 1158.8,889.8 1160.0,895.5 1161.4,901.5 1162.9,907.3 1164.1,912.7 1164.9,917.5 1165.2,921.4 1165.2,924.7 1164.9,927.6 1164.3,930.2 1163.4,932.9 1162.2,935.7 1160.8,938.3 1159.0,940.9 1156.9,943.2 1154.2,945.2 1151.4,946.9 1148.4,948.4 1144.8,949.6 1140.2,950.5 1134.2,951.3 1126.2,951.8 1116.6,952.0 1106.1,952.1 1095.3,952.0 1085.0,951.9 1075.2,951.8 1065.3,951.5 1055.5,951.3 1045.6,951.0 1035.8,950.7"/>
<path d="M1030.0,105.0 1040.0,105.0"/>
<path d="M1075.0,104.0 1079.1,103.7 1083.1,103.5 1087.1,103.2 1091.5,102.9 1096.5,102.5 1102.1,102.0 1108.3,101.4 1114.8,100.7 1121.7,99.9 1128.9,99.0 1136.5,98.0 1144.5,96.9 1152.9,95.7 1161.4,94.4 1170.0,93.0 1178.7,91.6 1187.5,90.1 1196.5,88.5 1205.6,86.8 1214.8,85.0 1224.1,83.0 1233.5,80.8 1243.0,78.5 1252.5,76.2 1262.0,74.0"/>
<path d="M1275.0,582.0 1274.5,591.5 1274.1,600.8 1273.7,610.2 1273.1,620.2 1272.5,631.3 1271.7,644.3 1270.9,659.0 1270.0,673.9 1269.0,688.0 1267.9,700.0 1266.8,709.1 1265.5,716.3 1264.2,722.4 1263.0,728.7 1261.7,736.0 1260.5,744.6 1259.3,753.7 1258.0,763.2 1256.8,772.8 1255.6,782.2"/>
<path d="M1252.5,849.9 1251.9,858.0 1251.3,866.2 1250.7,874.3 1250.1,882.2 1249.4,889.8 1248.6,897.2 1247.7,904.5 1246.8,911.5 1245.8,917.9 1244.8,923.6 1243.7,928.4 1242.6,932.5 1241.4,936.0 1240.1,939.1 1238.7,942.0 1237.3,944.5 1235.8,946.5 1234.2,948.1 1232.2,949.7 1229.5,951.3 1226.1,953.0 1222.2,954.8 1217.9,956.5 1213.1,957.9 1208.0,959.0 1202.7,959.7 1197.2,960.1 1191.3,960.2 1184.7,960.1 1177.2,960.0 1168.5,959.7 1158.8,959.2 1148.6,958.6 1138.1,958.0 1128.0,957.4"/>
<path d="M1075.0,98.0 1105.0,95.0"/>
<path d="M1150.0,89.0 1158.7,87.5 1167.4,86.1 1176.0,84.6 1184.8,83.1 1193.7,81.5 1202.8,79.7 1212.0,77.8 1221.4,75.9 1230.7,73.9 1240.0,72.0"/>
<path d="M1118.0,89.0 1150.0,84.5"/>
<path d="M1160.0,83.0 1200.0,76.5"/>
<path d="M1150.0,961.0 1185.0,964.0"/>
<path d="M1262.0,978.0 1270.0,978.5"/>
<path d="M992.8,271.5 995.7,272.1 998.7,272.6 1001.7,273.1 1004.6,273.8 1007.4,274.8 1010.2,276.2 1012.9,277.8 1015.6,279.6 1018.1,281.6 1020.4,283.7 1022.5,286.0 1024.5,288.5 1026.3,291.2 1028.0,293.9 1029.4,296.7 1030.6,299.5 1031.6,302.4 1032.5,305.3 1033.1,308.3 1033.5,311.4 1033.7,314.5 1033.8,317.7 1033.7,320.9 1033.3,324.2 1032.6,327.7 1031.6,331.5 1030.3,335.6 1028.7,339.7 1027.0,343.7 1025.3,347.2 1023.4,350.2 1021.4,352.9 1019.2,355.4 1017.3,357.8 1015.6,360.2 1014.2,362.6 1013.0,364.8 1012.0,367.0 1011.2,369.2 1010.7,371.6 1010.4,374.1 1010.5,376.6 1010.7,379.2 1011.0,381.9 1011.5,384.6 1012.1,387.5 1012.9,390.5 1013.9,393.6 1014.8,396.6 1015.6,399.3 1016.3,401.3 1016.9,402.6 1017.5,404.0 1018.2,406.2 1018.9,410.0 1019.8,415.6 1020.7,422.4 1021.7,430.2 1022.7,438.5 1023.5,446.9 1024.2,455.5 1024.7,464.7 1025.2,474.1 1025.6,483.6 1026.0,493.0 1026.4,502.3 1026.7,511.7 1026.9,521.0 1027.1,530.2 1027.2,539.0 1027.2,547.4 1027.1,555.4 1026.9,563.3 1026.7,571.1 1026.6,579.0"/>
<path d="M1028.1,646.7 1028.3,652.8 1028.5,658.9 1028.7,665.0 1028.9,671.1 1029.0,677.4 1029.1,683.9 1029.1,690.6 1029.1,697.3 1029.1,703.9 1029.0,710.0 1028.9,715.3 1028.8,719.9 1028.7,724.5 1028.4,729.6 1028.1,736.0 1027.6,744.1 1027.1,753.5 1026.5,763.4 1025.8,773.2 1025.0,782.2 1024.2,790.3 1023.3,797.9 1022.4,805.2 1021.4,812.3 1020.4,819.1 1019.3,825.7 1018.1,832.1 1016.8,838.3 1015.6,844.1 1014.3,849.8 1013.1,855.2 1011.9,860.4 1010.7,865.4 1009.4,870.1 1008.1,874.4 1006.7,878.4 1005.2,882.0 1003.7,885.4 1002.1,888.5 1000.4,891.4 998.7,893.9 996.8,896.1 995.0,898.1 993.1,900.1 991.2,902.1"/>
<path d="M992.8,279.6 995.1,280.2 997.4,280.7 999.8,281.3 1002.0,282.0 1004.2,282.9 1006.3,284.1 1008.5,285.6 1010.5,287.1 1012.3,288.7 1013.9,290.2 1015.1,291.6 1015.9,292.9 1016.6,294.1 1017.3,295.4 1018.0,296.7"/>
<path d="M992.7,436.0 993.5,437.6 994.3,439.2 995.1,440.7 995.8,442.3 996.5,444.0 997.1,445.7 997.6,447.5 998.0,449.4 998.4,451.2 998.9,453.0"/>
<path d="M1003.5,546.8 1003.8,554.1 1004.1,561.1 1004.4,568.2 1004.7,576.0 1005.0,585.2 1005.3,596.2 1005.7,608.5 1006.0,621.6 1006.3,634.6 1006.6,646.7 1006.8,658.4 1007.0,670.2 1007.1,681.4 1007.2,691.6 1007.2,700.0 1007.1,706.1 1006.9,710.1 1006.7,713.3 1006.4,716.4 1006.0,720.7 1005.6,726.3 1005.3,732.6 1004.8,739.1 1004.3,745.6 1003.5,751.5 1002.5,757.0 1001.3,762.3 1000.0,767.4 998.7,772.0 997.4,776.0 996.2,779.3 994.9,781.8 993.7,784.0 992.4,786.1 991.2,788.4"/>
<path d="M992.8,291.5 994.2,291.9 995.6,292.2 996.9,292.5 998.3,292.9 999.5,293.5 1000.6,294.3 1001.7,295.2 1002.7,296.2 1003.7,297.3 1004.5,298.5 1005.3,299.8 1006.0,301.3 1006.6,302.8 1007.0,304.4 1007.2,306.0 1007.0,307.6 1006.6,309.3 1006.0,311.0 1005.3,312.6 1004.5,314.0 1003.7,315.3 1002.7,316.5 1001.7,317.7 1000.6,318.7 999.5,319.5 998.3,320.1 996.9,320.6 995.6,320.9 994.2,321.2 992.8,321.5"/>
</g>
<g fill="#fff" font-size="35" text-anchor="middle" letter-spacing=".7">
<text x="1184.0" y="106.5">19</text>
<text x="1211.0" y="138.6">19</text>
<text x="1025.0" y="621.3">20</text>
<text x="1158.8" y="807.5">18</text>
<text x="1251.0" y="827.5">17</text>
<text x="1217.2" y="979.8">16</text>
<text x="1010.6" y="108.5">18</text>
<text x="1052.7" y="107.5">17</text>
<text x="1128.9" y="97.0">16</text>
<text x="1011.0" y="347.6">20.2</text>
<text x="1001.0" y="509.2">20.2</text>
<text x="1232.5" y="945.0" font-size="43">(c)</text>
</g>
<path d="M988.5,67.7 L988.5,98.1 L990.6,98.1 L1005.5,97.3 L1020.8,96.5 L1035.3,95.7 L1047.8,95.0 L1057.6,94.4 L1065.5,93.8 L1072.5,93.2 L1080.0,92.5 L1087.9,91.7 L1095.6,90.9 L1103.6,89.9 L1112.0,88.9 L1121.3,87.7 L1131.1,86.5 L1140.9,85.2 L1150.0,83.9 L1158.0,82.7 L1165.4,81.5 L1172.6,80.3 L1180.0,79.0 L1188.1,77.5 L1196.6,75.9 L1204.6,74.3 L1211.5,73.0 L1216.7,72.0 L1220.7,71.2 L1224.2,70.5 L1228.0,69.7 L1228.0,67.7 Z" fill="#fff"/>
<path d="M988.5,980.5 L988.5,951.9 L990.6,951.9 L1001.2,952.2 L1011.7,952.6 L1022.5,952.9 L1033.6,953.5 L1045.4,954.3 L1057.5,955.1 L1069.9,956.2 L1082.2,957.5 L1094.4,959.1 L1106.5,960.9 L1118.7,962.8 L1130.9,964.8 L1143.4,966.8 L1156.2,968.9 L1168.5,971.0 L1179.5,972.9 L1189.5,974.6 L1198.7,976.2 L1206.4,977.6 L1212.0,978.6 L1214.6,979.1 L1214.9,979.1 L1214.2,979.0 L1214.0,979.0 L1214.0,980.5 Z" fill="#fff"/>
</g>
<g clip-path="url(#c3)">
<g fill="none" stroke="#fff" stroke-opacity=".9" stroke-width="2.4" stroke-linecap="round" stroke-linejoin="round">
<path d="M1685.0,156.0 1678.1,159.4 1671.1,162.9 1664.2,166.3 1657.3,169.7 1650.7,173.0 1644.2,176.2 1637.7,179.2 1631.5,182.3 1625.5,185.3 1620.0,188.3 1614.9,191.4 1610.1,194.5 1605.7,197.5 1601.8,200.6 1598.4,203.7 1595.7,206.7 1593.6,209.6 1591.9,212.5 1590.5,215.6 1589.2,219.1 1588.0,222.7 1587.1,226.4 1586.4,230.4 1585.9,235.0 1585.5,240.6 1585.3,247.3 1585.3,255.0 1585.5,263.3 1585.8,271.9 1586.1,280.6 1586.5,289.7 1587.1,299.3 1587.7,309.1 1588.4,318.4 1589.2,326.7 1590.0,333.9 1590.9,340.2 1591.9,346.1 1592.8,351.7 1593.8,357.4 1594.7,363.1 1595.7,368.5 1596.6,373.9 1597.6,379.3 1598.5,385.0 1599.4,390.7 1600.3,396.4 1601.2,402.3 1602.1,408.8 1603.0,416.0 1603.9,424.3 1604.7,433.4 1605.6,443.0 1606.3,452.7 1607.0,462.2 1607.6,471.4 1608.1,480.6 1608.6,489.9 1608.9,499.1 1609.2,508.3 1609.4,517.3 1609.4,526.0 1609.4,534.9 1609.3,544.3 1609.2,554.5 1609.0,565.8 1608.8,578.0 1608.5,590.7 1608.1,603.5 1607.6,616.0 1607.0,628.9 1606.3,642.4 1605.5,655.6 1604.7,667.6 1604.0,677.4 1603.5,684.3 1603.0,688.8 1602.6,692.2 1602.1,695.5 1601.5,700.0 1600.7,705.7 1599.8,712.0 1598.8,718.5 1597.9,725.1 1596.9,731.5"/>
<path d="M1585.5,796.0 1584.6,802.5 1583.6,809.0 1582.6,815.5 1581.8,821.9 1581.5,828.3 1581.6,834.6 1582.0,840.7 1582.7,846.9 1583.6,853.0 1584.6,859.1 1585.8,865.3 1587.3,871.6 1588.9,877.8 1590.6,883.9 1592.3,889.8 1594.1,895.5 1596.1,901.2 1598.1,906.6 1599.9,911.6 1601.2,916.2 1602.1,920.1 1602.6,923.5 1602.9,926.5 1602.9,929.4 1602.8,932.4 1602.6,935.5 1602.3,938.6 1601.7,941.6 1600.8,944.5 1599.6,947.0 1597.9,949.2 1595.9,951.3 1593.5,953.1 1590.9,954.6 1588.2,955.9 1585.5,956.8 1582.7,957.5 1579.6,957.9 1576.1,958.1 1572.0,958.3 1567.0,958.4 1561.3,958.3 1555.2,958.1 1548.9,957.8 1542.9,957.5 1537.1,957.1 1531.2,956.7 1525.4,956.1 1519.5,955.6 1513.7,955.1"/>
<path d="M1440.0,100.5 1475.0,99.8"/>
<path d="M1525.0,95.3 1531.1,94.4 1537.0,93.5 1543.0,92.6 1549.5,91.5 1557.0,90.3 1565.9,88.8 1576.0,87.0 1586.5,85.1 1596.6,83.3 1605.7,81.5 1613.5,79.8 1620.5,78.2 1627.0,76.7 1633.4,75.1 1640.0,73.5"/>
<path d="M1404.7,104.6 1415.8,104.6 1427.0,104.7 1438.2,104.8 1449.2,104.8 1459.8,104.6 1470.0,104.3 1479.8,104.0 1489.3,103.6 1498.9,102.9 1508.5,102.1 1518.2,101.0 1527.9,99.6 1537.6,98.1 1547.3,96.4 1557.0,94.8 1566.7,93.1 1576.5,91.4 1586.2,89.5 1596.0,87.7 1605.7,85.9"/>
<path d="M1685.0,122.2 1678.3,124.6 1671.8,127.0 1665.3,129.4 1658.3,131.8 1650.7,134.5 1642.1,137.4 1632.8,140.6 1623.2,143.8 1613.6,147.0 1604.6,149.9 1595.8,152.7 1586.8,155.4 1578.3,157.9 1570.7,160.2 1564.6,162.2 1560.2,163.8 1557.2,164.9 1555.2,165.9 1553.6,166.9 1552.0,168.0 1550.4,169.3 1549.1,170.6 1548.1,172.0 1547.3,173.5 1546.5,175.0 1545.9,176.5 1545.5,177.9 1545.3,179.5 1545.0,181.5 1544.6,184.0 1544.1,187.2 1543.7,190.9 1543.1,195.0 1542.4,199.3 1541.5,203.7 1540.2,208.2 1538.7,212.9 1537.1,217.8 1535.4,222.9 1533.9,228.3 1532.5,234.0 1531.1,240.1 1529.8,246.4 1528.7,252.7 1527.7,259.0 1526.9,265.3 1526.2,271.7 1525.7,278.1 1525.4,284.2 1525.2,290.0 1525.2,295.3 1525.5,300.2 1525.9,305.0 1526.4,309.6 1526.8,314.4 1527.3,319.1 1527.8,323.8 1528.4,328.4 1528.9,333.4 1529.3,338.8 1529.6,344.8 1529.8,351.3 1529.9,358.0 1530.0,364.8 1530.1,371.4 1530.2,377.9 1530.2,384.4 1530.2,390.9 1530.3,397.4 1530.4,403.9 1530.6,410.2 1530.9,416.2 1531.2,422.4 1531.5,429.0 1531.7,436.5 1531.9,445.0 1532.0,454.3 1532.1,464.1 1532.2,474.0 1532.3,483.7"/>
<path d="M1533.3,547.7 1533.3,558.7 1533.3,570.0 1533.3,581.1 1533.3,591.5 1533.2,600.6 1533.1,608.0 1533.0,614.1 1532.9,619.4 1532.7,624.5 1532.5,630.0 1532.3,635.5 1532.0,640.6 1531.7,645.9 1531.3,651.8 1530.9,658.8 1530.4,667.4 1529.8,677.3 1529.1,687.8 1528.4,698.1 1527.7,707.7 1526.9,716.5 1526.1,725.0 1525.3,733.1 1524.4,740.9 1523.6,748.3 1522.8,755.3 1521.9,762.0 1521.0,768.3 1520.2,774.3 1519.5,780.0 1518.9,785.4 1518.3,790.4 1517.9,795.2 1517.5,799.8 1517.1,804.4 1516.8,808.9 1516.4,813.4 1516.2,817.6 1516.1,821.7 1516.3,825.6 1516.7,829.1 1517.3,832.3 1518.1,835.3 1519.1,838.4 1520.3,841.8 1521.9,845.5 1523.8,849.4 1525.9,853.4 1528.0,857.4 1530.1,861.4 1532.1,865.3 1534.2,869.2 1536.2,873.1 1538.2,877.0 1539.9,880.9 1541.5,884.9 1543.0,888.9 1544.3,892.9 1545.5,896.8 1546.4,900.4 1547.1,903.6 1547.7,906.6 1548.1,909.5 1548.2,912.2 1548.0,915.1 1547.5,918.1 1546.8,921.1 1545.8,924.1 1544.6,927.0 1543.1,929.7 1541.4,932.3 1539.6,934.7 1537.4,937.0 1534.8,939.2 1531.7,941.1 1528.0,942.8 1523.9,944.3 1519.3,945.6 1514.3,946.7 1508.9,947.6 1503.0,948.3 1496.6,948.7 1489.9,949.0 1483.1,949.2 1476.4,949.3 1470.0,949.3 1463.7,949.2 1457.3,948.9 1450.7,948.7 1443.8,948.5 1436.4,948.3 1428.7,948.1 1420.7,948.0 1412.7,947.8 1404.8,947.6"/>
<path d="M1678.3,843.7 1677.7,851.2 1677.1,859.0 1676.5,866.7 1676.0,873.8 1675.5,880.0 1675.1,884.8 1674.8,888.6 1674.6,891.9 1674.4,895.5 1674.1,900.0 1673.8,905.8 1673.6,912.5 1673.3,919.5 1672.9,926.3 1672.5,932.4 1672.0,937.8 1671.5,942.8 1670.9,947.4 1670.2,951.5 1669.3,955.1 1668.2,957.9 1667.0,960.1 1665.7,961.9 1664.3,963.4 1662.8,964.8 1661.6,966.2 1660.8,967.5 1659.7,968.6 1657.8,969.3 1654.7,969.7 1650.0,969.6 1644.1,969.0 1637.4,968.2 1630.5,967.3 1623.9,966.5 1617.4,965.8 1610.6,965.1 1603.8,964.3 1597.4,963.7 1591.5,963.2 1586.3,962.9 1581.7,962.7 1577.4,962.6 1573.2,962.5 1568.8,962.4"/>
<path d="M1432.0,98.3 1475.0,97.3"/>
<path d="M1530.0,91.5 1535.1,90.8 1539.8,90.1 1544.6,89.4 1550.2,88.6 1557.0,87.5 1565.8,86.0 1576.3,84.2 1587.3,82.3 1597.5,80.5 1605.7,79.0 1611.4,77.8 1615.5,76.9 1618.7,76.1 1621.6,75.3 1625.0,74.5"/>
<path d="M1628.8,972.9 1654.7,976.2"/>
<path d="M1404.8,169.1 1409.5,168.3 1414.2,167.6 1419.0,166.9 1423.5,166.0 1427.6,165.0 1431.3,163.7 1434.6,162.2 1437.6,160.6 1440.7,159.1 1443.8,157.7 1447.0,156.5 1450.2,155.5 1453.3,154.5 1456.6,153.6 1460.1,152.8 1463.8,152.1 1467.8,151.5 1471.9,150.9 1475.9,150.5 1479.6,150.3 1483.1,150.2 1486.4,150.2 1489.6,150.4 1492.8,150.7 1495.9,151.2 1499.0,151.8 1502.2,152.6 1505.3,153.5 1508.1,154.7 1510.6,156.0 1512.8,157.6 1514.7,159.5 1516.3,161.5 1517.7,163.7 1518.7,165.8 1519.4,168.0 1519.9,170.2 1520.0,172.6 1519.9,174.9 1519.5,177.2 1518.9,179.5 1518.0,181.9 1516.8,184.3 1515.4,186.5 1513.8,188.6 1512.0,190.5 1509.9,192.2 1507.6,193.7 1505.1,195.2 1502.4,196.7 1499.3,198.1 1495.9,199.5 1492.4,200.8 1489.0,202.0 1486.1,203.2 1483.6,204.3 1481.5,205.2 1479.5,206.1 1477.8,207.0 1476.4,208.1 1475.2,209.2 1474.3,210.4 1473.5,211.7 1473.1,213.1 1472.8,214.6 1472.8,216.3 1473.1,218.1 1473.6,220.1 1474.2,222.2 1474.8,224.4 1475.5,226.7 1476.4,229.2 1477.3,231.8 1478.2,234.5 1478.8,237.4 1479.2,240.4 1479.5,243.7 1479.6,247.0 1479.6,250.4 1479.6,253.7 1479.4,257.0 1479.2,260.2 1478.8,263.5 1478.4,266.7 1478.0,270.0 1477.6,273.4 1477.1,276.8 1476.6,280.3 1476.1,283.5 1475.6,286.3 1475.1,288.6 1474.6,290.5 1474.1,292.2 1473.6,293.9 1473.1,296.0 1472.6,298.3 1472.1,300.5 1471.7,303.0 1471.2,305.9 1470.7,309.5 1470.2,314.0 1469.5,319.3 1469.0,325.0 1468.5,330.6 1468.2,335.6 1468.1,339.9 1468.2,343.9 1468.4,347.6 1468.7,351.3 1469.1,355.1 1469.6,359.0 1470.3,362.8 1471.1,366.7 1471.8,370.6 1472.3,374.6 1472.7,378.7 1473.0,382.8 1473.3,387.0 1473.4,391.3 1473.5,395.8 1473.5,400.3 1473.3,404.9 1473.2,409.7 1473.0,414.7 1472.8,420.2 1472.7,426.4 1472.6,433.3 1472.5,440.4 1472.4,447.0 1472.3,452.8 1472.3,457.4 1472.3,461.2 1472.3,464.6 1472.3,467.9 1472.3,471.4"/>
<path d="M1472.3,536.3 1472.6,546.1 1473.0,556.1 1473.4,565.9 1473.7,575.7 1473.9,585.2 1474.0,594.7 1474.0,604.2 1474.0,613.4 1473.9,622.1 1473.9,630.0 1473.9,636.5 1473.9,641.7 1474.0,646.6 1474.0,652.0 1473.9,658.8 1473.8,667.3 1473.7,676.9 1473.5,687.2 1473.3,697.6 1473.1,707.7 1472.8,717.9 1472.5,728.4 1472.1,738.8 1471.8,748.4 1471.5,756.5 1471.3,762.8 1471.2,767.7 1471.2,771.7 1471.0,775.6 1470.7,780.0 1470.2,784.7 1469.6,789.3 1468.9,794.0 1468.1,799.0 1467.4,804.4 1466.6,810.6 1465.8,817.4 1464.9,824.4 1464.1,831.1 1463.4,837.0 1462.8,842.1 1462.1,846.8 1461.6,851.0 1461.2,854.8 1460.9,858.1 1460.8,860.9 1460.8,863.1 1460.9,864.9 1461.2,866.4 1461.7,867.9 1462.3,869.3 1463.0,870.5 1463.9,871.5 1465.0,872.3 1466.6,872.8 1468.7,872.9 1471.3,872.7 1474.1,872.2 1477.0,871.9 1479.6,872.0 1482.1,872.4 1484.5,873.0 1486.9,873.8 1489.1,874.8 1491.0,876.0 1492.6,877.6 1494.1,879.4 1495.3,881.5 1496.2,883.6 1496.7,885.8 1496.8,888.0 1496.6,890.4 1496.1,892.9 1495.3,895.2 1494.3,897.2 1493.1,899.0 1491.7,900.6 1490.0,902.1 1488.1,903.4 1486.1,904.5 1483.8,905.4 1481.2,906.0 1478.5,906.5 1475.8,906.8 1473.1,907.0 1470.4,906.8 1467.6,906.4 1464.8,905.8 1462.3,905.4 1460.1,905.3 1458.3,905.5 1456.9,906.0 1455.7,906.6 1454.6,907.5 1453.6,908.6 1452.6,910.1 1451.8,911.9 1451.0,914.0 1450.3,916.1 1449.5,918.3 1448.8,920.5 1448.2,922.9 1447.5,925.2 1446.7,927.5 1445.5,929.7 1444.0,931.7 1442.3,933.7 1440.4,935.6 1438.2,937.3 1435.7,938.7 1432.8,939.9 1429.6,940.8 1426.1,941.6 1422.7,942.2 1419.4,942.8 1416.4,943.3 1413.4,943.6 1410.6,943.9 1407.7,944.1 1404.8,944.4"/>
<path d="M1536.0,121.5 1533.6,122.2 1531.1,122.9 1528.7,123.6 1526.3,124.3 1524.0,125.0 1521.4,125.6 1518.6,126.3 1516.0,126.9 1514.0,127.4 1513.3,128.0 1514.1,128.6 1516.3,129.1 1519.0,129.7 1521.8,130.1 1524.0,130.5 1525.5,130.8 1526.7,130.9 1527.8,131.0 1528.9,131.1 1530.0,131.2"/>
<path d="M1573.3,114.3 1582.8,111.9 1592.0,109.7 1601.4,107.4 1611.3,104.9 1621.9,102.1 1633.6,98.9 1646.1,95.4 1659.1,91.7 1672.1,87.9 1685.0,84.3"/>
<path d="M1586.2,120.8 1596.6,117.9 1607.2,115.0 1617.6,112.0 1627.9,109.1 1638.0,106.2 1647.7,103.3 1657.1,100.4 1666.4,97.4 1675.7,94.5 1685.0,91.6"/>
<path d="M1460.1,160.1 1462.3,159.4 1464.5,158.7 1466.7,158.1 1469.0,157.4 1471.5,156.9 1474.2,156.4 1477.2,155.9 1480.2,155.6 1483.2,155.3 1486.1,155.2 1488.9,155.3 1491.6,155.4 1494.3,155.8 1496.8,156.2 1499.2,156.9 1501.4,157.7 1503.6,158.8 1505.6,160.0 1507.4,161.2 1508.9,162.6 1510.2,164.1 1511.2,165.7 1512.0,167.3 1512.6,169.0 1513.0,170.7 1513.2,172.3 1513.0,173.9 1512.8,175.6 1512.4,177.2 1512.2,178.8"/>
<path d="M1404.8,201.6 1407.7,201.5 1410.6,201.4 1413.4,201.2 1416.4,201.3 1419.4,201.6 1422.6,202.2 1426.0,203.1 1429.3,204.2 1432.6,205.3 1435.7,206.5 1438.5,207.6 1441.2,208.8 1443.8,210.1 1446.3,211.5 1448.7,213.0 1451.2,214.7 1453.6,216.6 1456.0,218.6 1458.2,220.7 1460.1,222.8 1461.8,225.0 1463.2,227.2 1464.5,229.4 1465.6,231.8 1466.6,234.2 1467.4,236.7 1468.1,239.3 1468.5,241.9 1468.9,244.6 1469.1,247.2 1469.2,249.7 1469.1,252.2 1468.9,254.8 1468.6,257.4 1468.2,260.2 1467.7,263.2 1467.2,266.5 1466.5,269.8 1465.8,273.2 1465.0,276.5 1464.1,279.8 1463.2,283.2 1462.1,286.5 1461.1,289.7 1460.1,292.8 1459.1,295.5 1458.1,297.9 1457.1,300.2 1456.1,302.9 1455.2,306.3 1454.3,310.6 1453.3,315.7 1452.4,321.0 1451.6,326.2 1451.2,330.7 1451.1,334.5 1451.3,337.9 1451.7,341.0 1452.2,344.0 1452.8,347.0 1453.6,350.0 1454.6,352.9 1455.7,355.7 1456.8,358.6 1457.7,361.6 1458.5,364.6 1459.3,367.5 1459.9,370.6 1460.5,374.0 1460.9,377.9 1461.1,382.5 1461.2,387.7 1461.2,393.1 1461.1,398.6 1460.9,403.9 1460.5,408.9 1460.0,413.8 1459.5,418.6 1458.9,423.4 1458.5,428.3 1458.2,432.8 1458.0,437.0 1457.9,441.4 1457.8,446.4 1457.7,452.8 1457.7,460.2 1457.8,468.2 1457.9,477.3 1458.0,487.8 1458.1,500.0 1458.2,514.6 1458.3,531.3 1458.3,549.2 1458.4,567.4 1458.5,585.0"/>
<path d="M1460.1,675.1 1460.1,697.4 1460.2,720.9 1460.2,743.8 1460.2,764.2 1460.1,780.0 1459.9,789.9 1459.7,795.2 1459.4,797.9 1459.0,800.3 1458.5,804.4 1457.9,810.5 1457.1,817.1 1456.3,823.9 1455.4,830.7 1454.4,837.0 1453.4,842.9 1452.3,848.5 1451.1,853.9 1449.9,859.3 1448.7,864.6 1447.4,870.0 1446.1,875.5 1444.7,880.8 1443.4,885.9 1442.2,890.7 1441.1,895.1 1440.0,899.1 1439.0,902.9 1438.1,906.6 1437.3,910.2 1436.7,913.8 1436.4,917.3 1436.1,920.6 1435.7,923.7 1434.9,926.5 1434.0,929.0 1433.1,931.2 1431.9,933.1 1430.1,934.8 1427.6,936.3 1424.0,937.5 1419.6,938.3 1414.7,939.0 1409.6,939.6 1404.8,940.3"/>
<path d="M1404.8,209.8 1407.7,209.9 1410.6,209.9 1413.4,209.9 1416.4,210.1 1419.4,210.6 1422.6,211.4 1426.0,212.3 1429.5,213.5 1432.7,214.8 1435.7,216.3 1438.4,218.0 1440.8,219.8 1443.1,221.8 1445.2,223.9 1447.1,226.0 1448.9,228.1 1450.6,230.4 1452.0,232.6 1453.3,235.0 1454.4,237.4 1455.3,239.9 1456.0,242.4 1456.5,245.0 1456.8,247.7 1456.8,250.4 1456.6,253.2 1456.2,256.2 1455.5,259.1 1454.6,262.1 1453.6,265.1 1452.3,268.1 1450.6,271.0 1448.9,274.0 1447.1,276.9 1445.5,279.7 1444.1,282.5 1442.7,285.2 1441.5,287.8 1440.2,290.4 1438.9,292.8 1437.6,294.9 1436.3,296.6 1434.9,298.4 1433.6,300.4 1432.4,303.0 1431.1,306.4 1429.7,310.4 1428.4,314.7 1427.3,318.8 1426.7,322.6 1426.6,325.8 1426.8,328.8 1427.3,331.6 1428.1,334.4 1429.2,337.2 1430.7,340.1 1432.7,343.1 1434.8,346.1 1437.0,349.0 1438.9,351.8 1440.6,354.5 1442.3,357.2 1443.8,359.7 1445.2,362.3 1446.3,364.9 1447.2,367.5 1447.8,369.9 1448.3,372.5 1448.6,375.1 1448.7,377.9 1448.7,381.0 1448.5,384.2 1448.1,387.5 1447.6,390.9 1447.1,394.2 1446.4,397.4 1445.6,400.6 1444.6,403.8 1443.8,407.1 1443.0,410.4 1442.4,413.8 1441.8,417.1 1441.3,420.6 1440.9,424.3 1440.6,428.3 1440.4,431.8 1440.3,434.6 1440.3,438.2 1440.2,443.8 1440.2,452.8 1440.1,466.5 1440.0,484.0 1440.0,503.3 1439.9,522.7 1439.8,540.0 1439.7,555.7 1439.6,571.0 1439.4,585.5 1439.3,598.7 1439.3,610.0 1439.3,618.9 1439.4,625.7 1439.5,631.4 1439.6,636.7 1439.8,642.6 1440.1,649.3 1440.4,656.1 1440.8,662.8 1441.1,669.2 1441.4,675.1 1441.6,680.3 1441.8,684.9 1441.9,689.2 1442.1,693.5 1442.2,697.9"/>
<path d="M1446.3,788.1 1446.2,792.9 1446.1,797.5 1446.0,802.2 1445.8,807.2 1445.5,812.6 1445.0,818.7 1444.5,825.3 1443.8,832.2 1443.1,838.9 1442.2,845.1 1441.2,850.8 1440.1,856.1 1438.9,861.2 1437.7,866.2 1436.5,871.1 1435.3,876.0 1434.1,880.8 1432.9,885.4 1431.8,889.8 1430.8,893.9 1430.0,897.6 1429.3,901.0 1428.7,904.2 1428.2,907.3 1427.6,910.2 1427.1,913.1 1426.7,915.9 1426.3,918.5 1425.8,921.0 1425.1,923.2 1424.3,925.2 1423.5,927.0 1422.5,928.6 1421.2,930.0 1419.4,931.4 1417.0,932.6 1414.2,933.6 1411.1,934.5 1407.9,935.4 1404.8,936.3"/>
<path d="M1473.0,169.0 1473.5,168.1 1473.8,167.1 1474.2,166.2 1474.9,165.3 1476.0,164.5 1477.7,163.8 1479.8,163.0 1482.2,162.4 1484.7,162.0 1487.0,161.8 1489.3,162.0 1491.8,162.4 1494.1,163.0 1496.3,163.8 1498.0,164.5 1499.3,165.3 1500.3,166.1 1501.0,167.1 1501.4,168.0 1501.5,169.0 1501.4,170.0 1501.0,171.1 1500.3,172.2 1499.3,173.2 1498.0,174.0 1496.3,174.7 1494.1,175.3 1491.8,175.8 1489.3,176.2 1487.0,176.3 1484.7,176.2 1482.2,175.8 1479.8,175.3 1477.7,174.7 1476.0,174.0 1474.9,173.2 1474.2,172.2 1473.8,171.1 1473.5,170.0 1473.0,169.0"/>
<path d="M1404.8,220.3 1407.1,220.6 1409.4,220.8 1411.6,221.1 1413.9,221.5 1416.2,222.0 1418.5,222.7 1420.9,223.6 1423.3,224.5 1425.5,225.6 1427.6,226.8 1429.5,228.1 1431.3,229.7 1433.0,231.2 1434.4,232.8 1435.7,234.2 1436.7,235.4 1437.3,236.6 1437.9,237.7 1438.3,238.8 1438.9,239.9"/>
<path d="M1404.8,344.5 1406.8,344.9 1408.7,345.3 1410.7,345.8 1412.6,346.3 1414.5,347.0 1416.4,347.9 1418.3,349.0 1420.2,350.3 1421.9,351.5 1423.5,352.7 1424.9,353.8 1426.0,355.0 1427.1,356.1 1428.1,357.3 1429.2,358.4"/>
<path d="M1404.8,720.7 1406.4,722.9 1408.1,724.9 1409.8,727.0 1411.4,729.3 1412.9,732.1 1414.3,735.5 1415.7,739.4 1417.0,743.5 1418.2,747.7 1419.4,751.6 1420.5,755.1 1421.5,758.4 1422.5,761.8 1423.4,765.4 1424.3,769.5 1425.2,774.4 1426.1,779.9 1427.0,785.6 1427.8,791.2 1428.4,796.3 1428.8,800.9 1429.1,805.2 1429.2,809.2 1429.3,813.3 1429.5,817.4"/>
<path d="M1416.2,907.8 1416.1,909.9 1416.0,912.1 1415.9,914.3 1415.7,916.3 1415.3,918.3 1414.7,920.2 1414.0,921.9 1413.2,923.6 1412.3,925.2 1411.3,926.5 1410.2,927.6 1408.9,928.4 1407.5,929.1 1406.1,929.8 1404.8,930.5"/>
</g>
<g fill="#fff" font-size="35" text-anchor="middle" letter-spacing=".7">
<text x="1633.2" y="91.8">19</text>
<text x="1555.5" y="136.1">20</text>
<text x="1470.8" y="196.9">20.2</text>
<text x="1419.0" y="281.6">20.6</text>
<text x="1419.0" y="409.8">20.6</text>
<text x="1470.7" y="512.0">20</text>
<text x="1530.1" y="524.2">19</text>
<text x="1456.8" y="637.8">20.2</text>
<text x="1443.0" y="751.8">20.4</text>
<text x="1589.2" y="773.8">18</text>
<text x="1419.0" y="872.1">20.6</text>
<text x="1679.0" y="824.5">17</text>
<text x="1417.7" y="106.8">17</text>
<text x="1500.3" y="106.8">18</text>
<text x="1646.6" y="944.0" font-size="43">(d)</text>
</g>
<path d="M1401.3,67.7 L1401.3,97.3 L1403.2,97.3 L1417.5,96.8 L1432.0,96.3 L1446.2,95.8 L1459.8,95.3 L1473.3,94.7 L1486.7,94.0 L1498.8,93.4 L1508.5,92.8 L1514.3,92.3 L1517.2,92.0 L1519.7,91.6 L1524.0,90.9 L1531.4,89.9 L1540.4,88.6 L1549.5,87.3 L1557.0,86.2 L1562.1,85.4 L1565.8,84.8 L1569.2,84.2 L1573.7,83.4 L1579.7,82.3 L1586.4,81.1 L1593.4,79.8 L1600.0,78.6 L1606.1,77.4 L1612.0,76.3 L1617.8,75.1 L1623.5,74.0 L1629.0,72.9 L1634.4,71.8 L1639.7,70.8 L1645.0,69.7 L1645.0,67.7 Z" fill="#fff"/>
<path d="M1401.3,980.5 L1401.3,951.9 L1403.2,951.9 L1413.7,952.3 L1424.0,952.6 L1434.6,953.0 L1445.6,953.5 L1457.3,954.1 L1469.5,954.8 L1481.9,955.7 L1494.2,956.7 L1506.4,957.9 L1518.5,959.3 L1530.7,960.8 L1542.9,962.4 L1555.2,964.1 L1567.7,966.0 L1579.9,967.9 L1591.5,969.7 L1602.7,971.5 L1613.5,973.2 L1623.5,974.9 L1632.0,976.2 L1638.4,977.2 L1643.3,977.8 L1647.5,978.4 L1652.0,979.0 L1652.0,980.5 Z" fill="#fff"/>
</g>
<g fill="none" stroke="#000" stroke-width="3.6">
<rect x="165.8" y="69.7" width="284.4" height="908.8"/>
<rect x="578.2" y="69.7" width="284.4" height="908.8"/>
<rect x="990.5" y="69.7" width="284.4" height="908.8"/>
<rect x="1403.3" y="69.7" width="284.4" height="908.8"/>
<rect x="1701.2" y="69.7" width="32.3" height="908.8"/>
</g>
<g stroke="#000" stroke-width="2.9">
<path d="M165.8,950.1h-15.0"/>
<path d="M165.8,808.1h-15.0"/>
<path d="M165.8,666.1h-15.0"/>
<path d="M165.8,524.1h-15.0"/>
<path d="M165.8,382.1h-15.0"/>
<path d="M165.8,240.1h-15.0"/>
<path d="M165.8,98.1h-15.0"/>
<path d="M165.8,879.1h-9.0"/>
<path d="M165.8,737.1h-9.0"/>
<path d="M165.8,595.1h-9.0"/>
<path d="M165.8,453.1h-9.0"/>
<path d="M165.8,311.1h-9.0"/>
<path d="M165.8,169.1h-9.0"/>
<path d="M165.8,978.5v15.0"/>
<path d="M308.0,978.5v15.0"/>
<path d="M450.2,978.5v15.0"/>
<path d="M236.9,978.5v9.0"/>
<path d="M379.1,978.5v9.0"/>
<path d="M578.2,950.1h-15.0"/>
<path d="M578.2,808.1h-15.0"/>
<path d="M578.2,666.1h-15.0"/>
<path d="M578.2,524.1h-15.0"/>
<path d="M578.2,382.1h-15.0"/>
<path d="M578.2,240.1h-15.0"/>
<path d="M578.2,98.1h-15.0"/>
<path d="M578.2,879.1h-9.0"/>
<path d="M578.2,737.1h-9.0"/>
<path d="M578.2,595.1h-9.0"/>
<path d="M578.2,453.1h-9.0"/>
<path d="M578.2,311.1h-9.0"/>
<path d="M578.2,169.1h-9.0"/>
<path d="M578.2,978.5v15.0"/>
<path d="M720.4,978.5v15.0"/>
<path d="M862.6,978.5v15.0"/>
<path d="M649.3,978.5v9.0"/>
<path d="M791.5,978.5v9.0"/>
<path d="M990.5,950.1h-15.0"/>
<path d="M990.5,808.1h-15.0"/>
<path d="M990.5,666.1h-15.0"/>
<path d="M990.5,524.1h-15.0"/>
<path d="M990.5,382.1h-15.0"/>
<path d="M990.5,240.1h-15.0"/>
<path d="M990.5,98.1h-15.0"/>
<path d="M990.5,879.1h-9.0"/>
<path d="M990.5,737.1h-9.0"/>
<path d="M990.5,595.1h-9.0"/>
<path d="M990.5,453.1h-9.0"/>
<path d="M990.5,311.1h-9.0"/>
<path d="M990.5,169.1h-9.0"/>
<path d="M990.5,978.5v15.0"/>
<path d="M1132.7,978.5v15.0"/>
<path d="M1274.9,978.5v15.0"/>
<path d="M1061.6,978.5v9.0"/>
<path d="M1203.8,978.5v9.0"/>
<path d="M1403.3,950.1h-15.0"/>
<path d="M1403.3,808.1h-15.0"/>
<path d="M1403.3,666.1h-15.0"/>
<path d="M1403.3,524.1h-15.0"/>
<path d="M1403.3,382.1h-15.0"/>
<path d="M1403.3,240.1h-15.0"/>
<path d="M1403.3,98.1h-15.0"/>
<path d="M1403.3,879.1h-9.0"/>
<path d="M1403.3,737.1h-9.0"/>
<path d="M1403.3,595.1h-9.0"/>
<path d="M1403.3,453.1h-9.0"/>
<path d="M1403.3,311.1h-9.0"/>
<path d="M1403.3,169.1h-9.0"/>
<path d="M1403.3,978.5v15.0"/>
<path d="M1545.5,978.5v15.0"/>
<path d="M1687.7,978.5v15.0"/>
<path d="M1474.4,978.5v9.0"/>
<path d="M1616.6,978.5v9.0"/>
<path d="M1733.5,69.7h13.2"/>
<path d="M1733.5,221.2h13.2"/>
<path d="M1733.5,372.6h13.2"/>
<path d="M1733.5,524.1h13.2"/>
<path d="M1733.5,675.6h13.2"/>
<path d="M1733.5,827.0h13.2"/>
<path d="M1733.5,978.5h13.2"/>
</g>
<g fill="#000" font-size="43">
<text x="132.5" y="964.3" text-anchor="end">0.0</text>
<text x="132.5" y="822.3" text-anchor="end">0.25</text>
<text x="132.5" y="680.3" text-anchor="end">0.5</text>
<text x="132.5" y="538.3" text-anchor="end">0.75</text>
<text x="132.5" y="396.3" text-anchor="end">1.0</text>
<text x="132.5" y="254.3" text-anchor="end">1.25</text>
<text x="132.5" y="112.3" text-anchor="end">1.5</text>
<text x="164.3" y="1038.0" text-anchor="middle">0.00</text>
<text x="306.5" y="1038.0" text-anchor="middle">0.25</text>
<text x="448.7" y="1038.0" text-anchor="middle">0.50</text>
<text x="306.0" y="1095.0" text-anchor="middle"><tspan font-style="italic">r</tspan> [mm]</text>
<text x="165.3" y="58.0" font-size="38">51.1 µs</text>
<text x="576.7" y="1038.0" text-anchor="middle">0.00</text>
<text x="718.9" y="1038.0" text-anchor="middle">0.25</text>
<text x="861.1" y="1038.0" text-anchor="middle">0.50</text>
<text x="718.4" y="1095.0" text-anchor="middle"><tspan font-style="italic">r</tspan> [mm]</text>
<text x="577.7" y="58.0" font-size="38">51.6 µs</text>
<text x="989.0" y="1038.0" text-anchor="middle">0.00</text>
<text x="1131.2" y="1038.0" text-anchor="middle">0.25</text>
<text x="1273.4" y="1038.0" text-anchor="middle">0.50</text>
<text x="1130.7" y="1095.0" text-anchor="middle"><tspan font-style="italic">r</tspan> [mm]</text>
<text x="990.0" y="58.0" font-size="38">51.8 µs</text>
<text x="1401.8" y="1038.0" text-anchor="middle">0.00</text>
<text x="1544.0" y="1038.0" text-anchor="middle">0.25</text>
<text x="1686.2" y="1038.0" text-anchor="middle">0.50</text>
<text x="1543.5" y="1095.0" text-anchor="middle"><tspan font-style="italic">r</tspan> [mm]</text>
<text x="1402.8" y="58.0" font-size="38">52.0 µs</text>
<text x="1759.0" y="83.9">21.0</text>
<text x="1759.0" y="235.4">20.5</text>
<text x="1759.0" y="386.8">20.0</text>
<text x="1759.0" y="538.3">19.5</text>
<text x="1759.0" y="689.8">19.0</text>
<text x="1759.0" y="841.2">18.5</text>
<text x="1759.0" y="992.7">18.0</text>
<text transform="translate(34.0,527.0) rotate(-90)" text-anchor="middle"><tspan font-style="italic">z</tspan> [mm]</text>
<text transform="translate(68.0,83.0) rotate(-90)" text-anchor="middle">D-</text>
<text transform="translate(68.0,922.0) rotate(-90)" text-anchor="middle" letter-spacing="5">M+</text>
<text x="1852.0" y="34.5" text-anchor="end" letter-spacing="2">log<tspan font-size="27" dy="10.5">10</tspan><tspan dy="-10.5">(</tspan><tspan font-style="italic">n</tspan><tspan font-size="27" dy="10.5">e</tspan><tspan dy="-10.5"> [m</tspan><tspan font-size="27" dy="-13">−3</tspan><tspan dy="13">])</tspan></text>
</g>
</svg>
</body></html>
